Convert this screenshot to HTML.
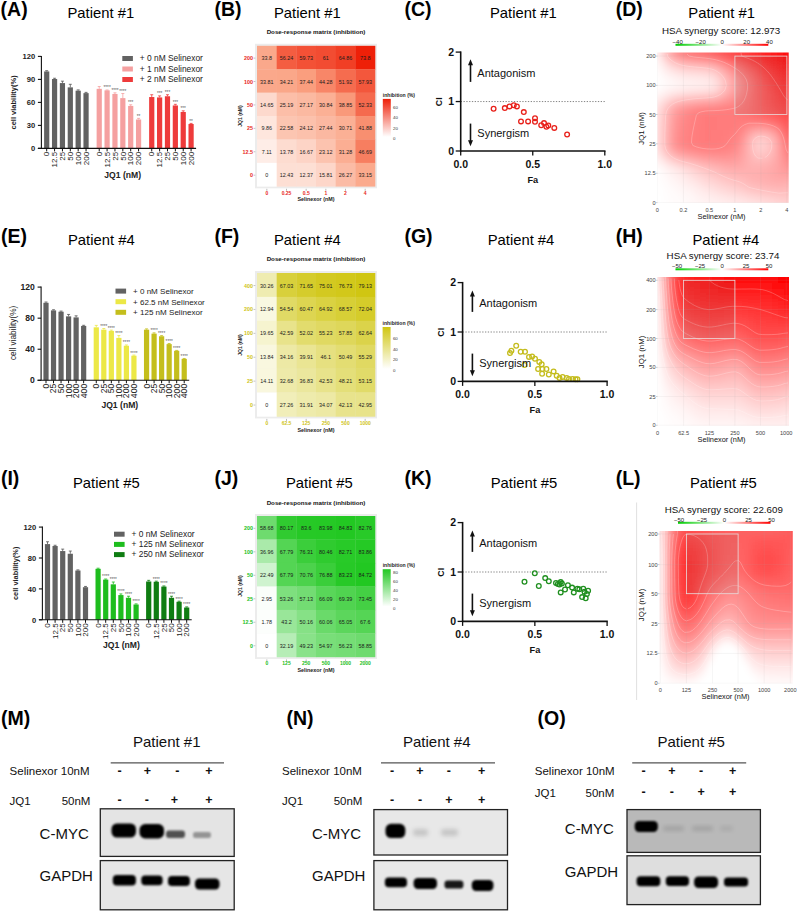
<!DOCTYPE html><html><head><meta charset="utf-8"><style>html,body{margin:0;padding:0;background:#fff;width:798px;height:911px;overflow:hidden}svg{display:block}text{font-family:"Liberation Sans",sans-serif}</style></head><body>
<svg width="798" height="911" viewBox="0 0 798 911">
<text x="0.6" y="15.6" font-size="19.5" font-weight="bold">(A)</text>
<text x="214.4" y="15.6" font-size="19.5" font-weight="bold">(B)</text>
<text x="404.4" y="15.6" font-size="19.5" font-weight="bold">(C)</text>
<text x="615.7" y="15.6" font-size="19.5" font-weight="bold">(D)</text>
<text x="0.9" y="242.6" font-size="19.5" font-weight="bold">(E)</text>
<text x="214.4" y="242.6" font-size="19.5" font-weight="bold">(F)</text>
<text x="404.4" y="242.6" font-size="19.5" font-weight="bold">(G)</text>
<text x="615.7" y="242.6" font-size="19.5" font-weight="bold">(H)</text>
<text x="0.9" y="485.4" font-size="19.5" font-weight="bold">(I)</text>
<text x="214.4" y="485.4" font-size="19.5" font-weight="bold">(J)</text>
<text x="404.4" y="485.4" font-size="19.5" font-weight="bold">(K)</text>
<text x="615.7" y="485.4" font-size="19.5" font-weight="bold">(L)</text>
<text x="0.9" y="724.8" font-size="19.5" font-weight="bold">(M)</text>
<text x="286.4" y="724.8" font-size="19.5" font-weight="bold">(N)</text>
<text x="537.5" y="724.8" font-size="19.5" font-weight="bold">(O)</text>
<text x="67.5" y="18.2" font-size="14.8">Patient #1</text>
<text x="274.0" y="18.2" font-size="14.8">Patient #1</text>
<text x="490.0" y="18.2" font-size="14.8">Patient #1</text>
<text x="688.3" y="18.2" font-size="14.8">Patient #1</text>
<text x="68.0" y="244.8" font-size="14.8">Patient #4</text>
<text x="274.0" y="244.8" font-size="14.8">Patient #4</text>
<text x="487.7" y="244.8" font-size="14.8">Patient #4</text>
<text x="692.5" y="244.8" font-size="14.8">Patient #4</text>
<text x="73.0" y="487.8" font-size="14.8">Patient #5</text>
<text x="286.0" y="487.8" font-size="14.8">Patient #5</text>
<text x="490.7" y="487.8" font-size="14.8">Patient #5</text>
<text x="690.0" y="487.8" font-size="14.8">Patient #5</text>
<rect x="44.10" y="71.43" width="5.20" height="76.97" fill="#626262"/>
<line x1="46.70" y1="71.43" x2="46.70" y2="70.66" stroke="#555" stroke-width="0.8"/>
<line x1="45.20" y1="70.66" x2="48.20" y2="70.66" stroke="#555" stroke-width="0.8"/>
<rect x="51.97" y="79.02" width="5.20" height="69.38" fill="#626262"/>
<line x1="54.57" y1="79.02" x2="54.57" y2="78.25" stroke="#555" stroke-width="0.8"/>
<line x1="53.07" y1="78.25" x2="56.07" y2="78.25" stroke="#555" stroke-width="0.8"/>
<rect x="59.84" y="83.08" width="5.20" height="65.32" fill="#626262"/>
<line x1="62.44" y1="83.08" x2="62.44" y2="81.16" stroke="#555" stroke-width="0.8"/>
<line x1="60.94" y1="81.16" x2="63.94" y2="81.16" stroke="#555" stroke-width="0.8"/>
<rect x="67.71" y="87.37" width="5.20" height="61.03" fill="#626262"/>
<line x1="70.31" y1="87.37" x2="70.31" y2="84.31" stroke="#555" stroke-width="0.8"/>
<line x1="68.81" y1="84.31" x2="71.81" y2="84.31" stroke="#555" stroke-width="0.8"/>
<rect x="75.58" y="90.67" width="5.20" height="57.73" fill="#626262"/>
<line x1="78.18" y1="90.67" x2="78.18" y2="89.90" stroke="#555" stroke-width="0.8"/>
<line x1="76.68" y1="89.90" x2="79.68" y2="89.90" stroke="#555" stroke-width="0.8"/>
<rect x="83.45" y="93.12" width="5.20" height="55.28" fill="#626262"/>
<line x1="86.05" y1="93.12" x2="86.05" y2="92.36" stroke="#555" stroke-width="0.8"/>
<line x1="84.55" y1="92.36" x2="87.55" y2="92.36" stroke="#555" stroke-width="0.8"/>
<rect x="96.62" y="88.83" width="5.20" height="59.57" fill="#f5a0a0"/>
<line x1="99.22" y1="88.83" x2="99.22" y2="86.53" stroke="#f5a0a0" stroke-width="0.8"/>
<line x1="97.72" y1="86.53" x2="100.72" y2="86.53" stroke="#f5a0a0" stroke-width="0.8"/>
<rect x="104.49" y="90.36" width="5.20" height="58.04" fill="#f5a0a0"/>
<line x1="107.09" y1="90.36" x2="107.09" y2="89.98" stroke="#f5a0a0" stroke-width="0.8"/>
<line x1="105.59" y1="89.98" x2="108.59" y2="89.98" stroke="#f5a0a0" stroke-width="0.8"/>
<text x="107.1" y="89.4" font-size="4.6" text-anchor="middle" fill="#555">****</text>
<rect x="112.36" y="93.97" width="5.20" height="54.43" fill="#f5a0a0"/>
<line x1="114.96" y1="93.97" x2="114.96" y2="92.82" stroke="#f5a0a0" stroke-width="0.8"/>
<line x1="113.46" y1="92.82" x2="116.46" y2="92.82" stroke="#f5a0a0" stroke-width="0.8"/>
<text x="115.0" y="92.2" font-size="4.6" text-anchor="middle" fill="#555">****</text>
<rect x="120.23" y="98.11" width="5.20" height="50.29" fill="#f5a0a0"/>
<line x1="122.83" y1="98.11" x2="122.83" y2="93.51" stroke="#f5a0a0" stroke-width="0.8"/>
<line x1="121.33" y1="93.51" x2="124.33" y2="93.51" stroke="#f5a0a0" stroke-width="0.8"/>
<text x="122.8" y="92.9" font-size="4.6" text-anchor="middle" fill="#555">****</text>
<rect x="128.10" y="105.93" width="5.20" height="42.47" fill="#f5a0a0"/>
<line x1="130.70" y1="105.93" x2="130.70" y2="104.78" stroke="#f5a0a0" stroke-width="0.8"/>
<line x1="129.20" y1="104.78" x2="132.20" y2="104.78" stroke="#f5a0a0" stroke-width="0.8"/>
<text x="130.7" y="104.2" font-size="4.6" text-anchor="middle" fill="#555">***</text>
<rect x="135.97" y="119.50" width="5.20" height="28.90" fill="#f5a0a0"/>
<line x1="138.57" y1="119.50" x2="138.57" y2="118.35" stroke="#f5a0a0" stroke-width="0.8"/>
<line x1="137.07" y1="118.35" x2="140.07" y2="118.35" stroke="#f5a0a0" stroke-width="0.8"/>
<text x="138.6" y="117.7" font-size="4.6" text-anchor="middle" fill="#555">**</text>
<rect x="149.14" y="97.03" width="5.20" height="51.37" fill="#ee3b3b"/>
<line x1="151.74" y1="97.03" x2="151.74" y2="94.73" stroke="#ee3b3b" stroke-width="0.8"/>
<line x1="150.24" y1="94.73" x2="153.24" y2="94.73" stroke="#ee3b3b" stroke-width="0.8"/>
<rect x="157.01" y="97.42" width="5.20" height="50.98" fill="#ee3b3b"/>
<line x1="159.61" y1="97.42" x2="159.61" y2="95.88" stroke="#ee3b3b" stroke-width="0.8"/>
<line x1="158.11" y1="95.88" x2="161.11" y2="95.88" stroke="#ee3b3b" stroke-width="0.8"/>
<text x="159.6" y="95.3" font-size="4.6" text-anchor="middle" fill="#555">***</text>
<rect x="164.88" y="96.27" width="5.20" height="52.13" fill="#ee3b3b"/>
<line x1="167.48" y1="96.27" x2="167.48" y2="94.73" stroke="#ee3b3b" stroke-width="0.8"/>
<line x1="165.98" y1="94.73" x2="168.98" y2="94.73" stroke="#ee3b3b" stroke-width="0.8"/>
<text x="167.5" y="94.1" font-size="4.6" text-anchor="middle" fill="#555">***</text>
<rect x="172.75" y="105.47" width="5.20" height="42.93" fill="#ee3b3b"/>
<line x1="175.35" y1="105.47" x2="175.35" y2="104.32" stroke="#ee3b3b" stroke-width="0.8"/>
<line x1="173.85" y1="104.32" x2="176.85" y2="104.32" stroke="#ee3b3b" stroke-width="0.8"/>
<text x="175.4" y="103.7" font-size="4.6" text-anchor="middle" fill="#555">***</text>
<rect x="180.62" y="111.98" width="5.20" height="36.42" fill="#ee3b3b"/>
<line x1="183.22" y1="111.98" x2="183.22" y2="110.83" stroke="#ee3b3b" stroke-width="0.8"/>
<line x1="181.72" y1="110.83" x2="184.72" y2="110.83" stroke="#ee3b3b" stroke-width="0.8"/>
<text x="183.2" y="110.2" font-size="4.6" text-anchor="middle" fill="#555">***</text>
<rect x="188.49" y="124.02" width="5.20" height="24.38" fill="#ee3b3b"/>
<line x1="191.09" y1="124.02" x2="191.09" y2="123.41" stroke="#ee3b3b" stroke-width="0.8"/>
<line x1="189.59" y1="123.41" x2="192.59" y2="123.41" stroke="#ee3b3b" stroke-width="0.8"/>
<text x="191.1" y="122.8" font-size="4.6" text-anchor="middle" fill="#555">**</text>
<line x1="41.40" y1="55.90" x2="41.40" y2="148.40" stroke="#111" stroke-width="1.1"/>
<line x1="37.90" y1="148.40" x2="196.09" y2="148.40" stroke="#111" stroke-width="1.1"/>
<line x1="37.90" y1="148.40" x2="41.40" y2="148.40" stroke="#111" stroke-width="1.1"/>
<text x="35.2" y="151.1" font-size="7.6" font-weight="bold" text-anchor="end" fill="#222">0</text>
<line x1="37.90" y1="125.40" x2="41.40" y2="125.40" stroke="#111" stroke-width="1.1"/>
<text x="35.2" y="128.1" font-size="7.6" font-weight="bold" text-anchor="end" fill="#222">30</text>
<line x1="37.90" y1="102.40" x2="41.40" y2="102.40" stroke="#111" stroke-width="1.1"/>
<text x="35.2" y="105.1" font-size="7.6" font-weight="bold" text-anchor="end" fill="#222">60</text>
<line x1="37.90" y1="79.40" x2="41.40" y2="79.40" stroke="#111" stroke-width="1.1"/>
<text x="35.2" y="82.1" font-size="7.6" font-weight="bold" text-anchor="end" fill="#222">90</text>
<line x1="37.90" y1="56.40" x2="41.40" y2="56.40" stroke="#111" stroke-width="1.1"/>
<text x="35.2" y="59.1" font-size="7.6" font-weight="bold" text-anchor="end" fill="#222">120</text>
<line x1="46.70" y1="148.40" x2="46.70" y2="151.40" stroke="#111" stroke-width="1.0"/>
<text x="49.5" y="151.9" font-size="8.0" text-anchor="end" fill="#222" transform="rotate(-90 49.5 151.9)">0</text>
<line x1="54.57" y1="148.40" x2="54.57" y2="151.40" stroke="#111" stroke-width="1.0"/>
<text x="57.4" y="151.9" font-size="8.0" text-anchor="end" fill="#222" transform="rotate(-90 57.4 151.9)">12.5</text>
<line x1="62.44" y1="148.40" x2="62.44" y2="151.40" stroke="#111" stroke-width="1.0"/>
<text x="65.2" y="151.9" font-size="8.0" text-anchor="end" fill="#222" transform="rotate(-90 65.2 151.9)">25</text>
<line x1="70.31" y1="148.40" x2="70.31" y2="151.40" stroke="#111" stroke-width="1.0"/>
<text x="73.1" y="151.9" font-size="8.0" text-anchor="end" fill="#222" transform="rotate(-90 73.1 151.9)">50</text>
<line x1="78.18" y1="148.40" x2="78.18" y2="151.40" stroke="#111" stroke-width="1.0"/>
<text x="81.0" y="151.9" font-size="8.0" text-anchor="end" fill="#222" transform="rotate(-90 81.0 151.9)">100</text>
<line x1="86.05" y1="148.40" x2="86.05" y2="151.40" stroke="#111" stroke-width="1.0"/>
<text x="88.9" y="151.9" font-size="8.0" text-anchor="end" fill="#222" transform="rotate(-90 88.9 151.9)">200</text>
<line x1="99.22" y1="148.40" x2="99.22" y2="151.40" stroke="#111" stroke-width="1.0"/>
<text x="102.0" y="151.9" font-size="8.0" text-anchor="end" fill="#222" transform="rotate(-90 102.0 151.9)">0</text>
<line x1="107.09" y1="148.40" x2="107.09" y2="151.40" stroke="#111" stroke-width="1.0"/>
<text x="109.9" y="151.9" font-size="8.0" text-anchor="end" fill="#222" transform="rotate(-90 109.9 151.9)">12.5</text>
<line x1="114.96" y1="148.40" x2="114.96" y2="151.40" stroke="#111" stroke-width="1.0"/>
<text x="117.8" y="151.9" font-size="8.0" text-anchor="end" fill="#222" transform="rotate(-90 117.8 151.9)">25</text>
<line x1="122.83" y1="148.40" x2="122.83" y2="151.40" stroke="#111" stroke-width="1.0"/>
<text x="125.6" y="151.9" font-size="8.0" text-anchor="end" fill="#222" transform="rotate(-90 125.6 151.9)">50</text>
<line x1="130.70" y1="148.40" x2="130.70" y2="151.40" stroke="#111" stroke-width="1.0"/>
<text x="133.5" y="151.9" font-size="8.0" text-anchor="end" fill="#222" transform="rotate(-90 133.5 151.9)">100</text>
<line x1="138.57" y1="148.40" x2="138.57" y2="151.40" stroke="#111" stroke-width="1.0"/>
<text x="141.4" y="151.9" font-size="8.0" text-anchor="end" fill="#222" transform="rotate(-90 141.4 151.9)">200</text>
<line x1="151.74" y1="148.40" x2="151.74" y2="151.40" stroke="#111" stroke-width="1.0"/>
<text x="154.5" y="151.9" font-size="8.0" text-anchor="end" fill="#222" transform="rotate(-90 154.5 151.9)">0</text>
<line x1="159.61" y1="148.40" x2="159.61" y2="151.40" stroke="#111" stroke-width="1.0"/>
<text x="162.4" y="151.9" font-size="8.0" text-anchor="end" fill="#222" transform="rotate(-90 162.4 151.9)">12.5</text>
<line x1="167.48" y1="148.40" x2="167.48" y2="151.40" stroke="#111" stroke-width="1.0"/>
<text x="170.3" y="151.9" font-size="8.0" text-anchor="end" fill="#222" transform="rotate(-90 170.3 151.9)">25</text>
<line x1="175.35" y1="148.40" x2="175.35" y2="151.40" stroke="#111" stroke-width="1.0"/>
<text x="178.2" y="151.9" font-size="8.0" text-anchor="end" fill="#222" transform="rotate(-90 178.2 151.9)">50</text>
<line x1="183.22" y1="148.40" x2="183.22" y2="151.40" stroke="#111" stroke-width="1.0"/>
<text x="186.0" y="151.9" font-size="8.0" text-anchor="end" fill="#222" transform="rotate(-90 186.0 151.9)">100</text>
<line x1="191.09" y1="148.40" x2="191.09" y2="151.40" stroke="#111" stroke-width="1.0"/>
<text x="193.9" y="151.9" font-size="8.0" text-anchor="end" fill="#222" transform="rotate(-90 193.9 151.9)">200</text>
<rect x="122.30" y="56.00" width="10.60" height="5.00" fill="#626262"/>
<text x="139.8" y="61.3" font-size="8.4" fill="#222">+ 0 nM Selinexor</text>
<rect x="122.30" y="66.50" width="10.60" height="5.00" fill="#f5a0a0"/>
<text x="139.8" y="71.8" font-size="8.4" fill="#222">+ 1 nM Selinexor</text>
<rect x="122.30" y="77.00" width="10.60" height="5.00" fill="#ee3b3b"/>
<text x="139.8" y="82.3" font-size="8.4" fill="#222">+ 2 nM Selinexor</text>
<text x="104.3" y="177.8" font-size="8.6" font-weight="bold" fill="#222">JQ1 (nM)</text>
<rect x="43.40" y="302.79" width="5.20" height="77.51" fill="#626262"/>
<line x1="46.00" y1="302.79" x2="46.00" y2="302.01" stroke="#555" stroke-width="0.8"/>
<line x1="44.50" y1="302.01" x2="47.50" y2="302.01" stroke="#555" stroke-width="0.8"/>
<rect x="50.93" y="310.40" width="5.20" height="69.90" fill="#626262"/>
<line x1="53.53" y1="310.40" x2="53.53" y2="309.78" stroke="#555" stroke-width="0.8"/>
<line x1="52.03" y1="309.78" x2="55.03" y2="309.78" stroke="#555" stroke-width="0.8"/>
<rect x="58.46" y="311.72" width="5.20" height="68.58" fill="#626262"/>
<line x1="61.06" y1="311.72" x2="61.06" y2="311.10" stroke="#555" stroke-width="0.8"/>
<line x1="59.56" y1="311.10" x2="62.56" y2="311.10" stroke="#555" stroke-width="0.8"/>
<rect x="65.99" y="316.38" width="5.20" height="63.92" fill="#626262"/>
<line x1="68.59" y1="316.38" x2="68.59" y2="314.44" stroke="#555" stroke-width="0.8"/>
<line x1="67.09" y1="314.44" x2="70.09" y2="314.44" stroke="#555" stroke-width="0.8"/>
<rect x="73.52" y="317.39" width="5.20" height="62.91" fill="#626262"/>
<line x1="76.12" y1="317.39" x2="76.12" y2="315.84" stroke="#555" stroke-width="0.8"/>
<line x1="74.62" y1="315.84" x2="77.62" y2="315.84" stroke="#555" stroke-width="0.8"/>
<rect x="81.05" y="325.93" width="5.20" height="54.37" fill="#626262"/>
<line x1="83.65" y1="325.93" x2="83.65" y2="325.31" stroke="#555" stroke-width="0.8"/>
<line x1="82.15" y1="325.31" x2="85.15" y2="325.31" stroke="#555" stroke-width="0.8"/>
<rect x="93.68" y="327.33" width="5.20" height="52.97" fill="#ece846"/>
<line x1="96.28" y1="327.33" x2="96.28" y2="325.39" stroke="#ece846" stroke-width="0.8"/>
<line x1="94.78" y1="325.39" x2="97.78" y2="325.39" stroke="#ece846" stroke-width="0.8"/>
<rect x="101.21" y="329.66" width="5.20" height="50.64" fill="#ece846"/>
<line x1="103.81" y1="329.66" x2="103.81" y2="328.50" stroke="#ece846" stroke-width="0.8"/>
<line x1="102.31" y1="328.50" x2="105.31" y2="328.50" stroke="#ece846" stroke-width="0.8"/>
<text x="103.8" y="327.9" font-size="4.6" text-anchor="middle" fill="#555">****</text>
<rect x="108.74" y="330.90" width="5.20" height="49.40" fill="#ece846"/>
<line x1="111.34" y1="330.90" x2="111.34" y2="330.13" stroke="#ece846" stroke-width="0.8"/>
<line x1="109.84" y1="330.13" x2="112.84" y2="330.13" stroke="#ece846" stroke-width="0.8"/>
<text x="111.3" y="329.5" font-size="4.6" text-anchor="middle" fill="#555">****</text>
<rect x="116.27" y="337.89" width="5.20" height="42.41" fill="#ece846"/>
<line x1="118.87" y1="337.89" x2="118.87" y2="335.56" stroke="#ece846" stroke-width="0.8"/>
<line x1="117.37" y1="335.56" x2="120.37" y2="335.56" stroke="#ece846" stroke-width="0.8"/>
<text x="118.9" y="335.0" font-size="4.6" text-anchor="middle" fill="#555">****</text>
<rect x="123.80" y="345.74" width="5.20" height="34.56" fill="#ece846"/>
<line x1="126.40" y1="345.74" x2="126.40" y2="344.96" stroke="#ece846" stroke-width="0.8"/>
<line x1="124.90" y1="344.96" x2="127.90" y2="344.96" stroke="#ece846" stroke-width="0.8"/>
<text x="126.4" y="344.4" font-size="4.6" text-anchor="middle" fill="#555">****</text>
<rect x="131.33" y="355.68" width="5.20" height="24.62" fill="#ece846"/>
<line x1="133.93" y1="355.68" x2="133.93" y2="355.06" stroke="#ece846" stroke-width="0.8"/>
<line x1="132.43" y1="355.06" x2="135.43" y2="355.06" stroke="#ece846" stroke-width="0.8"/>
<text x="133.9" y="354.5" font-size="4.6" text-anchor="middle" fill="#555">****</text>
<rect x="143.96" y="329.66" width="5.20" height="50.64" fill="#c4be1c"/>
<line x1="146.56" y1="329.66" x2="146.56" y2="328.88" stroke="#c4be1c" stroke-width="0.8"/>
<line x1="145.06" y1="328.88" x2="148.06" y2="328.88" stroke="#c4be1c" stroke-width="0.8"/>
<rect x="151.49" y="333.62" width="5.20" height="46.68" fill="#c4be1c"/>
<line x1="154.09" y1="333.62" x2="154.09" y2="332.85" stroke="#c4be1c" stroke-width="0.8"/>
<line x1="152.59" y1="332.85" x2="155.59" y2="332.85" stroke="#c4be1c" stroke-width="0.8"/>
<text x="154.1" y="332.2" font-size="4.6" text-anchor="middle" fill="#555">****</text>
<rect x="159.02" y="336.26" width="5.20" height="44.04" fill="#c4be1c"/>
<line x1="161.62" y1="336.26" x2="161.62" y2="335.64" stroke="#c4be1c" stroke-width="0.8"/>
<line x1="160.12" y1="335.64" x2="163.12" y2="335.64" stroke="#c4be1c" stroke-width="0.8"/>
<text x="161.6" y="335.0" font-size="4.6" text-anchor="middle" fill="#555">****</text>
<rect x="166.55" y="344.11" width="5.20" height="36.19" fill="#c4be1c"/>
<line x1="169.15" y1="344.11" x2="169.15" y2="343.49" stroke="#c4be1c" stroke-width="0.8"/>
<line x1="167.65" y1="343.49" x2="170.65" y2="343.49" stroke="#c4be1c" stroke-width="0.8"/>
<text x="169.2" y="342.9" font-size="4.6" text-anchor="middle" fill="#555">****</text>
<rect x="174.08" y="350.79" width="5.20" height="29.51" fill="#c4be1c"/>
<line x1="176.68" y1="350.79" x2="176.68" y2="350.40" stroke="#c4be1c" stroke-width="0.8"/>
<line x1="175.18" y1="350.40" x2="178.18" y2="350.40" stroke="#c4be1c" stroke-width="0.8"/>
<text x="176.7" y="349.8" font-size="4.6" text-anchor="middle" fill="#555">****</text>
<rect x="181.61" y="358.86" width="5.20" height="21.44" fill="#c4be1c"/>
<line x1="184.21" y1="358.86" x2="184.21" y2="358.48" stroke="#c4be1c" stroke-width="0.8"/>
<line x1="182.71" y1="358.48" x2="185.71" y2="358.48" stroke="#c4be1c" stroke-width="0.8"/>
<text x="184.2" y="357.9" font-size="4.6" text-anchor="middle" fill="#555">****</text>
<line x1="41.10" y1="286.60" x2="41.10" y2="380.30" stroke="#111" stroke-width="1.1"/>
<line x1="37.60" y1="380.30" x2="189.21" y2="380.30" stroke="#111" stroke-width="1.1"/>
<line x1="37.60" y1="380.30" x2="41.10" y2="380.30" stroke="#111" stroke-width="1.1"/>
<text x="34.9" y="383.4" font-size="8.6" font-weight="bold" text-anchor="end" fill="#222">0</text>
<line x1="37.60" y1="349.23" x2="41.10" y2="349.23" stroke="#111" stroke-width="1.1"/>
<text x="34.9" y="352.3" font-size="8.6" font-weight="bold" text-anchor="end" fill="#222">40</text>
<line x1="37.60" y1="318.17" x2="41.10" y2="318.17" stroke="#111" stroke-width="1.1"/>
<text x="34.9" y="321.3" font-size="8.6" font-weight="bold" text-anchor="end" fill="#222">80</text>
<line x1="37.60" y1="287.10" x2="41.10" y2="287.10" stroke="#111" stroke-width="1.1"/>
<text x="34.9" y="290.2" font-size="8.6" font-weight="bold" text-anchor="end" fill="#222">120</text>
<line x1="46.00" y1="380.30" x2="46.00" y2="383.30" stroke="#111" stroke-width="1.0"/>
<text x="49.0" y="383.8" font-size="8.6" text-anchor="end" fill="#222" transform="rotate(-90 49.0 383.8)">0</text>
<line x1="53.53" y1="380.30" x2="53.53" y2="383.30" stroke="#111" stroke-width="1.0"/>
<text x="56.5" y="383.8" font-size="8.6" text-anchor="end" fill="#222" transform="rotate(-90 56.5 383.8)">25</text>
<line x1="61.06" y1="380.30" x2="61.06" y2="383.30" stroke="#111" stroke-width="1.0"/>
<text x="64.1" y="383.8" font-size="8.6" text-anchor="end" fill="#222" transform="rotate(-90 64.1 383.8)">50</text>
<line x1="68.59" y1="380.30" x2="68.59" y2="383.30" stroke="#111" stroke-width="1.0"/>
<text x="71.6" y="383.8" font-size="8.6" text-anchor="end" fill="#222" transform="rotate(-90 71.6 383.8)">100</text>
<line x1="76.12" y1="380.30" x2="76.12" y2="383.30" stroke="#111" stroke-width="1.0"/>
<text x="79.1" y="383.8" font-size="8.6" text-anchor="end" fill="#222" transform="rotate(-90 79.1 383.8)">200</text>
<line x1="83.65" y1="380.30" x2="83.65" y2="383.30" stroke="#111" stroke-width="1.0"/>
<text x="86.7" y="383.8" font-size="8.6" text-anchor="end" fill="#222" transform="rotate(-90 86.7 383.8)">400</text>
<line x1="96.28" y1="380.30" x2="96.28" y2="383.30" stroke="#111" stroke-width="1.0"/>
<text x="99.3" y="383.8" font-size="8.6" text-anchor="end" fill="#222" transform="rotate(-90 99.3 383.8)">0</text>
<line x1="103.81" y1="380.30" x2="103.81" y2="383.30" stroke="#111" stroke-width="1.0"/>
<text x="106.8" y="383.8" font-size="8.6" text-anchor="end" fill="#222" transform="rotate(-90 106.8 383.8)">25</text>
<line x1="111.34" y1="380.30" x2="111.34" y2="383.30" stroke="#111" stroke-width="1.0"/>
<text x="114.4" y="383.8" font-size="8.6" text-anchor="end" fill="#222" transform="rotate(-90 114.4 383.8)">50</text>
<line x1="118.87" y1="380.30" x2="118.87" y2="383.30" stroke="#111" stroke-width="1.0"/>
<text x="121.9" y="383.8" font-size="8.6" text-anchor="end" fill="#222" transform="rotate(-90 121.9 383.8)">100</text>
<line x1="126.40" y1="380.30" x2="126.40" y2="383.30" stroke="#111" stroke-width="1.0"/>
<text x="129.4" y="383.8" font-size="8.6" text-anchor="end" fill="#222" transform="rotate(-90 129.4 383.8)">200</text>
<line x1="133.93" y1="380.30" x2="133.93" y2="383.30" stroke="#111" stroke-width="1.0"/>
<text x="136.9" y="383.8" font-size="8.6" text-anchor="end" fill="#222" transform="rotate(-90 136.9 383.8)">400</text>
<line x1="146.56" y1="380.30" x2="146.56" y2="383.30" stroke="#111" stroke-width="1.0"/>
<text x="149.6" y="383.8" font-size="8.6" text-anchor="end" fill="#222" transform="rotate(-90 149.6 383.8)">0</text>
<line x1="154.09" y1="380.30" x2="154.09" y2="383.30" stroke="#111" stroke-width="1.0"/>
<text x="157.1" y="383.8" font-size="8.6" text-anchor="end" fill="#222" transform="rotate(-90 157.1 383.8)">25</text>
<line x1="161.62" y1="380.30" x2="161.62" y2="383.30" stroke="#111" stroke-width="1.0"/>
<text x="164.6" y="383.8" font-size="8.6" text-anchor="end" fill="#222" transform="rotate(-90 164.6 383.8)">50</text>
<line x1="169.15" y1="380.30" x2="169.15" y2="383.30" stroke="#111" stroke-width="1.0"/>
<text x="172.2" y="383.8" font-size="8.6" text-anchor="end" fill="#222" transform="rotate(-90 172.2 383.8)">100</text>
<line x1="176.68" y1="380.30" x2="176.68" y2="383.30" stroke="#111" stroke-width="1.0"/>
<text x="179.7" y="383.8" font-size="8.6" text-anchor="end" fill="#222" transform="rotate(-90 179.7 383.8)">200</text>
<line x1="184.21" y1="380.30" x2="184.21" y2="383.30" stroke="#111" stroke-width="1.0"/>
<text x="187.2" y="383.8" font-size="8.6" text-anchor="end" fill="#222" transform="rotate(-90 187.2 383.8)">400</text>
<rect x="115.50" y="288.60" width="10.60" height="5.00" fill="#626262"/>
<text x="133.0" y="293.9" font-size="8.05" fill="#222">+ 0 nM Selinexor</text>
<rect x="115.50" y="299.20" width="10.60" height="5.00" fill="#ece846"/>
<text x="133.0" y="304.5" font-size="8.05" fill="#222">+ 62.5 nM Selinexor</text>
<rect x="115.50" y="309.80" width="10.60" height="5.00" fill="#c4be1c"/>
<text x="133.0" y="315.1" font-size="8.05" fill="#222">+ 125 nM Selinexor</text>
<text x="101.4" y="407.7" font-size="8.6" font-weight="bold" fill="#222">JQ1 (nM)</text>
<rect x="44.90" y="544.10" width="5.20" height="75.70" fill="#626262"/>
<line x1="47.50" y1="544.10" x2="47.50" y2="541.78" stroke="#555" stroke-width="0.8"/>
<line x1="46.00" y1="541.78" x2="49.00" y2="541.78" stroke="#555" stroke-width="0.8"/>
<rect x="52.50" y="546.03" width="5.20" height="73.77" fill="#626262"/>
<line x1="55.10" y1="546.03" x2="55.10" y2="545.25" stroke="#555" stroke-width="0.8"/>
<line x1="53.60" y1="545.25" x2="56.60" y2="545.25" stroke="#555" stroke-width="0.8"/>
<rect x="60.10" y="551.05" width="5.20" height="68.75" fill="#626262"/>
<line x1="62.70" y1="551.05" x2="62.70" y2="549.12" stroke="#555" stroke-width="0.8"/>
<line x1="61.20" y1="549.12" x2="64.20" y2="549.12" stroke="#555" stroke-width="0.8"/>
<rect x="67.70" y="553.75" width="5.20" height="66.05" fill="#626262"/>
<line x1="70.30" y1="553.75" x2="70.30" y2="551.05" stroke="#555" stroke-width="0.8"/>
<line x1="68.80" y1="551.05" x2="71.80" y2="551.05" stroke="#555" stroke-width="0.8"/>
<rect x="75.30" y="570.51" width="5.20" height="49.29" fill="#626262"/>
<line x1="77.90" y1="570.51" x2="77.90" y2="569.90" stroke="#555" stroke-width="0.8"/>
<line x1="76.40" y1="569.90" x2="79.40" y2="569.90" stroke="#555" stroke-width="0.8"/>
<rect x="82.90" y="587.20" width="5.20" height="32.60" fill="#626262"/>
<line x1="85.50" y1="587.20" x2="85.50" y2="586.43" stroke="#555" stroke-width="0.8"/>
<line x1="84.00" y1="586.43" x2="87.00" y2="586.43" stroke="#555" stroke-width="0.8"/>
<rect x="95.50" y="568.81" width="5.20" height="50.98" fill="#1ebd1e"/>
<line x1="98.10" y1="568.81" x2="98.10" y2="568.20" stroke="#1ebd1e" stroke-width="0.8"/>
<line x1="96.60" y1="568.20" x2="99.60" y2="568.20" stroke="#1ebd1e" stroke-width="0.8"/>
<rect x="103.10" y="579.63" width="5.20" height="40.17" fill="#1ebd1e"/>
<line x1="105.70" y1="579.63" x2="105.70" y2="579.01" stroke="#1ebd1e" stroke-width="0.8"/>
<line x1="104.20" y1="579.01" x2="107.20" y2="579.01" stroke="#1ebd1e" stroke-width="0.8"/>
<text x="105.7" y="578.4" font-size="4.6" text-anchor="middle" fill="#555">****</text>
<rect x="110.70" y="584.34" width="5.20" height="35.46" fill="#1ebd1e"/>
<line x1="113.30" y1="584.34" x2="113.30" y2="582.02" stroke="#1ebd1e" stroke-width="0.8"/>
<line x1="111.80" y1="582.02" x2="114.80" y2="582.02" stroke="#1ebd1e" stroke-width="0.8"/>
<text x="113.3" y="581.4" font-size="4.6" text-anchor="middle" fill="#555">****</text>
<rect x="118.30" y="595.08" width="5.20" height="24.72" fill="#1ebd1e"/>
<line x1="120.90" y1="595.08" x2="120.90" y2="593.92" stroke="#1ebd1e" stroke-width="0.8"/>
<line x1="119.40" y1="593.92" x2="122.40" y2="593.92" stroke="#1ebd1e" stroke-width="0.8"/>
<text x="120.9" y="593.3" font-size="4.6" text-anchor="middle" fill="#555">****</text>
<rect x="125.90" y="597.78" width="5.20" height="22.02" fill="#1ebd1e"/>
<line x1="128.50" y1="597.78" x2="128.50" y2="596.24" stroke="#1ebd1e" stroke-width="0.8"/>
<line x1="127.00" y1="596.24" x2="130.00" y2="596.24" stroke="#1ebd1e" stroke-width="0.8"/>
<text x="128.5" y="595.6" font-size="4.6" text-anchor="middle" fill="#555">****</text>
<rect x="133.50" y="604.50" width="5.20" height="15.30" fill="#1ebd1e"/>
<line x1="136.10" y1="604.50" x2="136.10" y2="603.89" stroke="#1ebd1e" stroke-width="0.8"/>
<line x1="134.60" y1="603.89" x2="137.60" y2="603.89" stroke="#1ebd1e" stroke-width="0.8"/>
<text x="136.1" y="603.3" font-size="4.6" text-anchor="middle" fill="#555">****</text>
<rect x="146.10" y="581.48" width="5.20" height="38.32" fill="#0f7d12"/>
<line x1="148.70" y1="581.48" x2="148.70" y2="580.33" stroke="#0f7d12" stroke-width="0.8"/>
<line x1="147.20" y1="580.33" x2="150.20" y2="580.33" stroke="#0f7d12" stroke-width="0.8"/>
<rect x="153.70" y="581.79" width="5.20" height="38.01" fill="#0f7d12"/>
<line x1="156.30" y1="581.79" x2="156.30" y2="581.17" stroke="#0f7d12" stroke-width="0.8"/>
<line x1="154.80" y1="581.17" x2="157.80" y2="581.17" stroke="#0f7d12" stroke-width="0.8"/>
<text x="156.3" y="580.6" font-size="4.6" text-anchor="middle" fill="#555">****</text>
<rect x="161.30" y="586.58" width="5.20" height="33.22" fill="#0f7d12"/>
<line x1="163.90" y1="586.58" x2="163.90" y2="585.96" stroke="#0f7d12" stroke-width="0.8"/>
<line x1="162.40" y1="585.96" x2="165.40" y2="585.96" stroke="#0f7d12" stroke-width="0.8"/>
<text x="163.9" y="585.4" font-size="4.6" text-anchor="middle" fill="#555">****</text>
<rect x="168.90" y="597.78" width="5.20" height="22.02" fill="#0f7d12"/>
<line x1="171.50" y1="597.78" x2="171.50" y2="596.24" stroke="#0f7d12" stroke-width="0.8"/>
<line x1="170.00" y1="596.24" x2="173.00" y2="596.24" stroke="#0f7d12" stroke-width="0.8"/>
<text x="171.5" y="595.6" font-size="4.6" text-anchor="middle" fill="#555">****</text>
<rect x="176.50" y="601.80" width="5.20" height="18.00" fill="#0f7d12"/>
<line x1="179.10" y1="601.80" x2="179.10" y2="601.18" stroke="#0f7d12" stroke-width="0.8"/>
<line x1="177.60" y1="601.18" x2="180.60" y2="601.18" stroke="#0f7d12" stroke-width="0.8"/>
<text x="179.1" y="600.6" font-size="4.6" text-anchor="middle" fill="#555">****</text>
<rect x="184.10" y="607.52" width="5.20" height="12.28" fill="#0f7d12"/>
<line x1="186.70" y1="607.52" x2="186.70" y2="606.90" stroke="#0f7d12" stroke-width="0.8"/>
<line x1="185.20" y1="606.90" x2="188.20" y2="606.90" stroke="#0f7d12" stroke-width="0.8"/>
<text x="186.7" y="606.3" font-size="4.6" text-anchor="middle" fill="#555">****</text>
<line x1="42.40" y1="526.60" x2="42.40" y2="619.80" stroke="#111" stroke-width="1.1"/>
<line x1="38.90" y1="619.80" x2="191.70" y2="619.80" stroke="#111" stroke-width="1.1"/>
<line x1="38.90" y1="619.80" x2="42.40" y2="619.80" stroke="#111" stroke-width="1.1"/>
<text x="36.2" y="622.5" font-size="7.6" font-weight="bold" text-anchor="end" fill="#222">0</text>
<line x1="38.90" y1="588.90" x2="42.40" y2="588.90" stroke="#111" stroke-width="1.1"/>
<text x="36.2" y="591.6" font-size="7.6" font-weight="bold" text-anchor="end" fill="#222">40</text>
<line x1="38.90" y1="558.00" x2="42.40" y2="558.00" stroke="#111" stroke-width="1.1"/>
<text x="36.2" y="560.7" font-size="7.6" font-weight="bold" text-anchor="end" fill="#222">80</text>
<line x1="38.90" y1="527.10" x2="42.40" y2="527.10" stroke="#111" stroke-width="1.1"/>
<text x="36.2" y="529.8" font-size="7.6" font-weight="bold" text-anchor="end" fill="#222">120</text>
<line x1="47.50" y1="619.80" x2="47.50" y2="622.80" stroke="#111" stroke-width="1.0"/>
<text x="50.3" y="623.3" font-size="8.0" text-anchor="end" fill="#222" transform="rotate(-90 50.3 623.3)">0</text>
<line x1="55.10" y1="619.80" x2="55.10" y2="622.80" stroke="#111" stroke-width="1.0"/>
<text x="57.9" y="623.3" font-size="8.0" text-anchor="end" fill="#222" transform="rotate(-90 57.9 623.3)">12.5</text>
<line x1="62.70" y1="619.80" x2="62.70" y2="622.80" stroke="#111" stroke-width="1.0"/>
<text x="65.5" y="623.3" font-size="8.0" text-anchor="end" fill="#222" transform="rotate(-90 65.5 623.3)">25</text>
<line x1="70.30" y1="619.80" x2="70.30" y2="622.80" stroke="#111" stroke-width="1.0"/>
<text x="73.1" y="623.3" font-size="8.0" text-anchor="end" fill="#222" transform="rotate(-90 73.1 623.3)">50</text>
<line x1="77.90" y1="619.80" x2="77.90" y2="622.80" stroke="#111" stroke-width="1.0"/>
<text x="80.7" y="623.3" font-size="8.0" text-anchor="end" fill="#222" transform="rotate(-90 80.7 623.3)">100</text>
<line x1="85.50" y1="619.80" x2="85.50" y2="622.80" stroke="#111" stroke-width="1.0"/>
<text x="88.3" y="623.3" font-size="8.0" text-anchor="end" fill="#222" transform="rotate(-90 88.3 623.3)">200</text>
<line x1="98.10" y1="619.80" x2="98.10" y2="622.80" stroke="#111" stroke-width="1.0"/>
<text x="100.9" y="623.3" font-size="8.0" text-anchor="end" fill="#222" transform="rotate(-90 100.9 623.3)">0</text>
<line x1="105.70" y1="619.80" x2="105.70" y2="622.80" stroke="#111" stroke-width="1.0"/>
<text x="108.5" y="623.3" font-size="8.0" text-anchor="end" fill="#222" transform="rotate(-90 108.5 623.3)">12.5</text>
<line x1="113.30" y1="619.80" x2="113.30" y2="622.80" stroke="#111" stroke-width="1.0"/>
<text x="116.1" y="623.3" font-size="8.0" text-anchor="end" fill="#222" transform="rotate(-90 116.1 623.3)">25</text>
<line x1="120.90" y1="619.80" x2="120.90" y2="622.80" stroke="#111" stroke-width="1.0"/>
<text x="123.7" y="623.3" font-size="8.0" text-anchor="end" fill="#222" transform="rotate(-90 123.7 623.3)">50</text>
<line x1="128.50" y1="619.80" x2="128.50" y2="622.80" stroke="#111" stroke-width="1.0"/>
<text x="131.3" y="623.3" font-size="8.0" text-anchor="end" fill="#222" transform="rotate(-90 131.3 623.3)">100</text>
<line x1="136.10" y1="619.80" x2="136.10" y2="622.80" stroke="#111" stroke-width="1.0"/>
<text x="138.9" y="623.3" font-size="8.0" text-anchor="end" fill="#222" transform="rotate(-90 138.9 623.3)">200</text>
<line x1="148.70" y1="619.80" x2="148.70" y2="622.80" stroke="#111" stroke-width="1.0"/>
<text x="151.5" y="623.3" font-size="8.0" text-anchor="end" fill="#222" transform="rotate(-90 151.5 623.3)">0</text>
<line x1="156.30" y1="619.80" x2="156.30" y2="622.80" stroke="#111" stroke-width="1.0"/>
<text x="159.1" y="623.3" font-size="8.0" text-anchor="end" fill="#222" transform="rotate(-90 159.1 623.3)">12.5</text>
<line x1="163.90" y1="619.80" x2="163.90" y2="622.80" stroke="#111" stroke-width="1.0"/>
<text x="166.7" y="623.3" font-size="8.0" text-anchor="end" fill="#222" transform="rotate(-90 166.7 623.3)">25</text>
<line x1="171.50" y1="619.80" x2="171.50" y2="622.80" stroke="#111" stroke-width="1.0"/>
<text x="174.3" y="623.3" font-size="8.0" text-anchor="end" fill="#222" transform="rotate(-90 174.3 623.3)">50</text>
<line x1="179.10" y1="619.80" x2="179.10" y2="622.80" stroke="#111" stroke-width="1.0"/>
<text x="181.9" y="623.3" font-size="8.0" text-anchor="end" fill="#222" transform="rotate(-90 181.9 623.3)">100</text>
<line x1="186.70" y1="619.80" x2="186.70" y2="622.80" stroke="#111" stroke-width="1.0"/>
<text x="189.5" y="623.3" font-size="8.0" text-anchor="end" fill="#222" transform="rotate(-90 189.5 623.3)">200</text>
<rect x="114.00" y="531.70" width="10.60" height="5.00" fill="#626262"/>
<text x="131.5" y="537.0" font-size="8.4" fill="#222">+ 0 nM Selinexor</text>
<rect x="114.00" y="541.90" width="10.60" height="5.00" fill="#1ebd1e"/>
<text x="131.5" y="547.2" font-size="8.4" fill="#222">+ 125 nM Selinexor</text>
<rect x="114.00" y="552.10" width="10.60" height="5.00" fill="#0f7d12"/>
<text x="131.5" y="557.4" font-size="8.4" fill="#222">+ 250 nM Selinexor</text>
<text x="103.0" y="647.7" font-size="8.6" font-weight="bold" fill="#222">JQ1 (nM)</text>
<text x="15.5" y="129.5" font-size="7.5" font-weight="bold" fill="#222" transform="rotate(-90 15.5 129.5)">cell viability(%)</text>
<text x="16.0" y="360.0" font-size="8.2" fill="#222" transform="rotate(-90 16.0 360.0)">cell viability(%)</text>
<text x="17.8" y="600.0" font-size="7.4" font-weight="bold" fill="#222" transform="rotate(-90 17.8 600.0)">cell viability(%)</text>
<rect x="255.00" y="43.80" width="122.00" height="144.50" fill="#ececec"/>
<rect x="257.00" y="45.80" width="19.97" height="23.72" fill="#faa88b"/>
<text x="266.8" y="60.1" font-size="5.4" text-anchor="middle" fill="#1a1a1a">33.8</text>
<rect x="276.67" y="45.80" width="19.97" height="23.72" fill="#f45d41"/>
<text x="286.5" y="60.1" font-size="5.4" text-anchor="middle" fill="#1a1a1a">56.24</text>
<rect x="296.33" y="45.80" width="19.97" height="23.72" fill="#f35136"/>
<text x="306.2" y="60.1" font-size="5.4" text-anchor="middle" fill="#1a1a1a">59.73</text>
<rect x="316.00" y="45.80" width="19.97" height="23.72" fill="#f24c32"/>
<text x="325.8" y="60.1" font-size="5.4" text-anchor="middle" fill="#1a1a1a">61</text>
<rect x="335.67" y="45.80" width="19.97" height="23.72" fill="#f13f25"/>
<text x="345.5" y="60.1" font-size="5.4" text-anchor="middle" fill="#1a1a1a">64.86</text>
<rect x="355.33" y="45.80" width="19.97" height="23.72" fill="#ee2008"/>
<text x="365.2" y="60.1" font-size="5.4" text-anchor="middle" fill="#1a1a1a">73.8</text>
<rect x="257.00" y="69.22" width="19.97" height="23.72" fill="#faa88b"/>
<text x="266.8" y="83.5" font-size="5.4" text-anchor="middle" fill="#1a1a1a">33.81</text>
<rect x="276.67" y="69.22" width="19.97" height="23.72" fill="#faa789"/>
<text x="286.5" y="83.5" font-size="5.4" text-anchor="middle" fill="#1a1a1a">34.21</text>
<rect x="296.33" y="69.22" width="19.97" height="23.72" fill="#fa9e7e"/>
<text x="306.2" y="83.5" font-size="5.4" text-anchor="middle" fill="#1a1a1a">37.44</text>
<rect x="316.00" y="69.22" width="19.97" height="23.72" fill="#f88668"/>
<text x="325.8" y="83.5" font-size="5.4" text-anchor="middle" fill="#1a1a1a">44.28</text>
<rect x="335.67" y="69.22" width="19.97" height="23.72" fill="#f56c4f"/>
<text x="345.5" y="83.5" font-size="5.4" text-anchor="middle" fill="#1a1a1a">51.92</text>
<rect x="355.33" y="69.22" width="19.97" height="23.72" fill="#f3573c"/>
<text x="365.2" y="83.5" font-size="5.4" text-anchor="middle" fill="#1a1a1a">57.93</text>
<rect x="257.00" y="92.63" width="19.97" height="23.72" fill="#fdd9cd"/>
<text x="266.8" y="106.9" font-size="5.4" text-anchor="middle" fill="#1a1a1a">14.65</text>
<rect x="276.67" y="92.63" width="19.97" height="23.72" fill="#fcbea8"/>
<text x="286.5" y="106.9" font-size="5.4" text-anchor="middle" fill="#1a1a1a">25.19</text>
<rect x="296.33" y="92.63" width="19.97" height="23.72" fill="#fbb9a1"/>
<text x="306.2" y="106.9" font-size="5.4" text-anchor="middle" fill="#1a1a1a">27.17</text>
<rect x="316.00" y="92.63" width="19.97" height="23.72" fill="#fbb095"/>
<text x="325.8" y="106.9" font-size="5.4" text-anchor="middle" fill="#1a1a1a">30.84</text>
<rect x="335.67" y="92.63" width="19.97" height="23.72" fill="#f9997a"/>
<text x="345.5" y="106.9" font-size="5.4" text-anchor="middle" fill="#1a1a1a">38.85</text>
<rect x="355.33" y="92.63" width="19.97" height="23.72" fill="#f56a4e"/>
<text x="365.2" y="106.9" font-size="5.4" text-anchor="middle" fill="#1a1a1a">52.33</text>
<rect x="257.00" y="116.05" width="19.97" height="23.72" fill="#fee6dd"/>
<text x="266.8" y="130.4" font-size="5.4" text-anchor="middle" fill="#1a1a1a">9.86</text>
<rect x="276.67" y="116.05" width="19.97" height="23.72" fill="#fcc5b1"/>
<text x="286.5" y="130.4" font-size="5.4" text-anchor="middle" fill="#1a1a1a">22.58</text>
<rect x="296.33" y="116.05" width="19.97" height="23.72" fill="#fcc1ac"/>
<text x="306.2" y="130.4" font-size="5.4" text-anchor="middle" fill="#1a1a1a">24.12</text>
<rect x="316.00" y="116.05" width="19.97" height="23.72" fill="#fbb8a1"/>
<text x="325.8" y="130.4" font-size="5.4" text-anchor="middle" fill="#1a1a1a">27.44</text>
<rect x="335.67" y="116.05" width="19.97" height="23.72" fill="#fbb095"/>
<text x="345.5" y="130.4" font-size="5.4" text-anchor="middle" fill="#1a1a1a">30.71</text>
<rect x="355.33" y="116.05" width="19.97" height="23.72" fill="#f88f70"/>
<text x="365.2" y="130.4" font-size="5.4" text-anchor="middle" fill="#1a1a1a">41.88</text>
<rect x="257.00" y="139.47" width="19.97" height="23.72" fill="#feede7"/>
<text x="266.8" y="153.8" font-size="5.4" text-anchor="middle" fill="#1a1a1a">7.11</text>
<rect x="276.67" y="139.47" width="19.97" height="23.72" fill="#fddcd0"/>
<text x="286.5" y="153.8" font-size="5.4" text-anchor="middle" fill="#1a1a1a">13.78</text>
<rect x="296.33" y="139.47" width="19.97" height="23.72" fill="#fdd4c6"/>
<text x="306.2" y="153.8" font-size="5.4" text-anchor="middle" fill="#1a1a1a">16.67</text>
<rect x="316.00" y="139.47" width="19.97" height="23.72" fill="#fcc3af"/>
<text x="325.8" y="153.8" font-size="5.4" text-anchor="middle" fill="#1a1a1a">23.12</text>
<rect x="335.67" y="139.47" width="19.97" height="23.72" fill="#fbae93"/>
<text x="345.5" y="153.8" font-size="5.4" text-anchor="middle" fill="#1a1a1a">31.28</text>
<rect x="355.33" y="139.47" width="19.97" height="23.72" fill="#f77e60"/>
<text x="365.2" y="153.8" font-size="5.4" text-anchor="middle" fill="#1a1a1a">46.69</text>
<rect x="257.00" y="162.88" width="19.97" height="23.72" fill="#ffffff"/>
<text x="266.8" y="177.2" font-size="5.4" text-anchor="middle" fill="#1a1a1a">0</text>
<rect x="276.67" y="162.88" width="19.97" height="23.72" fill="#fddfd4"/>
<text x="286.5" y="177.2" font-size="5.4" text-anchor="middle" fill="#1a1a1a">12.43</text>
<rect x="296.33" y="162.88" width="19.97" height="23.72" fill="#fddfd4"/>
<text x="306.2" y="177.2" font-size="5.4" text-anchor="middle" fill="#1a1a1a">12.37</text>
<rect x="316.00" y="162.88" width="19.97" height="23.72" fill="#fdd6c9"/>
<text x="325.8" y="177.2" font-size="5.4" text-anchor="middle" fill="#1a1a1a">15.81</text>
<rect x="335.67" y="162.88" width="19.97" height="23.72" fill="#fbbba5"/>
<text x="345.5" y="177.2" font-size="5.4" text-anchor="middle" fill="#1a1a1a">26.27</text>
<rect x="355.33" y="162.88" width="19.97" height="23.72" fill="#fbaa8d"/>
<text x="365.2" y="177.2" font-size="5.4" text-anchor="middle" fill="#1a1a1a">33.15</text>
<text x="316.0" y="34.0" font-size="6.2" font-weight="bold" text-anchor="middle" fill="#111">Dose-response matrix (inhibition)</text>
<text x="253.0" y="60.1" font-size="5.4" font-weight="bold" text-anchor="end" fill="#e8281e">200</text>
<line x1="253.60" y1="58.11" x2="255.30" y2="58.11" stroke="#888" stroke-width="0.5"/>
<text x="253.0" y="83.5" font-size="5.4" font-weight="bold" text-anchor="end" fill="#e8281e">100</text>
<line x1="253.60" y1="81.52" x2="255.30" y2="81.52" stroke="#888" stroke-width="0.5"/>
<text x="253.0" y="106.9" font-size="5.4" font-weight="bold" text-anchor="end" fill="#e8281e">50</text>
<line x1="253.60" y1="104.94" x2="255.30" y2="104.94" stroke="#888" stroke-width="0.5"/>
<text x="253.0" y="130.4" font-size="5.4" font-weight="bold" text-anchor="end" fill="#e8281e">25</text>
<line x1="253.60" y1="128.36" x2="255.30" y2="128.36" stroke="#888" stroke-width="0.5"/>
<text x="253.0" y="153.8" font-size="5.4" font-weight="bold" text-anchor="end" fill="#e8281e">12.5</text>
<line x1="253.60" y1="151.78" x2="255.30" y2="151.78" stroke="#888" stroke-width="0.5"/>
<text x="253.0" y="177.2" font-size="5.4" font-weight="bold" text-anchor="end" fill="#e8281e">0</text>
<line x1="253.60" y1="175.19" x2="255.30" y2="175.19" stroke="#888" stroke-width="0.5"/>
<line x1="266.83" y1="188.80" x2="266.83" y2="190.80" stroke="#777" stroke-width="0.5"/>
<text x="266.8" y="194.5" font-size="5.0" font-weight="bold" text-anchor="middle" fill="#e8281e">0</text>
<line x1="286.50" y1="188.80" x2="286.50" y2="190.80" stroke="#777" stroke-width="0.5"/>
<text x="286.5" y="194.5" font-size="5.0" font-weight="bold" text-anchor="middle" fill="#e8281e">0.25</text>
<line x1="306.17" y1="188.80" x2="306.17" y2="190.80" stroke="#777" stroke-width="0.5"/>
<text x="306.2" y="194.5" font-size="5.0" font-weight="bold" text-anchor="middle" fill="#e8281e">0.5</text>
<line x1="325.83" y1="188.80" x2="325.83" y2="190.80" stroke="#777" stroke-width="0.5"/>
<text x="325.8" y="194.5" font-size="5.0" font-weight="bold" text-anchor="middle" fill="#e8281e">1</text>
<line x1="345.50" y1="188.80" x2="345.50" y2="190.80" stroke="#777" stroke-width="0.5"/>
<text x="345.5" y="194.5" font-size="5.0" font-weight="bold" text-anchor="middle" fill="#e8281e">2</text>
<line x1="365.17" y1="188.80" x2="365.17" y2="190.80" stroke="#777" stroke-width="0.5"/>
<text x="365.2" y="194.5" font-size="5.0" font-weight="bold" text-anchor="middle" fill="#e8281e">4</text>
<text x="316.0" y="200.8" font-size="5.4" font-weight="bold" text-anchor="middle" fill="#222">Selinexor (nM)</text>
<text x="241.5" y="116.0" font-size="5.0" font-weight="bold" text-anchor="middle" fill="#222" transform="rotate(-90 241.5 116.0)">JQ1 (nM)</text>
<defs><linearGradient id="g45" x1="0" y1="1" x2="0" y2="0"><stop offset="0" stop-color="#fff"/><stop offset="1" stop-color="#ee2008"/></linearGradient></defs>
<rect x="382.80" y="98.90" width="8.00" height="38.00" fill="url(#g45)"/>
<text x="382.8" y="97.1" font-size="5.1" font-weight="bold" fill="#222">inhibition (%)</text>
<text x="393.1" y="139.9" font-size="4.4" fill="#333">0</text>
<text x="393.1" y="129.6" font-size="4.4" fill="#333">20</text>
<text x="393.1" y="119.3" font-size="4.4" fill="#333">40</text>
<text x="393.1" y="109.0" font-size="4.4" fill="#333">60</text>
<rect x="255.00" y="271.00" width="122.00" height="147.40" fill="#ececec"/>
<rect x="257.00" y="273.00" width="19.97" height="24.20" fill="#efecb1"/>
<text x="266.8" y="287.6" font-size="5.4" text-anchor="middle" fill="#1a1a1a">30.26</text>
<rect x="276.67" y="273.00" width="19.97" height="24.20" fill="#d8d03b"/>
<text x="286.5" y="287.6" font-size="5.4" text-anchor="middle" fill="#1a1a1a">67.03</text>
<rect x="296.33" y="273.00" width="19.97" height="24.20" fill="#d5cc2c"/>
<text x="306.2" y="287.6" font-size="5.4" text-anchor="middle" fill="#1a1a1a">71.65</text>
<rect x="316.00" y="273.00" width="19.97" height="24.20" fill="#d3c920"/>
<text x="325.8" y="287.6" font-size="5.4" text-anchor="middle" fill="#1a1a1a">75.01</text>
<rect x="335.67" y="273.00" width="19.97" height="24.20" fill="#d2c81a"/>
<text x="345.5" y="287.6" font-size="5.4" text-anchor="middle" fill="#1a1a1a">76.73</text>
<rect x="355.33" y="273.00" width="19.97" height="24.20" fill="#d0c612"/>
<text x="365.2" y="287.6" font-size="5.4" text-anchor="middle" fill="#1a1a1a">79.13</text>
<rect x="257.00" y="296.90" width="19.97" height="24.20" fill="#f9f8e1"/>
<text x="266.8" y="311.4" font-size="5.4" text-anchor="middle" fill="#1a1a1a">12.94</text>
<rect x="276.67" y="296.90" width="19.97" height="24.20" fill="#e0da65"/>
<text x="286.5" y="311.4" font-size="5.4" text-anchor="middle" fill="#1a1a1a">54.54</text>
<rect x="296.33" y="296.90" width="19.97" height="24.20" fill="#ddd551"/>
<text x="306.2" y="311.4" font-size="5.4" text-anchor="middle" fill="#1a1a1a">60.47</text>
<rect x="316.00" y="296.90" width="19.97" height="24.20" fill="#dad242"/>
<text x="325.8" y="311.4" font-size="5.4" text-anchor="middle" fill="#1a1a1a">64.92</text>
<rect x="335.67" y="296.90" width="19.97" height="24.20" fill="#d7cf36"/>
<text x="345.5" y="311.4" font-size="5.4" text-anchor="middle" fill="#1a1a1a">68.57</text>
<rect x="355.33" y="296.90" width="19.97" height="24.20" fill="#d5cc2a"/>
<text x="365.2" y="311.4" font-size="5.4" text-anchor="middle" fill="#1a1a1a">72.04</text>
<rect x="257.00" y="320.80" width="19.97" height="24.20" fill="#f6f4cf"/>
<text x="266.8" y="335.4" font-size="5.4" text-anchor="middle" fill="#1a1a1a">19.65</text>
<rect x="276.67" y="320.80" width="19.97" height="24.20" fill="#e8e38b"/>
<text x="286.5" y="335.4" font-size="5.4" text-anchor="middle" fill="#1a1a1a">42.59</text>
<rect x="296.33" y="320.80" width="19.97" height="24.20" fill="#e2dc6d"/>
<text x="306.2" y="335.4" font-size="5.4" text-anchor="middle" fill="#1a1a1a">52.02</text>
<rect x="316.00" y="320.80" width="19.97" height="24.20" fill="#e0d962"/>
<text x="325.8" y="335.4" font-size="5.4" text-anchor="middle" fill="#1a1a1a">55.23</text>
<rect x="335.67" y="320.80" width="19.97" height="24.20" fill="#ded75a"/>
<text x="345.5" y="335.4" font-size="5.4" text-anchor="middle" fill="#1a1a1a">57.85</text>
<rect x="355.33" y="320.80" width="19.97" height="24.20" fill="#dbd34a"/>
<text x="365.2" y="335.4" font-size="5.4" text-anchor="middle" fill="#1a1a1a">62.64</text>
<rect x="257.00" y="344.70" width="19.97" height="24.20" fill="#f9f7df"/>
<text x="266.8" y="359.2" font-size="5.4" text-anchor="middle" fill="#1a1a1a">13.84</text>
<rect x="276.67" y="344.70" width="19.97" height="24.20" fill="#ede9a5"/>
<text x="286.5" y="359.2" font-size="5.4" text-anchor="middle" fill="#1a1a1a">34.16</text>
<rect x="296.33" y="344.70" width="19.97" height="24.20" fill="#eae593"/>
<text x="306.2" y="359.2" font-size="5.4" text-anchor="middle" fill="#1a1a1a">39.91</text>
<rect x="316.00" y="344.70" width="19.97" height="24.20" fill="#e6e080"/>
<text x="325.8" y="359.2" font-size="5.4" text-anchor="middle" fill="#1a1a1a">46.1</text>
<rect x="335.67" y="344.70" width="19.97" height="24.20" fill="#e3dd72"/>
<text x="345.5" y="359.2" font-size="5.4" text-anchor="middle" fill="#1a1a1a">50.49</text>
<rect x="355.33" y="344.70" width="19.97" height="24.20" fill="#e0d962"/>
<text x="365.2" y="359.2" font-size="5.4" text-anchor="middle" fill="#1a1a1a">55.29</text>
<rect x="257.00" y="368.60" width="19.97" height="24.20" fill="#f9f7de"/>
<text x="266.8" y="383.1" font-size="5.4" text-anchor="middle" fill="#1a1a1a">14.11</text>
<rect x="276.67" y="368.60" width="19.97" height="24.20" fill="#eeeaa9"/>
<text x="286.5" y="383.1" font-size="5.4" text-anchor="middle" fill="#1a1a1a">32.68</text>
<rect x="296.33" y="368.60" width="19.97" height="24.20" fill="#ebe79d"/>
<text x="306.2" y="383.1" font-size="5.4" text-anchor="middle" fill="#1a1a1a">36.83</text>
<rect x="316.00" y="368.60" width="19.97" height="24.20" fill="#e8e38b"/>
<text x="325.8" y="383.1" font-size="5.4" text-anchor="middle" fill="#1a1a1a">42.53</text>
<rect x="335.67" y="368.60" width="19.97" height="24.20" fill="#e4df79"/>
<text x="345.5" y="383.1" font-size="5.4" text-anchor="middle" fill="#1a1a1a">48.21</text>
<rect x="355.33" y="368.60" width="19.97" height="24.20" fill="#e1db69"/>
<text x="365.2" y="383.1" font-size="5.4" text-anchor="middle" fill="#1a1a1a">53.15</text>
<rect x="257.00" y="392.50" width="19.97" height="24.20" fill="#ffffff"/>
<text x="266.8" y="407.1" font-size="5.4" text-anchor="middle" fill="#1a1a1a">0</text>
<rect x="276.67" y="392.50" width="19.97" height="24.20" fill="#f1eeb9"/>
<text x="286.5" y="407.1" font-size="5.4" text-anchor="middle" fill="#1a1a1a">27.26</text>
<rect x="296.33" y="392.50" width="19.97" height="24.20" fill="#eeebac"/>
<text x="306.2" y="407.1" font-size="5.4" text-anchor="middle" fill="#1a1a1a">31.91</text>
<rect x="316.00" y="392.50" width="19.97" height="24.20" fill="#ede9a5"/>
<text x="325.8" y="407.1" font-size="5.4" text-anchor="middle" fill="#1a1a1a">34.07</text>
<rect x="335.67" y="392.50" width="19.97" height="24.20" fill="#e8e38c"/>
<text x="345.5" y="407.1" font-size="5.4" text-anchor="middle" fill="#1a1a1a">42.13</text>
<rect x="355.33" y="392.50" width="19.97" height="24.20" fill="#e8e38a"/>
<text x="365.2" y="407.1" font-size="5.4" text-anchor="middle" fill="#1a1a1a">42.95</text>
<text x="316.0" y="261.3" font-size="6.2" font-weight="bold" text-anchor="middle" fill="#111">Dose-response matrix (inhibition)</text>
<text x="253.0" y="287.6" font-size="5.4" font-weight="bold" text-anchor="end" fill="#cfc420">400</text>
<line x1="253.60" y1="285.55" x2="255.30" y2="285.55" stroke="#888" stroke-width="0.5"/>
<text x="253.0" y="311.4" font-size="5.4" font-weight="bold" text-anchor="end" fill="#cfc420">200</text>
<line x1="253.60" y1="309.45" x2="255.30" y2="309.45" stroke="#888" stroke-width="0.5"/>
<text x="253.0" y="335.4" font-size="5.4" font-weight="bold" text-anchor="end" fill="#cfc420">100</text>
<line x1="253.60" y1="333.35" x2="255.30" y2="333.35" stroke="#888" stroke-width="0.5"/>
<text x="253.0" y="359.2" font-size="5.4" font-weight="bold" text-anchor="end" fill="#cfc420">50</text>
<line x1="253.60" y1="357.25" x2="255.30" y2="357.25" stroke="#888" stroke-width="0.5"/>
<text x="253.0" y="383.1" font-size="5.4" font-weight="bold" text-anchor="end" fill="#cfc420">25</text>
<line x1="253.60" y1="381.15" x2="255.30" y2="381.15" stroke="#888" stroke-width="0.5"/>
<text x="253.0" y="407.1" font-size="5.4" font-weight="bold" text-anchor="end" fill="#cfc420">0</text>
<line x1="253.60" y1="405.05" x2="255.30" y2="405.05" stroke="#888" stroke-width="0.5"/>
<line x1="266.83" y1="418.90" x2="266.83" y2="420.90" stroke="#777" stroke-width="0.5"/>
<text x="266.8" y="424.5" font-size="5.0" font-weight="bold" text-anchor="middle" fill="#cfc420">0</text>
<line x1="286.50" y1="418.90" x2="286.50" y2="420.90" stroke="#777" stroke-width="0.5"/>
<text x="286.5" y="424.5" font-size="5.0" font-weight="bold" text-anchor="middle" fill="#cfc420">62.5</text>
<line x1="306.17" y1="418.90" x2="306.17" y2="420.90" stroke="#777" stroke-width="0.5"/>
<text x="306.2" y="424.5" font-size="5.0" font-weight="bold" text-anchor="middle" fill="#cfc420">125</text>
<line x1="325.83" y1="418.90" x2="325.83" y2="420.90" stroke="#777" stroke-width="0.5"/>
<text x="325.8" y="424.5" font-size="5.0" font-weight="bold" text-anchor="middle" fill="#cfc420">250</text>
<line x1="345.50" y1="418.90" x2="345.50" y2="420.90" stroke="#777" stroke-width="0.5"/>
<text x="345.5" y="424.5" font-size="5.0" font-weight="bold" text-anchor="middle" fill="#cfc420">500</text>
<line x1="365.17" y1="418.90" x2="365.17" y2="420.90" stroke="#777" stroke-width="0.5"/>
<text x="365.2" y="424.5" font-size="5.0" font-weight="bold" text-anchor="middle" fill="#cfc420">1000</text>
<text x="316.0" y="431.5" font-size="5.4" font-weight="bold" text-anchor="middle" fill="#222">Selinexor (nM)</text>
<text x="241.5" y="345.0" font-size="5.0" font-weight="bold" text-anchor="middle" fill="#222" transform="rotate(-90 241.5 345.0)">JQ1 (nM)</text>
<defs><linearGradient id="g273" x1="0" y1="1" x2="0" y2="0"><stop offset="0" stop-color="#fff"/><stop offset="1" stop-color="#d0c612"/></linearGradient></defs>
<rect x="382.60" y="327.00" width="8.00" height="42.00" fill="url(#g273)"/>
<text x="382.6" y="325.2" font-size="5.1" font-weight="bold" fill="#222">inhibition (%)</text>
<text x="392.9" y="372.0" font-size="4.4" fill="#333">0</text>
<text x="392.9" y="361.4" font-size="4.4" fill="#333">20</text>
<text x="392.9" y="350.8" font-size="4.4" fill="#333">40</text>
<text x="392.9" y="340.2" font-size="4.4" fill="#333">60</text>
<rect x="255.00" y="514.00" width="122.00" height="144.90" fill="#ececec"/>
<rect x="257.00" y="516.00" width="19.97" height="23.78" fill="#6edb6e"/>
<text x="266.8" y="530.3" font-size="5.4" text-anchor="middle" fill="#1a1a1a">58.68</text>
<rect x="276.67" y="516.00" width="19.97" height="23.78" fill="#30cb30"/>
<text x="286.5" y="530.3" font-size="5.4" text-anchor="middle" fill="#1a1a1a">80.17</text>
<rect x="296.33" y="516.00" width="19.97" height="23.78" fill="#26c926"/>
<text x="306.2" y="530.3" font-size="5.4" text-anchor="middle" fill="#1a1a1a">83.6</text>
<rect x="316.00" y="516.00" width="19.97" height="23.78" fill="#25c925"/>
<text x="325.8" y="530.3" font-size="5.4" text-anchor="middle" fill="#1a1a1a">83.98</text>
<rect x="335.67" y="516.00" width="19.97" height="23.78" fill="#22c822"/>
<text x="345.5" y="530.3" font-size="5.4" text-anchor="middle" fill="#1a1a1a">84.83</text>
<rect x="355.33" y="516.00" width="19.97" height="23.78" fill="#28ca28"/>
<text x="365.2" y="530.3" font-size="5.4" text-anchor="middle" fill="#1a1a1a">82.76</text>
<rect x="257.00" y="539.48" width="19.97" height="23.78" fill="#aaeaaa"/>
<text x="266.8" y="553.8" font-size="5.4" text-anchor="middle" fill="#1a1a1a">36.96</text>
<rect x="276.67" y="539.48" width="19.97" height="23.78" fill="#54d554"/>
<text x="286.5" y="553.8" font-size="5.4" text-anchor="middle" fill="#1a1a1a">67.79</text>
<rect x="296.33" y="539.48" width="19.97" height="23.78" fill="#3bce3b"/>
<text x="306.2" y="553.8" font-size="5.4" text-anchor="middle" fill="#1a1a1a">76.31</text>
<rect x="316.00" y="539.48" width="19.97" height="23.78" fill="#2fcb2f"/>
<text x="325.8" y="553.8" font-size="5.4" text-anchor="middle" fill="#1a1a1a">80.46</text>
<rect x="335.67" y="539.48" width="19.97" height="23.78" fill="#28ca28"/>
<text x="345.5" y="553.8" font-size="5.4" text-anchor="middle" fill="#1a1a1a">82.71</text>
<rect x="355.33" y="539.48" width="19.97" height="23.78" fill="#25c925"/>
<text x="365.2" y="553.8" font-size="5.4" text-anchor="middle" fill="#1a1a1a">83.86</text>
<rect x="257.00" y="562.97" width="19.97" height="23.78" fill="#cff3cf"/>
<text x="266.8" y="577.3" font-size="5.4" text-anchor="middle" fill="#1a1a1a">22.49</text>
<rect x="276.67" y="562.97" width="19.97" height="23.78" fill="#54d554"/>
<text x="286.5" y="577.3" font-size="5.4" text-anchor="middle" fill="#1a1a1a">67.79</text>
<rect x="296.33" y="562.97" width="19.97" height="23.78" fill="#4cd24c"/>
<text x="306.2" y="577.3" font-size="5.4" text-anchor="middle" fill="#1a1a1a">70.76</text>
<rect x="316.00" y="562.97" width="19.97" height="23.78" fill="#3ace3a"/>
<text x="325.8" y="577.3" font-size="5.4" text-anchor="middle" fill="#1a1a1a">76.88</text>
<rect x="335.67" y="562.97" width="19.97" height="23.78" fill="#27c927"/>
<text x="345.5" y="577.3" font-size="5.4" text-anchor="middle" fill="#1a1a1a">83.23</text>
<rect x="355.33" y="562.97" width="19.97" height="23.78" fill="#22c822"/>
<text x="365.2" y="577.3" font-size="5.4" text-anchor="middle" fill="#1a1a1a">84.72</text>
<rect x="257.00" y="586.45" width="19.97" height="23.78" fill="#fafefa"/>
<text x="266.8" y="600.8" font-size="5.4" text-anchor="middle" fill="#1a1a1a">2.95</text>
<rect x="276.67" y="586.45" width="19.97" height="23.78" fill="#7edf7e"/>
<text x="286.5" y="600.8" font-size="5.4" text-anchor="middle" fill="#1a1a1a">53.26</text>
<rect x="296.33" y="586.45" width="19.97" height="23.78" fill="#73dc73"/>
<text x="306.2" y="600.8" font-size="5.4" text-anchor="middle" fill="#1a1a1a">57.13</text>
<rect x="316.00" y="586.45" width="19.97" height="23.78" fill="#59d659"/>
<text x="325.8" y="600.8" font-size="5.4" text-anchor="middle" fill="#1a1a1a">66.09</text>
<rect x="335.67" y="586.45" width="19.97" height="23.78" fill="#50d350"/>
<text x="345.5" y="600.8" font-size="5.4" text-anchor="middle" fill="#1a1a1a">69.39</text>
<rect x="355.33" y="586.45" width="19.97" height="23.78" fill="#44d044"/>
<text x="365.2" y="600.8" font-size="5.4" text-anchor="middle" fill="#1a1a1a">73.45</text>
<rect x="257.00" y="609.93" width="19.97" height="23.78" fill="#fcfefc"/>
<text x="266.8" y="624.3" font-size="5.4" text-anchor="middle" fill="#1a1a1a">1.78</text>
<rect x="276.67" y="609.93" width="19.97" height="23.78" fill="#99e699"/>
<text x="286.5" y="624.3" font-size="5.4" text-anchor="middle" fill="#1a1a1a">43.2</text>
<rect x="296.33" y="609.93" width="19.97" height="23.78" fill="#86e186"/>
<text x="306.2" y="624.3" font-size="5.4" text-anchor="middle" fill="#1a1a1a">50.16</text>
<rect x="316.00" y="609.93" width="19.97" height="23.78" fill="#6ada6a"/>
<text x="325.8" y="624.3" font-size="5.4" text-anchor="middle" fill="#1a1a1a">60.06</text>
<rect x="335.67" y="609.93" width="19.97" height="23.78" fill="#5cd65c"/>
<text x="345.5" y="624.3" font-size="5.4" text-anchor="middle" fill="#1a1a1a">65.05</text>
<rect x="355.33" y="609.93" width="19.97" height="23.78" fill="#55d555"/>
<text x="365.2" y="624.3" font-size="5.4" text-anchor="middle" fill="#1a1a1a">67.6</text>
<rect x="257.00" y="633.42" width="19.97" height="23.78" fill="#ffffff"/>
<text x="266.8" y="647.8" font-size="5.4" text-anchor="middle" fill="#1a1a1a">0</text>
<rect x="276.67" y="633.42" width="19.97" height="23.78" fill="#b6edb6"/>
<text x="286.5" y="647.8" font-size="5.4" text-anchor="middle" fill="#1a1a1a">32.19</text>
<rect x="296.33" y="633.42" width="19.97" height="23.78" fill="#89e289"/>
<text x="306.2" y="647.8" font-size="5.4" text-anchor="middle" fill="#1a1a1a">49.23</text>
<rect x="316.00" y="633.42" width="19.97" height="23.78" fill="#79de79"/>
<text x="325.8" y="647.8" font-size="5.4" text-anchor="middle" fill="#1a1a1a">54.97</text>
<rect x="335.67" y="633.42" width="19.97" height="23.78" fill="#75dd75"/>
<text x="345.5" y="647.8" font-size="5.4" text-anchor="middle" fill="#1a1a1a">56.23</text>
<rect x="355.33" y="633.42" width="19.97" height="23.78" fill="#6edb6e"/>
<text x="365.2" y="647.8" font-size="5.4" text-anchor="middle" fill="#1a1a1a">58.85</text>
<text x="316.0" y="505.3" font-size="6.2" font-weight="bold" text-anchor="middle" fill="#111">Dose-response matrix (inhibition)</text>
<text x="253.0" y="530.3" font-size="5.4" font-weight="bold" text-anchor="end" fill="#22c022">200</text>
<line x1="253.60" y1="528.34" x2="255.30" y2="528.34" stroke="#888" stroke-width="0.5"/>
<text x="253.0" y="553.8" font-size="5.4" font-weight="bold" text-anchor="end" fill="#22c022">100</text>
<line x1="253.60" y1="551.83" x2="255.30" y2="551.83" stroke="#888" stroke-width="0.5"/>
<text x="253.0" y="577.3" font-size="5.4" font-weight="bold" text-anchor="end" fill="#22c022">50</text>
<line x1="253.60" y1="575.31" x2="255.30" y2="575.31" stroke="#888" stroke-width="0.5"/>
<text x="253.0" y="600.8" font-size="5.4" font-weight="bold" text-anchor="end" fill="#22c022">25</text>
<line x1="253.60" y1="598.79" x2="255.30" y2="598.79" stroke="#888" stroke-width="0.5"/>
<text x="253.0" y="624.3" font-size="5.4" font-weight="bold" text-anchor="end" fill="#22c022">12.5</text>
<line x1="253.60" y1="622.27" x2="255.30" y2="622.27" stroke="#888" stroke-width="0.5"/>
<text x="253.0" y="647.8" font-size="5.4" font-weight="bold" text-anchor="end" fill="#22c022">0</text>
<line x1="253.60" y1="645.76" x2="255.30" y2="645.76" stroke="#888" stroke-width="0.5"/>
<line x1="266.83" y1="659.40" x2="266.83" y2="661.40" stroke="#777" stroke-width="0.5"/>
<text x="266.8" y="665.0" font-size="5.0" font-weight="bold" text-anchor="middle" fill="#22c022">0</text>
<line x1="286.50" y1="659.40" x2="286.50" y2="661.40" stroke="#777" stroke-width="0.5"/>
<text x="286.5" y="665.0" font-size="5.0" font-weight="bold" text-anchor="middle" fill="#22c022">125</text>
<line x1="306.17" y1="659.40" x2="306.17" y2="661.40" stroke="#777" stroke-width="0.5"/>
<text x="306.2" y="665.0" font-size="5.0" font-weight="bold" text-anchor="middle" fill="#22c022">250</text>
<line x1="325.83" y1="659.40" x2="325.83" y2="661.40" stroke="#777" stroke-width="0.5"/>
<text x="325.8" y="665.0" font-size="5.0" font-weight="bold" text-anchor="middle" fill="#22c022">500</text>
<line x1="345.50" y1="659.40" x2="345.50" y2="661.40" stroke="#777" stroke-width="0.5"/>
<text x="345.5" y="665.0" font-size="5.0" font-weight="bold" text-anchor="middle" fill="#22c022">1000</text>
<line x1="365.17" y1="659.40" x2="365.17" y2="661.40" stroke="#777" stroke-width="0.5"/>
<text x="365.2" y="665.0" font-size="5.0" font-weight="bold" text-anchor="middle" fill="#22c022">2000</text>
<text x="316.0" y="671.5" font-size="5.4" font-weight="bold" text-anchor="middle" fill="#222">Selinexor (nM)</text>
<text x="241.5" y="586.0" font-size="5.0" font-weight="bold" text-anchor="middle" fill="#222" transform="rotate(-90 241.5 586.0)">JQ1 (nM)</text>
<defs><linearGradient id="g516" x1="0" y1="1" x2="0" y2="0"><stop offset="0" stop-color="#fff"/><stop offset="1" stop-color="#22c822"/></linearGradient></defs>
<rect x="382.70" y="569.20" width="8.00" height="37.30" fill="url(#g516)"/>
<text x="382.7" y="567.4" font-size="5.1" font-weight="bold" fill="#222">inhibition (%)</text>
<text x="393.0" y="609.5" font-size="4.4" fill="#333">0</text>
<text x="393.0" y="600.7" font-size="4.4" fill="#333">20</text>
<text x="393.0" y="591.9" font-size="4.4" fill="#333">40</text>
<text x="393.0" y="583.1" font-size="4.4" fill="#333">60</text>
<text x="393.0" y="574.3" font-size="4.4" fill="#333">80</text>
<line x1="460.70" y1="101.55" x2="604.80" y2="101.55" stroke="#777" stroke-width="0.9" stroke-dasharray="1.3 1.5"/>
<circle cx="493.6" cy="108.8" r="2.35" fill="none" stroke="#e8201a" stroke-width="1.3"/>
<circle cx="504.8" cy="108.1" r="2.35" fill="none" stroke="#e8201a" stroke-width="1.3"/>
<circle cx="509.5" cy="106.4" r="2.35" fill="none" stroke="#e8201a" stroke-width="1.3"/>
<circle cx="513.8" cy="105.2" r="2.35" fill="none" stroke="#e8201a" stroke-width="1.3"/>
<circle cx="516.9" cy="106.4" r="2.35" fill="none" stroke="#e8201a" stroke-width="1.3"/>
<circle cx="523.8" cy="112.1" r="2.35" fill="none" stroke="#e8201a" stroke-width="1.3"/>
<circle cx="521.0" cy="121.4" r="2.35" fill="none" stroke="#e8201a" stroke-width="1.3"/>
<circle cx="528.1" cy="121.4" r="2.35" fill="none" stroke="#e8201a" stroke-width="1.3"/>
<circle cx="535.0" cy="118.3" r="2.35" fill="none" stroke="#e8201a" stroke-width="1.3"/>
<circle cx="535.0" cy="121.7" r="2.35" fill="none" stroke="#e8201a" stroke-width="1.3"/>
<circle cx="541.2" cy="125.2" r="2.35" fill="none" stroke="#e8201a" stroke-width="1.3"/>
<circle cx="544.0" cy="123.1" r="2.35" fill="none" stroke="#e8201a" stroke-width="1.3"/>
<circle cx="546.4" cy="126.7" r="2.35" fill="none" stroke="#e8201a" stroke-width="1.3"/>
<circle cx="548.3" cy="125.5" r="2.35" fill="none" stroke="#e8201a" stroke-width="1.3"/>
<circle cx="554.3" cy="127.9" r="2.35" fill="none" stroke="#e8201a" stroke-width="1.3"/>
<circle cx="567.1" cy="134.5" r="2.35" fill="none" stroke="#e8201a" stroke-width="1.3"/>
<line x1="460.70" y1="51.40" x2="460.70" y2="151.70" stroke="#111" stroke-width="1.6"/>
<line x1="460.00" y1="151.00" x2="605.50" y2="151.00" stroke="#111" stroke-width="1.6"/>
<line x1="455.70" y1="151.00" x2="460.70" y2="151.00" stroke="#111" stroke-width="1.3"/>
<text x="454.1" y="154.7" font-size="10.5" font-weight="bold" text-anchor="end" fill="#111">0</text>
<line x1="455.70" y1="101.55" x2="460.70" y2="101.55" stroke="#111" stroke-width="1.3"/>
<text x="454.1" y="105.2" font-size="10.5" font-weight="bold" text-anchor="end" fill="#111">1</text>
<line x1="455.70" y1="52.10" x2="460.70" y2="52.10" stroke="#111" stroke-width="1.3"/>
<text x="454.1" y="55.8" font-size="10.5" font-weight="bold" text-anchor="end" fill="#111">2</text>
<line x1="460.70" y1="151.00" x2="460.70" y2="155.50" stroke="#111" stroke-width="1.3"/>
<text x="460.7" y="167.6" font-size="10.5" font-weight="bold" text-anchor="middle" fill="#111">0.0</text>
<line x1="532.75" y1="151.00" x2="532.75" y2="155.50" stroke="#111" stroke-width="1.3"/>
<text x="532.8" y="167.6" font-size="10.5" font-weight="bold" text-anchor="middle" fill="#111">0.5</text>
<line x1="604.80" y1="151.00" x2="604.80" y2="155.50" stroke="#111" stroke-width="1.3"/>
<text x="604.8" y="167.6" font-size="10.5" font-weight="bold" text-anchor="middle" fill="#111">1.0</text>
<text x="532.8" y="183.1" font-size="9.2" font-weight="bold" text-anchor="middle" fill="#111">Fa</text>
<text x="441.7" y="101.8" font-size="8.8" font-weight="bold" text-anchor="middle" fill="#111" transform="rotate(-90 441.7 101.8)">CI</text>
<line x1="470.50" y1="63.30" x2="470.50" y2="81.90" stroke="#111" stroke-width="1.6"/>
<path d="M468.0 65.3 L470.5 59.3 L473.0 65.3Z" fill="#111"/>
<line x1="470.50" y1="123.60" x2="470.50" y2="142.20" stroke="#111" stroke-width="1.6"/>
<path d="M468.0 140.2 L470.5 146.2 L473.0 140.2Z" fill="#111"/>
<text x="477.3" y="77.1" font-size="11.0" fill="#111">Antagonism</text>
<text x="477.3" y="136.7" font-size="11.0" fill="#111">Synergism</text>
<line x1="462.60" y1="332.00" x2="607.10" y2="332.00" stroke="#777" stroke-width="0.9" stroke-dasharray="1.3 1.5"/>
<circle cx="510.0" cy="353.1" r="2.35" fill="none" stroke="#c4bc1c" stroke-width="1.3"/>
<circle cx="511.4" cy="350.7" r="2.35" fill="none" stroke="#c4bc1c" stroke-width="1.3"/>
<circle cx="516.2" cy="345.7" r="2.35" fill="none" stroke="#c4bc1c" stroke-width="1.3"/>
<circle cx="520.7" cy="351.7" r="2.35" fill="none" stroke="#c4bc1c" stroke-width="1.3"/>
<circle cx="525.0" cy="351.7" r="2.35" fill="none" stroke="#c4bc1c" stroke-width="1.3"/>
<circle cx="529.0" cy="356.9" r="2.35" fill="none" stroke="#c4bc1c" stroke-width="1.3"/>
<circle cx="532.1" cy="356.4" r="2.35" fill="none" stroke="#c4bc1c" stroke-width="1.3"/>
<circle cx="535.0" cy="358.8" r="2.35" fill="none" stroke="#c4bc1c" stroke-width="1.3"/>
<circle cx="539.3" cy="361.9" r="2.35" fill="none" stroke="#c4bc1c" stroke-width="1.3"/>
<circle cx="541.7" cy="364.3" r="2.35" fill="none" stroke="#c4bc1c" stroke-width="1.3"/>
<circle cx="524.5" cy="365.0" r="2.35" fill="none" stroke="#c4bc1c" stroke-width="1.3"/>
<circle cx="538.1" cy="369.0" r="2.35" fill="none" stroke="#c4bc1c" stroke-width="1.3"/>
<circle cx="542.4" cy="369.0" r="2.35" fill="none" stroke="#c4bc1c" stroke-width="1.3"/>
<circle cx="546.4" cy="369.0" r="2.35" fill="none" stroke="#c4bc1c" stroke-width="1.3"/>
<circle cx="542.1" cy="373.8" r="2.35" fill="none" stroke="#c4bc1c" stroke-width="1.3"/>
<circle cx="548.8" cy="374.5" r="2.35" fill="none" stroke="#c4bc1c" stroke-width="1.3"/>
<circle cx="553.6" cy="371.4" r="2.35" fill="none" stroke="#c4bc1c" stroke-width="1.3"/>
<circle cx="556.7" cy="375.7" r="2.35" fill="none" stroke="#c4bc1c" stroke-width="1.3"/>
<circle cx="559.5" cy="377.9" r="2.35" fill="none" stroke="#c4bc1c" stroke-width="1.3"/>
<circle cx="562.6" cy="376.9" r="2.35" fill="none" stroke="#c4bc1c" stroke-width="1.3"/>
<circle cx="566.7" cy="377.9" r="2.35" fill="none" stroke="#c4bc1c" stroke-width="1.3"/>
<circle cx="569.0" cy="379.0" r="2.35" fill="none" stroke="#c4bc1c" stroke-width="1.3"/>
<circle cx="572.6" cy="379.0" r="2.35" fill="none" stroke="#c4bc1c" stroke-width="1.3"/>
<circle cx="575.5" cy="379.3" r="2.35" fill="none" stroke="#c4bc1c" stroke-width="1.3"/>
<circle cx="577.4" cy="379.3" r="2.35" fill="none" stroke="#c4bc1c" stroke-width="1.3"/>
<line x1="462.60" y1="281.90" x2="462.60" y2="382.10" stroke="#111" stroke-width="1.6"/>
<line x1="461.90" y1="381.40" x2="607.80" y2="381.40" stroke="#111" stroke-width="1.6"/>
<line x1="457.60" y1="381.40" x2="462.60" y2="381.40" stroke="#111" stroke-width="1.3"/>
<text x="456.0" y="385.1" font-size="10.5" font-weight="bold" text-anchor="end" fill="#111">0</text>
<line x1="457.60" y1="332.00" x2="462.60" y2="332.00" stroke="#111" stroke-width="1.3"/>
<text x="456.0" y="335.7" font-size="10.5" font-weight="bold" text-anchor="end" fill="#111">1</text>
<line x1="457.60" y1="282.60" x2="462.60" y2="282.60" stroke="#111" stroke-width="1.3"/>
<text x="456.0" y="286.3" font-size="10.5" font-weight="bold" text-anchor="end" fill="#111">2</text>
<line x1="462.60" y1="381.40" x2="462.60" y2="385.90" stroke="#111" stroke-width="1.3"/>
<text x="462.6" y="397.6" font-size="10.5" font-weight="bold" text-anchor="middle" fill="#111">0.0</text>
<line x1="534.85" y1="381.40" x2="534.85" y2="385.90" stroke="#111" stroke-width="1.3"/>
<text x="534.9" y="397.6" font-size="10.5" font-weight="bold" text-anchor="middle" fill="#111">0.5</text>
<line x1="607.10" y1="381.40" x2="607.10" y2="385.90" stroke="#111" stroke-width="1.3"/>
<text x="607.1" y="397.6" font-size="10.5" font-weight="bold" text-anchor="middle" fill="#111">1.0</text>
<text x="534.9" y="413.1" font-size="9.2" font-weight="bold" text-anchor="middle" fill="#111">Fa</text>
<text x="443.6" y="332.3" font-size="8.8" font-weight="bold" text-anchor="middle" fill="#111" transform="rotate(-90 443.6 332.3)">CI</text>
<line x1="472.40" y1="294.50" x2="472.40" y2="311.90" stroke="#111" stroke-width="1.6"/>
<path d="M469.9 296.5 L472.4 290.5 L474.9 296.5Z" fill="#111"/>
<line x1="472.40" y1="353.60" x2="472.40" y2="372.20" stroke="#111" stroke-width="1.6"/>
<path d="M469.9 370.2 L472.4 376.2 L474.9 370.2Z" fill="#111"/>
<text x="479.2" y="307.1" font-size="11.0" fill="#111">Antagonism</text>
<text x="479.2" y="366.7" font-size="11.0" fill="#111">Synergism</text>
<line x1="462.60" y1="572.00" x2="607.10" y2="572.00" stroke="#777" stroke-width="0.9" stroke-dasharray="1.3 1.5"/>
<circle cx="524.5" cy="581.7" r="2.35" fill="none" stroke="#1f8f1f" stroke-width="1.3"/>
<circle cx="534.8" cy="573.3" r="2.35" fill="none" stroke="#1f8f1f" stroke-width="1.3"/>
<circle cx="538.8" cy="586.0" r="2.35" fill="none" stroke="#1f8f1f" stroke-width="1.3"/>
<circle cx="545.2" cy="578.1" r="2.35" fill="none" stroke="#1f8f1f" stroke-width="1.3"/>
<circle cx="548.8" cy="581.2" r="2.35" fill="none" stroke="#1f8f1f" stroke-width="1.3"/>
<circle cx="556.0" cy="582.9" r="2.35" fill="none" stroke="#1f8f1f" stroke-width="1.3"/>
<circle cx="557.9" cy="584.0" r="2.35" fill="none" stroke="#1f8f1f" stroke-width="1.3"/>
<circle cx="560.7" cy="582.1" r="2.35" fill="none" stroke="#1f8f1f" stroke-width="1.3"/>
<circle cx="561.9" cy="583.6" r="2.35" fill="none" stroke="#1f8f1f" stroke-width="1.3"/>
<circle cx="559.5" cy="584.5" r="2.35" fill="none" stroke="#1f8f1f" stroke-width="1.3"/>
<circle cx="567.9" cy="585.2" r="2.35" fill="none" stroke="#1f8f1f" stroke-width="1.3"/>
<circle cx="572.1" cy="587.6" r="2.35" fill="none" stroke="#1f8f1f" stroke-width="1.3"/>
<circle cx="565.0" cy="589.5" r="2.35" fill="none" stroke="#1f8f1f" stroke-width="1.3"/>
<circle cx="560.7" cy="592.4" r="2.35" fill="none" stroke="#1f8f1f" stroke-width="1.3"/>
<circle cx="573.8" cy="592.4" r="2.35" fill="none" stroke="#1f8f1f" stroke-width="1.3"/>
<circle cx="577.4" cy="588.8" r="2.35" fill="none" stroke="#1f8f1f" stroke-width="1.3"/>
<circle cx="579.3" cy="589.3" r="2.35" fill="none" stroke="#1f8f1f" stroke-width="1.3"/>
<circle cx="583.3" cy="588.8" r="2.35" fill="none" stroke="#1f8f1f" stroke-width="1.3"/>
<circle cx="584.5" cy="591.7" r="2.35" fill="none" stroke="#1f8f1f" stroke-width="1.3"/>
<circle cx="588.1" cy="590.7" r="2.35" fill="none" stroke="#1f8f1f" stroke-width="1.3"/>
<circle cx="586.9" cy="594.0" r="2.35" fill="none" stroke="#1f8f1f" stroke-width="1.3"/>
<circle cx="582.1" cy="597.1" r="2.35" fill="none" stroke="#1f8f1f" stroke-width="1.3"/>
<circle cx="585.7" cy="598.3" r="2.35" fill="none" stroke="#1f8f1f" stroke-width="1.3"/>
<line x1="462.60" y1="521.90" x2="462.60" y2="622.10" stroke="#111" stroke-width="1.6"/>
<line x1="461.90" y1="621.40" x2="607.80" y2="621.40" stroke="#111" stroke-width="1.6"/>
<line x1="457.60" y1="621.40" x2="462.60" y2="621.40" stroke="#111" stroke-width="1.3"/>
<text x="456.0" y="625.1" font-size="10.5" font-weight="bold" text-anchor="end" fill="#111">0</text>
<line x1="457.60" y1="572.00" x2="462.60" y2="572.00" stroke="#111" stroke-width="1.3"/>
<text x="456.0" y="575.7" font-size="10.5" font-weight="bold" text-anchor="end" fill="#111">1</text>
<line x1="457.60" y1="522.60" x2="462.60" y2="522.60" stroke="#111" stroke-width="1.3"/>
<text x="456.0" y="526.3" font-size="10.5" font-weight="bold" text-anchor="end" fill="#111">2</text>
<line x1="462.60" y1="621.40" x2="462.60" y2="625.90" stroke="#111" stroke-width="1.3"/>
<text x="462.6" y="637.6" font-size="10.5" font-weight="bold" text-anchor="middle" fill="#111">0.0</text>
<line x1="534.85" y1="621.40" x2="534.85" y2="625.90" stroke="#111" stroke-width="1.3"/>
<text x="534.9" y="637.6" font-size="10.5" font-weight="bold" text-anchor="middle" fill="#111">0.5</text>
<line x1="607.10" y1="621.40" x2="607.10" y2="625.90" stroke="#111" stroke-width="1.3"/>
<text x="607.1" y="637.6" font-size="10.5" font-weight="bold" text-anchor="middle" fill="#111">1.0</text>
<text x="534.9" y="653.1" font-size="9.2" font-weight="bold" text-anchor="middle" fill="#111">Fa</text>
<text x="443.6" y="572.3" font-size="8.8" font-weight="bold" text-anchor="middle" fill="#111" transform="rotate(-90 443.6 572.3)">CI</text>
<line x1="472.40" y1="534.50" x2="472.40" y2="551.90" stroke="#111" stroke-width="1.6"/>
<path d="M469.9 536.5 L472.4 530.5 L474.9 536.5Z" fill="#111"/>
<line x1="472.40" y1="593.60" x2="472.40" y2="612.20" stroke="#111" stroke-width="1.6"/>
<path d="M469.9 610.2 L472.4 616.2 L474.9 610.2Z" fill="#111"/>
<text x="479.2" y="547.1" font-size="11.0" fill="#111">Antagonism</text>
<text x="479.2" y="606.7" font-size="11.0" fill="#111">Synergism</text>
<defs><clipPath id="c1"><rect x="657.4" y="52.5" width="131.30000000000007" height="150.3"/></clipPath><filter id="f1" x="-10%" y="-10%" width="120%" height="120%"><feGaussianBlur stdDeviation="3.2"/></filter></defs>
<g clip-path="url(#c1)"><g filter="url(#f1)">
<rect x="645" y="40" width="12.5" height="6.5" fill="#fff7f7"/>
<rect x="657" y="40" width="6.5" height="6.5" fill="#ffe5e5"/>
<rect x="663" y="40" width="6.5" height="6.5" fill="#ffc3c3"/>
<rect x="669" y="40" width="6.5" height="6.5" fill="#ffa6a6"/>
<rect x="675" y="40" width="6.5" height="6.5" fill="#ff9090"/>
<rect x="681" y="40" width="6.5" height="6.5" fill="#ff8383"/>
<rect x="687" y="40" width="6.5" height="6.5" fill="#ff7c7c"/>
<rect x="693" y="40" width="6.5" height="6.5" fill="#ff7676"/>
<rect x="699" y="40" width="6.5" height="6.5" fill="#ff7272"/>
<rect x="705" y="40" width="6.5" height="6.5" fill="#ff6c6c"/>
<rect x="711" y="40" width="6.5" height="6.5" fill="#ff6565"/>
<rect x="717" y="40" width="6.5" height="6.5" fill="#ff5c5c"/>
<rect x="723" y="40" width="6.5" height="6.5" fill="#ff5353"/>
<rect x="729" y="40" width="6.5" height="6.5" fill="#ff4b4b"/>
<rect x="735" y="40" width="6.5" height="6.5" fill="#ff4343"/>
<rect x="741" y="40" width="6.5" height="6.5" fill="#ff3c3c"/>
<rect x="747" y="40" width="6.5" height="6.5" fill="#ff3535"/>
<rect x="753" y="40" width="6.5" height="6.5" fill="#ff2e2e"/>
<rect x="759" y="40" width="6.5" height="6.5" fill="#ff2727"/>
<rect x="765" y="40" width="6.5" height="6.5" fill="#ff2121"/>
<rect x="771" y="40" width="6.5" height="6.5" fill="#ff1b1b"/>
<rect x="777" y="40" width="6.5" height="6.5" fill="#ff1515"/>
<rect x="783" y="40" width="6.5" height="6.5" fill="#ff1010"/>
<rect x="789" y="40" width="12.5" height="6.5" fill="#ff0f0f"/>
<rect x="645" y="46" width="12.5" height="6.5" fill="#fff7f7"/>
<rect x="657" y="46" width="6.5" height="6.5" fill="#ffe5e5"/>
<rect x="663" y="46" width="6.5" height="6.5" fill="#ffc3c3"/>
<rect x="669" y="46" width="6.5" height="6.5" fill="#ffa6a6"/>
<rect x="675" y="46" width="6.5" height="6.5" fill="#ff9090"/>
<rect x="681" y="46" width="6.5" height="6.5" fill="#ff8383"/>
<rect x="687" y="46" width="6.5" height="6.5" fill="#ff7c7c"/>
<rect x="693" y="46" width="6.5" height="6.5" fill="#ff7676"/>
<rect x="699" y="46" width="6.5" height="6.5" fill="#ff7272"/>
<rect x="705" y="46" width="6.5" height="6.5" fill="#ff6c6c"/>
<rect x="711" y="46" width="6.5" height="6.5" fill="#ff6565"/>
<rect x="717" y="46" width="6.5" height="6.5" fill="#ff5c5c"/>
<rect x="723" y="46" width="6.5" height="6.5" fill="#ff5353"/>
<rect x="729" y="46" width="6.5" height="6.5" fill="#ff4b4b"/>
<rect x="735" y="46" width="6.5" height="6.5" fill="#ff4343"/>
<rect x="741" y="46" width="6.5" height="6.5" fill="#ff3c3c"/>
<rect x="747" y="46" width="6.5" height="6.5" fill="#ff3535"/>
<rect x="753" y="46" width="6.5" height="6.5" fill="#ff2e2e"/>
<rect x="759" y="46" width="6.5" height="6.5" fill="#ff2727"/>
<rect x="765" y="46" width="6.5" height="6.5" fill="#ff2121"/>
<rect x="771" y="46" width="6.5" height="6.5" fill="#ff1b1b"/>
<rect x="777" y="46" width="6.5" height="6.5" fill="#ff1515"/>
<rect x="783" y="46" width="6.5" height="6.5" fill="#ff1010"/>
<rect x="789" y="46" width="12.5" height="6.5" fill="#ff0f0f"/>
<rect x="645" y="52" width="12.5" height="6.5" fill="#fff7f7"/>
<rect x="657" y="52" width="6.5" height="6.5" fill="#ffe5e5"/>
<rect x="663" y="52" width="6.5" height="6.5" fill="#ffc3c3"/>
<rect x="669" y="52" width="6.5" height="6.5" fill="#ffa6a6"/>
<rect x="675" y="52" width="6.5" height="6.5" fill="#ff9090"/>
<rect x="681" y="52" width="6.5" height="6.5" fill="#ff8383"/>
<rect x="687" y="52" width="6.5" height="6.5" fill="#ff7c7c"/>
<rect x="693" y="52" width="6.5" height="6.5" fill="#ff7676"/>
<rect x="699" y="52" width="6.5" height="6.5" fill="#ff7272"/>
<rect x="705" y="52" width="6.5" height="6.5" fill="#ff6c6c"/>
<rect x="711" y="52" width="6.5" height="6.5" fill="#ff6565"/>
<rect x="717" y="52" width="6.5" height="6.5" fill="#ff5c5c"/>
<rect x="723" y="52" width="6.5" height="6.5" fill="#ff5353"/>
<rect x="729" y="52" width="6.5" height="6.5" fill="#ff4b4b"/>
<rect x="735" y="52" width="6.5" height="6.5" fill="#ff4343"/>
<rect x="741" y="52" width="6.5" height="6.5" fill="#ff3c3c"/>
<rect x="747" y="52" width="6.5" height="6.5" fill="#ff3535"/>
<rect x="753" y="52" width="6.5" height="6.5" fill="#ff2e2e"/>
<rect x="759" y="52" width="6.5" height="6.5" fill="#ff2727"/>
<rect x="765" y="52" width="6.5" height="6.5" fill="#ff2121"/>
<rect x="771" y="52" width="6.5" height="6.5" fill="#ff1b1b"/>
<rect x="777" y="52" width="6.5" height="6.5" fill="#ff1515"/>
<rect x="783" y="52" width="6.5" height="6.5" fill="#ff1010"/>
<rect x="789" y="52" width="12.5" height="6.5" fill="#ff0f0f"/>
<rect x="645" y="58" width="12.5" height="6.5" fill="#fffbfb"/>
<rect x="657" y="58" width="6.5" height="6.5" fill="#ffeeee"/>
<rect x="663" y="58" width="6.5" height="6.5" fill="#ffd6d6"/>
<rect x="669" y="58" width="6.5" height="6.5" fill="#ffc1c1"/>
<rect x="675" y="58" width="6.5" height="6.5" fill="#ffb1b1"/>
<rect x="681" y="58" width="6.5" height="6.5" fill="#ffa8a8"/>
<rect x="687" y="58" width="6.5" height="6.5" fill="#ffa2a2"/>
<rect x="693" y="58" width="6.5" height="6.5" fill="#ff9e9e"/>
<rect x="699" y="58" width="6.5" height="6.5" fill="#ff9a9a"/>
<rect x="705" y="58" width="6.5" height="6.5" fill="#ff9696"/>
<rect x="711" y="58" width="6.5" height="6.5" fill="#ff8e8e"/>
<rect x="717" y="58" width="6.5" height="6.5" fill="#ff8282"/>
<rect x="723" y="58" width="6.5" height="6.5" fill="#ff7575"/>
<rect x="729" y="58" width="6.5" height="6.5" fill="#ff6868"/>
<rect x="735" y="58" width="6.5" height="6.5" fill="#ff5d5d"/>
<rect x="741" y="58" width="6.5" height="6.5" fill="#ff5252"/>
<rect x="747" y="58" width="6.5" height="6.5" fill="#ff4747"/>
<rect x="753" y="58" width="6.5" height="6.5" fill="#ff3e3e"/>
<rect x="759" y="58" width="6.5" height="6.5" fill="#ff3434"/>
<rect x="765" y="58" width="6.5" height="6.5" fill="#ff2c2c"/>
<rect x="771" y="58" width="6.5" height="6.5" fill="#ff2424"/>
<rect x="777" y="58" width="6.5" height="6.5" fill="#ff1d1d"/>
<rect x="783" y="58" width="18.5" height="6.5" fill="#ff1717"/>
<rect x="645" y="64" width="12.5" height="6.5" fill="#fffdfd"/>
<rect x="657" y="64" width="6.5" height="6.5" fill="#fff5f5"/>
<rect x="663" y="64" width="6.5" height="6.5" fill="#ffe6e6"/>
<rect x="669" y="64" width="6.5" height="6.5" fill="#ffd9d9"/>
<rect x="675" y="64" width="6.5" height="6.5" fill="#ffcfcf"/>
<rect x="681" y="64" width="6.5" height="6.5" fill="#ffc8c8"/>
<rect x="687" y="64" width="6.5" height="6.5" fill="#ffc4c4"/>
<rect x="693" y="64" width="6.5" height="6.5" fill="#ffc1c1"/>
<rect x="699" y="64" width="6.5" height="6.5" fill="#ffbebe"/>
<rect x="705" y="64" width="6.5" height="6.5" fill="#ffbbbb"/>
<rect x="711" y="64" width="6.5" height="6.5" fill="#ffb3b3"/>
<rect x="717" y="64" width="6.5" height="6.5" fill="#ffa5a5"/>
<rect x="723" y="64" width="6.5" height="6.5" fill="#ff9494"/>
<rect x="729" y="64" width="6.5" height="6.5" fill="#ff8383"/>
<rect x="735" y="64" width="6.5" height="6.5" fill="#ff7575"/>
<rect x="741" y="64" width="6.5" height="6.5" fill="#ff6868"/>
<rect x="747" y="64" width="6.5" height="6.5" fill="#ff5a5a"/>
<rect x="753" y="64" width="6.5" height="6.5" fill="#ff4e4e"/>
<rect x="759" y="64" width="6.5" height="6.5" fill="#ff4242"/>
<rect x="765" y="64" width="6.5" height="6.5" fill="#ff3838"/>
<rect x="771" y="64" width="6.5" height="6.5" fill="#ff2e2e"/>
<rect x="777" y="64" width="6.5" height="6.5" fill="#ff2626"/>
<rect x="783" y="64" width="6.5" height="6.5" fill="#ff1f1f"/>
<rect x="789" y="64" width="12.5" height="6.5" fill="#ff1e1e"/>
<rect x="645" y="70" width="12.5" height="6.5" fill="#fffefe"/>
<rect x="657" y="70" width="6.5" height="6.5" fill="#fffafa"/>
<rect x="663" y="70" width="6.5" height="6.5" fill="#fff1f1"/>
<rect x="669" y="70" width="6.5" height="6.5" fill="#ffeaea"/>
<rect x="675" y="70" width="6.5" height="6.5" fill="#ffe3e3"/>
<rect x="681" y="70" width="6.5" height="6.5" fill="#ffdfdf"/>
<rect x="687" y="70" width="6.5" height="6.5" fill="#ffdddd"/>
<rect x="693" y="70" width="6.5" height="6.5" fill="#ffdbdb"/>
<rect x="699" y="70" width="6.5" height="6.5" fill="#ffd9d9"/>
<rect x="705" y="70" width="6.5" height="6.5" fill="#ffd5d5"/>
<rect x="711" y="70" width="6.5" height="6.5" fill="#ffcece"/>
<rect x="717" y="70" width="6.5" height="6.5" fill="#ffbebe"/>
<rect x="723" y="70" width="6.5" height="6.5" fill="#ffabab"/>
<rect x="729" y="70" width="6.5" height="6.5" fill="#ff9898"/>
<rect x="735" y="70" width="6.5" height="6.5" fill="#ff8989"/>
<rect x="741" y="70" width="6.5" height="6.5" fill="#ff7979"/>
<rect x="747" y="70" width="6.5" height="6.5" fill="#ff6a6a"/>
<rect x="753" y="70" width="6.5" height="6.5" fill="#ff5b5b"/>
<rect x="759" y="70" width="6.5" height="6.5" fill="#ff4d4d"/>
<rect x="765" y="70" width="6.5" height="6.5" fill="#ff4242"/>
<rect x="771" y="70" width="6.5" height="6.5" fill="#ff3737"/>
<rect x="777" y="70" width="6.5" height="6.5" fill="#ff2e2e"/>
<rect x="783" y="70" width="18.5" height="6.5" fill="#ff2626"/>
<rect x="645" y="76" width="12.5" height="6.5" fill="#ffffff"/>
<rect x="657" y="76" width="6.5" height="6.5" fill="#fffdfd"/>
<rect x="663" y="76" width="6.5" height="6.5" fill="#fff8f8"/>
<rect x="669" y="76" width="6.5" height="6.5" fill="#fff4f4"/>
<rect x="675" y="76" width="6.5" height="6.5" fill="#fff0f0"/>
<rect x="681" y="76" width="6.5" height="6.5" fill="#ffeded"/>
<rect x="687" y="76" width="6.5" height="6.5" fill="#ffebeb"/>
<rect x="693" y="76" width="6.5" height="6.5" fill="#ffeaea"/>
<rect x="699" y="76" width="6.5" height="6.5" fill="#ffe8e8"/>
<rect x="705" y="76" width="6.5" height="6.5" fill="#ffe6e6"/>
<rect x="711" y="76" width="6.5" height="6.5" fill="#ffdede"/>
<rect x="717" y="76" width="6.5" height="6.5" fill="#ffcece"/>
<rect x="723" y="76" width="6.5" height="6.5" fill="#ffbaba"/>
<rect x="729" y="76" width="6.5" height="6.5" fill="#ffa6a6"/>
<rect x="735" y="76" width="6.5" height="6.5" fill="#ff9595"/>
<rect x="741" y="76" width="6.5" height="6.5" fill="#ff8484"/>
<rect x="747" y="76" width="6.5" height="6.5" fill="#ff7474"/>
<rect x="753" y="76" width="6.5" height="6.5" fill="#ff6565"/>
<rect x="759" y="76" width="6.5" height="6.5" fill="#ff5656"/>
<rect x="765" y="76" width="6.5" height="6.5" fill="#ff4a4a"/>
<rect x="771" y="76" width="6.5" height="6.5" fill="#ff3f3f"/>
<rect x="777" y="76" width="6.5" height="6.5" fill="#ff3535"/>
<rect x="783" y="76" width="18.5" height="6.5" fill="#ff2d2d"/>
<rect x="645" y="82" width="12.5" height="6.5" fill="#ffffff"/>
<rect x="657" y="82" width="6.5" height="6.5" fill="#fffdfd"/>
<rect x="663" y="82" width="6.5" height="6.5" fill="#fffafa"/>
<rect x="669" y="82" width="6.5" height="6.5" fill="#fff7f7"/>
<rect x="675" y="82" width="6.5" height="6.5" fill="#fff4f4"/>
<rect x="681" y="82" width="6.5" height="6.5" fill="#fff2f2"/>
<rect x="687" y="82" width="6.5" height="6.5" fill="#fff0f0"/>
<rect x="693" y="82" width="6.5" height="6.5" fill="#ffefef"/>
<rect x="699" y="82" width="6.5" height="6.5" fill="#ffeded"/>
<rect x="705" y="82" width="6.5" height="6.5" fill="#ffebeb"/>
<rect x="711" y="82" width="6.5" height="6.5" fill="#ffe4e4"/>
<rect x="717" y="82" width="6.5" height="6.5" fill="#ffd4d4"/>
<rect x="723" y="82" width="6.5" height="6.5" fill="#ffbfbf"/>
<rect x="729" y="82" width="6.5" height="6.5" fill="#ffabab"/>
<rect x="735" y="82" width="6.5" height="6.5" fill="#ff9a9a"/>
<rect x="741" y="82" width="6.5" height="6.5" fill="#ff8989"/>
<rect x="747" y="82" width="6.5" height="6.5" fill="#ff7878"/>
<rect x="753" y="82" width="6.5" height="6.5" fill="#ff6868"/>
<rect x="759" y="82" width="6.5" height="6.5" fill="#ff5b5b"/>
<rect x="765" y="82" width="6.5" height="6.5" fill="#ff5050"/>
<rect x="771" y="82" width="6.5" height="6.5" fill="#ff4545"/>
<rect x="777" y="82" width="6.5" height="6.5" fill="#ff3c3c"/>
<rect x="783" y="82" width="6.5" height="6.5" fill="#ff3434"/>
<rect x="789" y="82" width="12.5" height="6.5" fill="#ff3333"/>
<rect x="645" y="88" width="12.5" height="6.5" fill="#fffcfc"/>
<rect x="657" y="88" width="6.5" height="6.5" fill="#fff9f9"/>
<rect x="663" y="88" width="6.5" height="6.5" fill="#fff3f3"/>
<rect x="669" y="88" width="6.5" height="6.5" fill="#ffeeee"/>
<rect x="675" y="88" width="6.5" height="6.5" fill="#ffeaea"/>
<rect x="681" y="88" width="6.5" height="6.5" fill="#ffe7e7"/>
<rect x="687" y="88" width="6.5" height="6.5" fill="#ffe4e4"/>
<rect x="693" y="88" width="6.5" height="6.5" fill="#ffe2e2"/>
<rect x="699" y="88" width="6.5" height="6.5" fill="#ffe1e1"/>
<rect x="705" y="88" width="6.5" height="6.5" fill="#ffdede"/>
<rect x="711" y="88" width="6.5" height="6.5" fill="#ffd8d8"/>
<rect x="717" y="88" width="6.5" height="6.5" fill="#ffc9c9"/>
<rect x="723" y="88" width="6.5" height="6.5" fill="#ffb7b7"/>
<rect x="729" y="88" width="6.5" height="6.5" fill="#ffa5a5"/>
<rect x="735" y="88" width="6.5" height="6.5" fill="#ff9696"/>
<rect x="741" y="88" width="6.5" height="6.5" fill="#ff8686"/>
<rect x="747" y="88" width="6.5" height="6.5" fill="#ff7777"/>
<rect x="753" y="88" width="6.5" height="6.5" fill="#ff6969"/>
<rect x="759" y="88" width="6.5" height="6.5" fill="#ff5e5e"/>
<rect x="765" y="88" width="6.5" height="6.5" fill="#ff5454"/>
<rect x="771" y="88" width="6.5" height="6.5" fill="#ff4a4a"/>
<rect x="777" y="88" width="6.5" height="6.5" fill="#ff4141"/>
<rect x="783" y="88" width="18.5" height="6.5" fill="#ff3939"/>
<rect x="645" y="94" width="12.5" height="6.5" fill="#fff5f5"/>
<rect x="657" y="94" width="6.5" height="6.5" fill="#ffefef"/>
<rect x="663" y="94" width="6.5" height="6.5" fill="#ffe4e4"/>
<rect x="669" y="94" width="6.5" height="6.5" fill="#ffdada"/>
<rect x="675" y="94" width="6.5" height="6.5" fill="#ffd2d2"/>
<rect x="681" y="94" width="6.5" height="6.5" fill="#ffcdcd"/>
<rect x="687" y="94" width="6.5" height="6.5" fill="#ffc9c9"/>
<rect x="693" y="94" width="6.5" height="6.5" fill="#ffc6c6"/>
<rect x="699" y="94" width="6.5" height="6.5" fill="#ffc3c3"/>
<rect x="705" y="94" width="6.5" height="6.5" fill="#ffc1c1"/>
<rect x="711" y="94" width="6.5" height="6.5" fill="#ffbcbc"/>
<rect x="717" y="94" width="6.5" height="6.5" fill="#ffb2b2"/>
<rect x="723" y="94" width="6.5" height="6.5" fill="#ffa5a5"/>
<rect x="729" y="94" width="6.5" height="6.5" fill="#ff9999"/>
<rect x="735" y="94" width="6.5" height="6.5" fill="#ff8e8e"/>
<rect x="741" y="94" width="6.5" height="6.5" fill="#ff8282"/>
<rect x="747" y="94" width="6.5" height="6.5" fill="#ff7575"/>
<rect x="753" y="94" width="6.5" height="6.5" fill="#ff6969"/>
<rect x="759" y="94" width="6.5" height="6.5" fill="#ff5f5f"/>
<rect x="765" y="94" width="6.5" height="6.5" fill="#ff5656"/>
<rect x="771" y="94" width="6.5" height="6.5" fill="#ff4d4d"/>
<rect x="777" y="94" width="6.5" height="6.5" fill="#ff4545"/>
<rect x="783" y="94" width="18.5" height="6.5" fill="#ff3e3e"/>
<rect x="645" y="100" width="12.5" height="6.5" fill="#ffeeee"/>
<rect x="657" y="100" width="6.5" height="6.5" fill="#ffe4e4"/>
<rect x="663" y="100" width="6.5" height="6.5" fill="#ffd2d2"/>
<rect x="669" y="100" width="6.5" height="6.5" fill="#ffc2c2"/>
<rect x="675" y="100" width="6.5" height="6.5" fill="#ffb6b6"/>
<rect x="681" y="100" width="6.5" height="6.5" fill="#ffaeae"/>
<rect x="687" y="100" width="6.5" height="6.5" fill="#ffa9a9"/>
<rect x="693" y="100" width="6.5" height="6.5" fill="#ffa4a4"/>
<rect x="699" y="100" width="6.5" height="6.5" fill="#ffa1a1"/>
<rect x="705" y="100" width="6.5" height="6.5" fill="#ff9f9f"/>
<rect x="711" y="100" width="6.5" height="6.5" fill="#ff9c9c"/>
<rect x="717" y="100" width="6.5" height="6.5" fill="#ff9797"/>
<rect x="723" y="100" width="6.5" height="6.5" fill="#ff9090"/>
<rect x="729" y="100" width="6.5" height="6.5" fill="#ff8a8a"/>
<rect x="735" y="100" width="6.5" height="6.5" fill="#ff8484"/>
<rect x="741" y="100" width="6.5" height="6.5" fill="#ff7c7c"/>
<rect x="747" y="100" width="6.5" height="6.5" fill="#ff7373"/>
<rect x="753" y="100" width="6.5" height="6.5" fill="#ff6969"/>
<rect x="759" y="100" width="6.5" height="6.5" fill="#ff6161"/>
<rect x="765" y="100" width="6.5" height="6.5" fill="#ff5858"/>
<rect x="771" y="100" width="6.5" height="6.5" fill="#ff5050"/>
<rect x="777" y="100" width="6.5" height="6.5" fill="#ff4949"/>
<rect x="783" y="100" width="6.5" height="6.5" fill="#ff4343"/>
<rect x="789" y="100" width="12.5" height="6.5" fill="#ff4242"/>
<rect x="645" y="106" width="12.5" height="6.5" fill="#ffe7e7"/>
<rect x="657" y="106" width="6.5" height="6.5" fill="#ffdbdb"/>
<rect x="663" y="106" width="6.5" height="6.5" fill="#ffc3c3"/>
<rect x="669" y="106" width="6.5" height="6.5" fill="#ffaeae"/>
<rect x="675" y="106" width="6.5" height="6.5" fill="#ff9e9e"/>
<rect x="681" y="106" width="6.5" height="6.5" fill="#ff9595"/>
<rect x="687" y="106" width="6.5" height="6.5" fill="#ff8e8e"/>
<rect x="693" y="106" width="6.5" height="6.5" fill="#ff8989"/>
<rect x="699" y="106" width="6.5" height="6.5" fill="#ff8585"/>
<rect x="705" y="106" width="12.5" height="6.5" fill="#ff8383"/>
<rect x="717" y="106" width="6.5" height="6.5" fill="#ff8181"/>
<rect x="723" y="106" width="6.5" height="6.5" fill="#ff8080"/>
<rect x="729" y="106" width="6.5" height="6.5" fill="#ff7e7e"/>
<rect x="735" y="106" width="6.5" height="6.5" fill="#ff7c7c"/>
<rect x="741" y="106" width="6.5" height="6.5" fill="#ff7878"/>
<rect x="747" y="106" width="6.5" height="6.5" fill="#ff7171"/>
<rect x="753" y="106" width="6.5" height="6.5" fill="#ff6a6a"/>
<rect x="759" y="106" width="6.5" height="6.5" fill="#ff6262"/>
<rect x="765" y="106" width="6.5" height="6.5" fill="#ff5b5b"/>
<rect x="771" y="106" width="6.5" height="6.5" fill="#ff5555"/>
<rect x="777" y="106" width="6.5" height="6.5" fill="#ff4e4e"/>
<rect x="783" y="106" width="18.5" height="6.5" fill="#ff4848"/>
<rect x="645" y="112" width="12.5" height="6.5" fill="#ffe6e6"/>
<rect x="657" y="112" width="6.5" height="6.5" fill="#ffd7d7"/>
<rect x="663" y="112" width="6.5" height="6.5" fill="#ffbcbc"/>
<rect x="669" y="112" width="6.5" height="6.5" fill="#ffa5a5"/>
<rect x="675" y="112" width="6.5" height="6.5" fill="#ff9494"/>
<rect x="681" y="112" width="6.5" height="6.5" fill="#ff8b8b"/>
<rect x="687" y="112" width="6.5" height="6.5" fill="#ff8484"/>
<rect x="693" y="112" width="6.5" height="6.5" fill="#ff7f7f"/>
<rect x="699" y="112" width="6.5" height="6.5" fill="#ff7c7c"/>
<rect x="705" y="112" width="36.5" height="6.5" fill="#ff7a7a"/>
<rect x="741" y="112" width="6.5" height="6.5" fill="#ff7676"/>
<rect x="747" y="112" width="6.5" height="6.5" fill="#ff7171"/>
<rect x="753" y="112" width="6.5" height="6.5" fill="#ff6b6b"/>
<rect x="759" y="112" width="6.5" height="6.5" fill="#ff6666"/>
<rect x="765" y="112" width="6.5" height="6.5" fill="#ff6060"/>
<rect x="771" y="112" width="6.5" height="6.5" fill="#ff5b5b"/>
<rect x="777" y="112" width="6.5" height="6.5" fill="#ff5555"/>
<rect x="783" y="112" width="18.5" height="6.5" fill="#ff4e4e"/>
<rect x="645" y="118" width="12.5" height="6.5" fill="#ffe6e6"/>
<rect x="657" y="118" width="6.5" height="6.5" fill="#ffd7d7"/>
<rect x="663" y="118" width="6.5" height="6.5" fill="#ffbbbb"/>
<rect x="669" y="118" width="6.5" height="6.5" fill="#ffa3a3"/>
<rect x="675" y="118" width="6.5" height="6.5" fill="#ff9191"/>
<rect x="681" y="118" width="6.5" height="6.5" fill="#ff8888"/>
<rect x="687" y="118" width="6.5" height="6.5" fill="#ff8383"/>
<rect x="693" y="118" width="6.5" height="6.5" fill="#ff7f7f"/>
<rect x="699" y="118" width="6.5" height="6.5" fill="#ff7c7c"/>
<rect x="705" y="118" width="12.5" height="6.5" fill="#ff7a7a"/>
<rect x="717" y="118" width="36.5" height="6.5" fill="#ff7b7b"/>
<rect x="753" y="118" width="6.5" height="6.5" fill="#ff7979"/>
<rect x="759" y="118" width="6.5" height="6.5" fill="#ff7777"/>
<rect x="765" y="118" width="6.5" height="6.5" fill="#ff7272"/>
<rect x="771" y="118" width="6.5" height="6.5" fill="#ff6b6b"/>
<rect x="777" y="118" width="6.5" height="6.5" fill="#ff6262"/>
<rect x="783" y="118" width="6.5" height="6.5" fill="#ff5656"/>
<rect x="789" y="118" width="12.5" height="6.5" fill="#ff5454"/>
<rect x="645" y="124" width="12.5" height="6.5" fill="#ffe6e6"/>
<rect x="657" y="124" width="6.5" height="6.5" fill="#ffd6d6"/>
<rect x="663" y="124" width="6.5" height="6.5" fill="#ffb9b9"/>
<rect x="669" y="124" width="6.5" height="6.5" fill="#ffa1a1"/>
<rect x="675" y="124" width="6.5" height="6.5" fill="#ff8f8f"/>
<rect x="681" y="124" width="6.5" height="6.5" fill="#ff8686"/>
<rect x="687" y="124" width="6.5" height="6.5" fill="#ff8282"/>
<rect x="693" y="124" width="6.5" height="6.5" fill="#ff7e7e"/>
<rect x="699" y="124" width="6.5" height="6.5" fill="#ff7b7b"/>
<rect x="705" y="124" width="12.5" height="6.5" fill="#ff7a7a"/>
<rect x="717" y="124" width="12.5" height="6.5" fill="#ff7b7b"/>
<rect x="729" y="124" width="6.5" height="6.5" fill="#ff7c7c"/>
<rect x="735" y="124" width="6.5" height="6.5" fill="#ff7e7e"/>
<rect x="741" y="124" width="6.5" height="6.5" fill="#ff8484"/>
<rect x="747" y="124" width="6.5" height="6.5" fill="#ff8e8e"/>
<rect x="753" y="124" width="6.5" height="6.5" fill="#ff9393"/>
<rect x="759" y="124" width="6.5" height="6.5" fill="#ff9494"/>
<rect x="765" y="124" width="6.5" height="6.5" fill="#ff8f8f"/>
<rect x="771" y="124" width="6.5" height="6.5" fill="#ff8585"/>
<rect x="777" y="124" width="6.5" height="6.5" fill="#ff7474"/>
<rect x="783" y="124" width="6.5" height="6.5" fill="#ff5e5e"/>
<rect x="789" y="124" width="12.5" height="6.5" fill="#ff5c5c"/>
<rect x="645" y="130" width="12.5" height="6.5" fill="#ffe6e6"/>
<rect x="657" y="130" width="6.5" height="6.5" fill="#ffd6d6"/>
<rect x="663" y="130" width="6.5" height="6.5" fill="#ffb8b8"/>
<rect x="669" y="130" width="6.5" height="6.5" fill="#ff9f9f"/>
<rect x="675" y="130" width="6.5" height="6.5" fill="#ff8d8d"/>
<rect x="681" y="130" width="6.5" height="6.5" fill="#ff8585"/>
<rect x="687" y="130" width="6.5" height="6.5" fill="#ff8181"/>
<rect x="693" y="130" width="6.5" height="6.5" fill="#ff7d7d"/>
<rect x="699" y="130" width="6.5" height="6.5" fill="#ff7b7b"/>
<rect x="705" y="130" width="6.5" height="6.5" fill="#ff7a7a"/>
<rect x="711" y="130" width="12.5" height="6.5" fill="#ff7b7b"/>
<rect x="723" y="130" width="6.5" height="6.5" fill="#ff7d7d"/>
<rect x="729" y="130" width="6.5" height="6.5" fill="#ff7e7e"/>
<rect x="735" y="130" width="6.5" height="6.5" fill="#ff8282"/>
<rect x="741" y="130" width="6.5" height="6.5" fill="#ff8f8f"/>
<rect x="747" y="130" width="6.5" height="6.5" fill="#ffa3a3"/>
<rect x="753" y="130" width="6.5" height="6.5" fill="#ffb0b0"/>
<rect x="759" y="130" width="6.5" height="6.5" fill="#ffb3b3"/>
<rect x="765" y="130" width="6.5" height="6.5" fill="#ffadad"/>
<rect x="771" y="130" width="6.5" height="6.5" fill="#ff9f9f"/>
<rect x="777" y="130" width="6.5" height="6.5" fill="#ff8787"/>
<rect x="783" y="130" width="6.5" height="6.5" fill="#ff6767"/>
<rect x="789" y="130" width="12.5" height="6.5" fill="#ff6464"/>
<rect x="645" y="136" width="12.5" height="6.5" fill="#ffe6e6"/>
<rect x="657" y="136" width="6.5" height="6.5" fill="#ffd6d6"/>
<rect x="663" y="136" width="6.5" height="6.5" fill="#ffb8b8"/>
<rect x="669" y="136" width="6.5" height="6.5" fill="#ff9e9e"/>
<rect x="675" y="136" width="6.5" height="6.5" fill="#ff8c8c"/>
<rect x="681" y="136" width="6.5" height="6.5" fill="#ff8484"/>
<rect x="687" y="136" width="6.5" height="6.5" fill="#ff8080"/>
<rect x="693" y="136" width="6.5" height="6.5" fill="#ff7d7d"/>
<rect x="699" y="136" width="6.5" height="6.5" fill="#ff7b7b"/>
<rect x="705" y="136" width="6.5" height="6.5" fill="#ff7a7a"/>
<rect x="711" y="136" width="6.5" height="6.5" fill="#ff7b7b"/>
<rect x="717" y="136" width="6.5" height="6.5" fill="#ff7c7c"/>
<rect x="723" y="136" width="6.5" height="6.5" fill="#ff7e7e"/>
<rect x="729" y="136" width="6.5" height="6.5" fill="#ff8181"/>
<rect x="735" y="136" width="6.5" height="6.5" fill="#ff8787"/>
<rect x="741" y="136" width="6.5" height="6.5" fill="#ff9999"/>
<rect x="747" y="136" width="6.5" height="6.5" fill="#ffb3b3"/>
<rect x="753" y="136" width="6.5" height="6.5" fill="#ffc6c6"/>
<rect x="759" y="136" width="6.5" height="6.5" fill="#ffcbcb"/>
<rect x="765" y="136" width="6.5" height="6.5" fill="#ffc3c3"/>
<rect x="771" y="136" width="6.5" height="6.5" fill="#ffb2b2"/>
<rect x="777" y="136" width="6.5" height="6.5" fill="#ff9696"/>
<rect x="783" y="136" width="6.5" height="6.5" fill="#ff7070"/>
<rect x="789" y="136" width="12.5" height="6.5" fill="#ff6d6d"/>
<rect x="645" y="142" width="12.5" height="6.5" fill="#ffe6e6"/>
<rect x="657" y="142" width="6.5" height="6.5" fill="#ffd6d6"/>
<rect x="663" y="142" width="6.5" height="6.5" fill="#ffb8b8"/>
<rect x="669" y="142" width="6.5" height="6.5" fill="#ff9f9f"/>
<rect x="675" y="142" width="6.5" height="6.5" fill="#ff8d8d"/>
<rect x="681" y="142" width="6.5" height="6.5" fill="#ff8585"/>
<rect x="687" y="142" width="6.5" height="6.5" fill="#ff8181"/>
<rect x="693" y="142" width="6.5" height="6.5" fill="#ff7e7e"/>
<rect x="699" y="142" width="6.5" height="6.5" fill="#ff7c7c"/>
<rect x="705" y="142" width="12.5" height="6.5" fill="#ff7b7b"/>
<rect x="717" y="142" width="6.5" height="6.5" fill="#ff7d7d"/>
<rect x="723" y="142" width="6.5" height="6.5" fill="#ff8080"/>
<rect x="729" y="142" width="6.5" height="6.5" fill="#ff8484"/>
<rect x="735" y="142" width="6.5" height="6.5" fill="#ff8c8c"/>
<rect x="741" y="142" width="6.5" height="6.5" fill="#ffa0a0"/>
<rect x="747" y="142" width="6.5" height="6.5" fill="#ffb7b7"/>
<rect x="753" y="142" width="6.5" height="6.5" fill="#ffcbcb"/>
<rect x="759" y="142" width="6.5" height="6.5" fill="#ffd0d0"/>
<rect x="765" y="142" width="6.5" height="6.5" fill="#ffc8c8"/>
<rect x="771" y="142" width="6.5" height="6.5" fill="#ffb6b6"/>
<rect x="777" y="142" width="6.5" height="6.5" fill="#ff9c9c"/>
<rect x="783" y="142" width="6.5" height="6.5" fill="#ff7979"/>
<rect x="789" y="142" width="12.5" height="6.5" fill="#ff7575"/>
<rect x="645" y="148" width="12.5" height="6.5" fill="#ffeaea"/>
<rect x="657" y="148" width="6.5" height="6.5" fill="#ffdcdc"/>
<rect x="663" y="148" width="6.5" height="6.5" fill="#ffc1c1"/>
<rect x="669" y="148" width="6.5" height="6.5" fill="#ffabab"/>
<rect x="675" y="148" width="6.5" height="6.5" fill="#ff9b9b"/>
<rect x="681" y="148" width="6.5" height="6.5" fill="#ff9292"/>
<rect x="687" y="148" width="6.5" height="6.5" fill="#ff8e8e"/>
<rect x="693" y="148" width="6.5" height="6.5" fill="#ff8a8a"/>
<rect x="699" y="148" width="6.5" height="6.5" fill="#ff8787"/>
<rect x="705" y="148" width="6.5" height="6.5" fill="#ff8585"/>
<rect x="711" y="148" width="6.5" height="6.5" fill="#ff8484"/>
<rect x="717" y="148" width="6.5" height="6.5" fill="#ff8585"/>
<rect x="723" y="148" width="6.5" height="6.5" fill="#ff8787"/>
<rect x="729" y="148" width="6.5" height="6.5" fill="#ff8b8b"/>
<rect x="735" y="148" width="6.5" height="6.5" fill="#ff9292"/>
<rect x="741" y="148" width="6.5" height="6.5" fill="#ffa4a4"/>
<rect x="747" y="148" width="6.5" height="6.5" fill="#ffb6b6"/>
<rect x="753" y="148" width="6.5" height="6.5" fill="#ffc7c7"/>
<rect x="759" y="148" width="6.5" height="6.5" fill="#ffcbcb"/>
<rect x="765" y="148" width="6.5" height="6.5" fill="#ffc4c4"/>
<rect x="771" y="148" width="6.5" height="6.5" fill="#ffb4b4"/>
<rect x="777" y="148" width="6.5" height="6.5" fill="#ff9e9e"/>
<rect x="783" y="148" width="6.5" height="6.5" fill="#ff8181"/>
<rect x="789" y="148" width="12.5" height="6.5" fill="#ff7e7e"/>
<rect x="645" y="154" width="12.5" height="6.5" fill="#fff1f1"/>
<rect x="657" y="154" width="6.5" height="6.5" fill="#ffe6e6"/>
<rect x="663" y="154" width="6.5" height="6.5" fill="#ffd2d2"/>
<rect x="669" y="154" width="6.5" height="6.5" fill="#ffc1c1"/>
<rect x="675" y="154" width="6.5" height="6.5" fill="#ffb3b3"/>
<rect x="681" y="154" width="6.5" height="6.5" fill="#ffabab"/>
<rect x="687" y="154" width="6.5" height="6.5" fill="#ffa5a5"/>
<rect x="693" y="154" width="6.5" height="6.5" fill="#ff9f9f"/>
<rect x="699" y="154" width="6.5" height="6.5" fill="#ff9a9a"/>
<rect x="705" y="154" width="6.5" height="6.5" fill="#ff9797"/>
<rect x="711" y="154" width="6.5" height="6.5" fill="#ff9494"/>
<rect x="717" y="154" width="12.5" height="6.5" fill="#ff9393"/>
<rect x="729" y="154" width="6.5" height="6.5" fill="#ff9595"/>
<rect x="735" y="154" width="6.5" height="6.5" fill="#ff9a9a"/>
<rect x="741" y="154" width="6.5" height="6.5" fill="#ffa7a7"/>
<rect x="747" y="154" width="6.5" height="6.5" fill="#ffb4b4"/>
<rect x="753" y="154" width="6.5" height="6.5" fill="#ffbfbf"/>
<rect x="759" y="154" width="6.5" height="6.5" fill="#ffc1c1"/>
<rect x="765" y="154" width="6.5" height="6.5" fill="#ffbbbb"/>
<rect x="771" y="154" width="6.5" height="6.5" fill="#ffb0b0"/>
<rect x="777" y="154" width="6.5" height="6.5" fill="#ff9f9f"/>
<rect x="783" y="154" width="6.5" height="6.5" fill="#ff8888"/>
<rect x="789" y="154" width="12.5" height="6.5" fill="#ff8686"/>
<rect x="645" y="160" width="12.5" height="6.5" fill="#fff8f8"/>
<rect x="657" y="160" width="6.5" height="6.5" fill="#fff2f2"/>
<rect x="663" y="160" width="6.5" height="6.5" fill="#ffe5e5"/>
<rect x="669" y="160" width="6.5" height="6.5" fill="#ffd9d9"/>
<rect x="675" y="160" width="6.5" height="6.5" fill="#ffcece"/>
<rect x="681" y="160" width="6.5" height="6.5" fill="#ffc6c6"/>
<rect x="687" y="160" width="6.5" height="6.5" fill="#ffbfbf"/>
<rect x="693" y="160" width="6.5" height="6.5" fill="#ffb8b8"/>
<rect x="699" y="160" width="6.5" height="6.5" fill="#ffb1b1"/>
<rect x="705" y="160" width="6.5" height="6.5" fill="#ffacac"/>
<rect x="711" y="160" width="6.5" height="6.5" fill="#ffa7a7"/>
<rect x="717" y="160" width="6.5" height="6.5" fill="#ffa4a4"/>
<rect x="723" y="160" width="6.5" height="6.5" fill="#ffa1a1"/>
<rect x="729" y="160" width="6.5" height="6.5" fill="#ffa0a0"/>
<rect x="735" y="160" width="6.5" height="6.5" fill="#ffa2a2"/>
<rect x="741" y="160" width="6.5" height="6.5" fill="#ffaaaa"/>
<rect x="747" y="160" width="6.5" height="6.5" fill="#ffb2b2"/>
<rect x="753" y="160" width="12.5" height="6.5" fill="#ffb6b6"/>
<rect x="765" y="160" width="6.5" height="6.5" fill="#ffb2b2"/>
<rect x="771" y="160" width="6.5" height="6.5" fill="#ffabab"/>
<rect x="777" y="160" width="6.5" height="6.5" fill="#ffa0a0"/>
<rect x="783" y="160" width="6.5" height="6.5" fill="#ff9090"/>
<rect x="789" y="160" width="12.5" height="6.5" fill="#ff8f8f"/>
<rect x="645" y="166" width="12.5" height="6.5" fill="#fffefe"/>
<rect x="657" y="166" width="6.5" height="6.5" fill="#fffafa"/>
<rect x="663" y="166" width="6.5" height="6.5" fill="#fff3f3"/>
<rect x="669" y="166" width="6.5" height="6.5" fill="#ffebeb"/>
<rect x="675" y="166" width="6.5" height="6.5" fill="#ffe4e4"/>
<rect x="681" y="166" width="6.5" height="6.5" fill="#ffdddd"/>
<rect x="687" y="166" width="6.5" height="6.5" fill="#ffd5d5"/>
<rect x="693" y="166" width="6.5" height="6.5" fill="#ffcdcd"/>
<rect x="699" y="166" width="6.5" height="6.5" fill="#ffc5c5"/>
<rect x="705" y="166" width="6.5" height="6.5" fill="#ffbfbf"/>
<rect x="711" y="166" width="6.5" height="6.5" fill="#ffb9b9"/>
<rect x="717" y="166" width="6.5" height="6.5" fill="#ffb4b4"/>
<rect x="723" y="166" width="6.5" height="6.5" fill="#ffafaf"/>
<rect x="729" y="166" width="12.5" height="6.5" fill="#ffacac"/>
<rect x="741" y="166" width="6.5" height="6.5" fill="#ffadad"/>
<rect x="747" y="166" width="12.5" height="6.5" fill="#ffb0b0"/>
<rect x="759" y="166" width="6.5" height="6.5" fill="#ffafaf"/>
<rect x="765" y="166" width="6.5" height="6.5" fill="#ffacac"/>
<rect x="771" y="166" width="6.5" height="6.5" fill="#ffa8a8"/>
<rect x="777" y="166" width="6.5" height="6.5" fill="#ffa1a1"/>
<rect x="783" y="166" width="6.5" height="6.5" fill="#ff9999"/>
<rect x="789" y="166" width="12.5" height="6.5" fill="#ff9898"/>
<rect x="645" y="172" width="12.5" height="6.5" fill="#ffffff"/>
<rect x="657" y="172" width="6.5" height="6.5" fill="#fffdfd"/>
<rect x="663" y="172" width="6.5" height="6.5" fill="#fff8f8"/>
<rect x="669" y="172" width="6.5" height="6.5" fill="#fff2f2"/>
<rect x="675" y="172" width="6.5" height="6.5" fill="#ffeded"/>
<rect x="681" y="172" width="6.5" height="6.5" fill="#ffe7e7"/>
<rect x="687" y="172" width="6.5" height="6.5" fill="#ffe0e0"/>
<rect x="693" y="172" width="6.5" height="6.5" fill="#ffd9d9"/>
<rect x="699" y="172" width="6.5" height="6.5" fill="#ffd2d2"/>
<rect x="705" y="172" width="6.5" height="6.5" fill="#ffcccc"/>
<rect x="711" y="172" width="6.5" height="6.5" fill="#ffc6c6"/>
<rect x="717" y="172" width="6.5" height="6.5" fill="#ffc0c0"/>
<rect x="723" y="172" width="6.5" height="6.5" fill="#ffbbbb"/>
<rect x="729" y="172" width="6.5" height="6.5" fill="#ffb7b7"/>
<rect x="735" y="172" width="6.5" height="6.5" fill="#ffb5b5"/>
<rect x="741" y="172" width="6.5" height="6.5" fill="#ffb3b3"/>
<rect x="747" y="172" width="6.5" height="6.5" fill="#ffb0b0"/>
<rect x="753" y="172" width="6.5" height="6.5" fill="#ffafaf"/>
<rect x="759" y="172" width="6.5" height="6.5" fill="#ffadad"/>
<rect x="765" y="172" width="6.5" height="6.5" fill="#ffabab"/>
<rect x="771" y="172" width="6.5" height="6.5" fill="#ffa7a7"/>
<rect x="777" y="172" width="6.5" height="6.5" fill="#ffa4a4"/>
<rect x="783" y="172" width="18.5" height="6.5" fill="#ffa2a2"/>
<rect x="645" y="178" width="12.5" height="6.5" fill="#ffffff"/>
<rect x="657" y="178" width="6.5" height="6.5" fill="#fffdfd"/>
<rect x="663" y="178" width="6.5" height="6.5" fill="#fffafa"/>
<rect x="669" y="178" width="6.5" height="6.5" fill="#fff6f6"/>
<rect x="675" y="178" width="6.5" height="6.5" fill="#fff2f2"/>
<rect x="681" y="178" width="6.5" height="6.5" fill="#ffeeee"/>
<rect x="687" y="178" width="6.5" height="6.5" fill="#ffe8e8"/>
<rect x="693" y="178" width="6.5" height="6.5" fill="#ffe3e3"/>
<rect x="699" y="178" width="6.5" height="6.5" fill="#ffdcdc"/>
<rect x="705" y="178" width="6.5" height="6.5" fill="#ffd6d6"/>
<rect x="711" y="178" width="6.5" height="6.5" fill="#ffd1d1"/>
<rect x="717" y="178" width="6.5" height="6.5" fill="#ffcccc"/>
<rect x="723" y="178" width="6.5" height="6.5" fill="#ffc6c6"/>
<rect x="729" y="178" width="6.5" height="6.5" fill="#ffc2c2"/>
<rect x="735" y="178" width="6.5" height="6.5" fill="#ffbfbf"/>
<rect x="741" y="178" width="6.5" height="6.5" fill="#ffbbbb"/>
<rect x="747" y="178" width="6.5" height="6.5" fill="#ffb5b5"/>
<rect x="753" y="178" width="6.5" height="6.5" fill="#ffb3b3"/>
<rect x="759" y="178" width="6.5" height="6.5" fill="#ffb1b1"/>
<rect x="765" y="178" width="6.5" height="6.5" fill="#ffafaf"/>
<rect x="771" y="178" width="6.5" height="6.5" fill="#ffacac"/>
<rect x="777" y="178" width="6.5" height="6.5" fill="#ffabab"/>
<rect x="783" y="178" width="18.5" height="6.5" fill="#ffacac"/>
<rect x="645" y="184" width="12.5" height="6.5" fill="#ffffff"/>
<rect x="657" y="184" width="6.5" height="6.5" fill="#fffefe"/>
<rect x="663" y="184" width="6.5" height="6.5" fill="#fffcfc"/>
<rect x="669" y="184" width="6.5" height="6.5" fill="#fff9f9"/>
<rect x="675" y="184" width="6.5" height="6.5" fill="#fff6f6"/>
<rect x="681" y="184" width="6.5" height="6.5" fill="#fff3f3"/>
<rect x="687" y="184" width="6.5" height="6.5" fill="#ffefef"/>
<rect x="693" y="184" width="6.5" height="6.5" fill="#ffebeb"/>
<rect x="699" y="184" width="6.5" height="6.5" fill="#ffe5e5"/>
<rect x="705" y="184" width="6.5" height="6.5" fill="#ffe0e0"/>
<rect x="711" y="184" width="6.5" height="6.5" fill="#ffdbdb"/>
<rect x="717" y="184" width="6.5" height="6.5" fill="#ffd6d6"/>
<rect x="723" y="184" width="6.5" height="6.5" fill="#ffd2d2"/>
<rect x="729" y="184" width="6.5" height="6.5" fill="#ffcece"/>
<rect x="735" y="184" width="6.5" height="6.5" fill="#ffcaca"/>
<rect x="741" y="184" width="6.5" height="6.5" fill="#ffc5c5"/>
<rect x="747" y="184" width="6.5" height="6.5" fill="#ffbfbf"/>
<rect x="753" y="184" width="6.5" height="6.5" fill="#ffbcbc"/>
<rect x="759" y="184" width="6.5" height="6.5" fill="#ffbaba"/>
<rect x="765" y="184" width="6.5" height="6.5" fill="#ffb7b7"/>
<rect x="771" y="184" width="6.5" height="6.5" fill="#ffb5b5"/>
<rect x="777" y="184" width="6.5" height="6.5" fill="#ffb4b4"/>
<rect x="783" y="184" width="18.5" height="6.5" fill="#ffb6b6"/>
<rect x="645" y="190" width="12.5" height="6.5" fill="#ffffff"/>
<rect x="657" y="190" width="6.5" height="6.5" fill="#fffefe"/>
<rect x="663" y="190" width="6.5" height="6.5" fill="#fffdfd"/>
<rect x="669" y="190" width="6.5" height="6.5" fill="#fffbfb"/>
<rect x="675" y="190" width="6.5" height="6.5" fill="#fff9f9"/>
<rect x="681" y="190" width="6.5" height="6.5" fill="#fff7f7"/>
<rect x="687" y="190" width="6.5" height="6.5" fill="#fff5f5"/>
<rect x="693" y="190" width="6.5" height="6.5" fill="#fff1f1"/>
<rect x="699" y="190" width="6.5" height="6.5" fill="#ffeded"/>
<rect x="705" y="190" width="6.5" height="6.5" fill="#ffe9e9"/>
<rect x="711" y="190" width="6.5" height="6.5" fill="#ffe5e5"/>
<rect x="717" y="190" width="6.5" height="6.5" fill="#ffe1e1"/>
<rect x="723" y="190" width="6.5" height="6.5" fill="#ffdddd"/>
<rect x="729" y="190" width="6.5" height="6.5" fill="#ffd9d9"/>
<rect x="735" y="190" width="6.5" height="6.5" fill="#ffd6d6"/>
<rect x="741" y="190" width="6.5" height="6.5" fill="#ffd2d2"/>
<rect x="747" y="190" width="6.5" height="6.5" fill="#ffcccc"/>
<rect x="753" y="190" width="6.5" height="6.5" fill="#ffc9c9"/>
<rect x="759" y="190" width="6.5" height="6.5" fill="#ffc6c6"/>
<rect x="765" y="190" width="6.5" height="6.5" fill="#ffc4c4"/>
<rect x="771" y="190" width="6.5" height="6.5" fill="#ffc1c1"/>
<rect x="777" y="190" width="24.5" height="6.5" fill="#ffc0c0"/>
<rect x="645" y="196" width="18.5" height="6.5" fill="#ffffff"/>
<rect x="663" y="196" width="6.5" height="6.5" fill="#fffdfd"/>
<rect x="669" y="196" width="6.5" height="6.5" fill="#fffcfc"/>
<rect x="675" y="196" width="6.5" height="6.5" fill="#fffbfb"/>
<rect x="681" y="196" width="6.5" height="6.5" fill="#fff9f9"/>
<rect x="687" y="196" width="6.5" height="6.5" fill="#fff8f8"/>
<rect x="693" y="196" width="6.5" height="6.5" fill="#fff5f5"/>
<rect x="699" y="196" width="6.5" height="6.5" fill="#fff2f2"/>
<rect x="705" y="196" width="6.5" height="6.5" fill="#fff0f0"/>
<rect x="711" y="196" width="6.5" height="6.5" fill="#ffeded"/>
<rect x="717" y="196" width="6.5" height="6.5" fill="#ffeaea"/>
<rect x="723" y="196" width="6.5" height="6.5" fill="#ffe8e8"/>
<rect x="729" y="196" width="6.5" height="6.5" fill="#ffe5e5"/>
<rect x="735" y="196" width="6.5" height="6.5" fill="#ffe3e3"/>
<rect x="741" y="196" width="6.5" height="6.5" fill="#ffe0e0"/>
<rect x="747" y="196" width="6.5" height="6.5" fill="#ffdcdc"/>
<rect x="753" y="196" width="6.5" height="6.5" fill="#ffd9d9"/>
<rect x="759" y="196" width="6.5" height="6.5" fill="#ffd6d6"/>
<rect x="765" y="196" width="6.5" height="6.5" fill="#ffd3d3"/>
<rect x="771" y="196" width="6.5" height="6.5" fill="#ffd1d1"/>
<rect x="777" y="196" width="6.5" height="6.5" fill="#ffcece"/>
<rect x="783" y="196" width="6.5" height="6.5" fill="#ffcccc"/>
<rect x="789" y="196" width="12.5" height="6.5" fill="#ffcbcb"/>
<rect x="645" y="202" width="18.5" height="6.5" fill="#ffffff"/>
<rect x="663" y="202" width="6.5" height="6.5" fill="#fffefe"/>
<rect x="669" y="202" width="6.5" height="6.5" fill="#fffcfc"/>
<rect x="675" y="202" width="6.5" height="6.5" fill="#fffbfb"/>
<rect x="681" y="202" width="6.5" height="6.5" fill="#fffafa"/>
<rect x="687" y="202" width="6.5" height="6.5" fill="#fff8f8"/>
<rect x="693" y="202" width="6.5" height="6.5" fill="#fff6f6"/>
<rect x="699" y="202" width="6.5" height="6.5" fill="#fff4f4"/>
<rect x="705" y="202" width="6.5" height="6.5" fill="#fff3f3"/>
<rect x="711" y="202" width="6.5" height="6.5" fill="#fff1f1"/>
<rect x="717" y="202" width="6.5" height="6.5" fill="#ffefef"/>
<rect x="723" y="202" width="6.5" height="6.5" fill="#ffeded"/>
<rect x="729" y="202" width="6.5" height="6.5" fill="#ffebeb"/>
<rect x="735" y="202" width="6.5" height="6.5" fill="#ffe9e9"/>
<rect x="741" y="202" width="6.5" height="6.5" fill="#ffe7e7"/>
<rect x="747" y="202" width="6.5" height="6.5" fill="#ffe5e5"/>
<rect x="753" y="202" width="6.5" height="6.5" fill="#ffe2e2"/>
<rect x="759" y="202" width="6.5" height="6.5" fill="#ffe0e0"/>
<rect x="765" y="202" width="6.5" height="6.5" fill="#ffdddd"/>
<rect x="771" y="202" width="6.5" height="6.5" fill="#ffd9d9"/>
<rect x="777" y="202" width="6.5" height="6.5" fill="#ffd5d5"/>
<rect x="783" y="202" width="18.5" height="6.5" fill="#ffd1d1"/>
<rect x="645" y="208" width="18.5" height="6.5" fill="#ffffff"/>
<rect x="663" y="208" width="6.5" height="6.5" fill="#fffefe"/>
<rect x="669" y="208" width="6.5" height="6.5" fill="#fffcfc"/>
<rect x="675" y="208" width="6.5" height="6.5" fill="#fffbfb"/>
<rect x="681" y="208" width="6.5" height="6.5" fill="#fffafa"/>
<rect x="687" y="208" width="6.5" height="6.5" fill="#fff8f8"/>
<rect x="693" y="208" width="6.5" height="6.5" fill="#fff6f6"/>
<rect x="699" y="208" width="6.5" height="6.5" fill="#fff4f4"/>
<rect x="705" y="208" width="6.5" height="6.5" fill="#fff3f3"/>
<rect x="711" y="208" width="6.5" height="6.5" fill="#fff1f1"/>
<rect x="717" y="208" width="6.5" height="6.5" fill="#ffefef"/>
<rect x="723" y="208" width="6.5" height="6.5" fill="#ffeded"/>
<rect x="729" y="208" width="6.5" height="6.5" fill="#ffebeb"/>
<rect x="735" y="208" width="6.5" height="6.5" fill="#ffe9e9"/>
<rect x="741" y="208" width="6.5" height="6.5" fill="#ffe7e7"/>
<rect x="747" y="208" width="6.5" height="6.5" fill="#ffe5e5"/>
<rect x="753" y="208" width="6.5" height="6.5" fill="#ffe2e2"/>
<rect x="759" y="208" width="6.5" height="6.5" fill="#ffe0e0"/>
<rect x="765" y="208" width="6.5" height="6.5" fill="#ffdddd"/>
<rect x="771" y="208" width="6.5" height="6.5" fill="#ffd9d9"/>
<rect x="777" y="208" width="6.5" height="6.5" fill="#ffd5d5"/>
<rect x="783" y="208" width="18.5" height="6.5" fill="#ffd1d1"/>
<rect x="645" y="214" width="18.5" height="6.5" fill="#ffffff"/>
<rect x="663" y="214" width="6.5" height="6.5" fill="#fffefe"/>
<rect x="669" y="214" width="6.5" height="6.5" fill="#fffcfc"/>
<rect x="675" y="214" width="6.5" height="6.5" fill="#fffbfb"/>
<rect x="681" y="214" width="6.5" height="6.5" fill="#fffafa"/>
<rect x="687" y="214" width="6.5" height="6.5" fill="#fff8f8"/>
<rect x="693" y="214" width="6.5" height="6.5" fill="#fff6f6"/>
<rect x="699" y="214" width="6.5" height="6.5" fill="#fff4f4"/>
<rect x="705" y="214" width="6.5" height="6.5" fill="#fff3f3"/>
<rect x="711" y="214" width="6.5" height="6.5" fill="#fff1f1"/>
<rect x="717" y="214" width="6.5" height="6.5" fill="#ffefef"/>
<rect x="723" y="214" width="6.5" height="6.5" fill="#ffeded"/>
<rect x="729" y="214" width="6.5" height="6.5" fill="#ffebeb"/>
<rect x="735" y="214" width="6.5" height="6.5" fill="#ffe9e9"/>
<rect x="741" y="214" width="6.5" height="6.5" fill="#ffe7e7"/>
<rect x="747" y="214" width="6.5" height="6.5" fill="#ffe5e5"/>
<rect x="753" y="214" width="6.5" height="6.5" fill="#ffe2e2"/>
<rect x="759" y="214" width="6.5" height="6.5" fill="#ffe0e0"/>
<rect x="765" y="214" width="6.5" height="6.5" fill="#ffdddd"/>
<rect x="771" y="214" width="6.5" height="6.5" fill="#ffd9d9"/>
<rect x="777" y="214" width="6.5" height="6.5" fill="#ffd5d5"/>
<rect x="783" y="214" width="18.5" height="6.5" fill="#ffd1d1"/>
</g>
<path d="M787.9 192.8 783.4 192.9 778.9 193.2 774.4 192.5 771.1 192.0 766.9 191.2 763.0 190.5 759.4 189.8 755.8 189.0 751.9 188.1 748.9 187.3 745.9 185.3 742.9 183.4 739.9 182.0 736.9 181.0 733.1 180.0 729.4 178.8 726.4 177.6 723.4 176.3 720.4 174.9 717.4 173.4 714.4 172.0 711.4 170.8 708.0 169.5 703.9 168.0 700.9 167.0 697.9 165.9 694.9 164.9 690.4 163.5 687.4 162.7 684.4 161.9 679.9 160.7 676.9 159.5 673.9 158.1 670.9 156.0 669.2 154.5 667.0 151.5 665.6 148.5 664.9 145.5 664.8 141.0 664.8 136.5 664.9 132.9 665.0 129.0 665.2 124.5 665.4 120.0 665.7 115.5 666.4 111.6 667.9 108.6 669.6 106.5 672.4 104.2 675.4 102.6 678.4 101.5 682.3 100.5 685.9 99.9 690.4 99.3 693.4 98.9 697.9 98.5 702.4 98.2 706.9 97.9 711.4 97.5 714.4 96.9 717.4 95.9 720.4 94.4 723.4 91.9 724.9 90.0 726.3 85.5 725.5 81.0 724.0 78.0 721.9 75.2 720.1 73.5 717.4 71.6 714.4 70.0 711.4 69.0 706.9 68.2 702.4 67.7 699.4 67.4 694.9 67.0 690.4 66.6 686.2 66.0 682.9 65.4 679.4 64.5 675.7 63.0 673.1 61.5 670.9 59.9 667.9 57.0 667.2 54.0" fill="none" stroke="#fff" stroke-opacity="0.4" stroke-width="0.6"/>
<path d="M764.8 157.5 767.1 156.0 769.6 153.0 771.0 150.0 771.7 147.0 771.7 142.5 770.0 139.5 768.2 138.0 764.5 136.5 760.9 136.1 757.9 136.6 754.9 138.4 753.0 141.0 752.5 145.5 753.0 150.0 753.8 153.0 755.5 156.0 757.9 158.0 762.4 158.3" fill="none" stroke="#fff" stroke-opacity="0.4" stroke-width="0.6"/>
<path d="M787.9 152.9 786.2 150.0 785.3 145.5 784.7 142.5 783.6 138.0 782.5 135.0 781.0 132.0 778.9 129.1 776.7 127.5 773.6 126.0 769.9 124.8 766.9 124.1 762.4 123.5 757.9 123.2 753.4 123.2 748.9 123.2 744.9 124.5 742.3 126.0 739.9 128.1 737.8 130.5 735.5 133.5 733.8 135.0 730.9 138.0 729.4 139.9 727.6 142.5 725.2 145.5 722.9 147.0 718.9 148.4 715.9 148.9 711.4 149.1 706.9 148.9 703.3 148.5 699.4 147.7 696.4 146.9 692.9 145.5 691.5 142.5 691.8 138.0 692.2 135.0 693.0 130.5 693.6 127.5 694.6 123.0 695.3 120.0 696.3 115.5 697.9 113.2 700.9 111.9 705.4 111.0 708.4 110.8 712.9 110.7 717.4 110.5 721.9 110.2 726.4 109.7 729.4 109.2 733.9 108.3 736.9 107.4 739.9 105.5 741.9 103.5 744.0 100.5 745.4 97.5 746.4 94.5 747.3 90.0 747.6 87.0 747.4 83.3 746.2 79.5 744.4 76.5 742.9 74.6 740.3 72.0 738.4 70.4 735.4 68.4 732.4 66.6 729.4 64.9 726.4 63.4 723.4 62.1 720.4 61.1 716.6 60.0 712.9 59.2 708.5 58.5 705.4 58.1 700.9 57.7 696.4 57.3 693.4 56.9 688.9 56.0 687.0 54.0" fill="none" stroke="#fff" stroke-opacity="0.4" stroke-width="0.6"/>
<path d="M787.9 100.1 784.9 97.5 783.4 95.2 781.9 92.7 780.4 90.0 778.6 87.0 776.8 84.0 774.8 81.0 772.9 78.2 771.4 76.1 769.4 73.5 766.9 70.7 765.2 69.0 762.4 66.5 759.8 64.5 757.6 63.0 754.9 61.4 751.9 59.9 748.5 58.5 744.4 57.1 741.4 55.7 741.0 52.5" fill="none" stroke="#fff" stroke-opacity="0.4" stroke-width="0.6"/>
<line x1="657.40" y1="52.50" x2="657.40" y2="202.80" stroke="#aaa" stroke-width="0.5" stroke-opacity="0.22"/>
<line x1="683.40" y1="52.50" x2="683.40" y2="202.80" stroke="#aaa" stroke-width="0.5" stroke-opacity="0.22"/>
<line x1="709.30" y1="52.50" x2="709.30" y2="202.80" stroke="#aaa" stroke-width="0.5" stroke-opacity="0.22"/>
<line x1="734.90" y1="52.50" x2="734.90" y2="202.80" stroke="#aaa" stroke-width="0.5" stroke-opacity="0.22"/>
<line x1="760.90" y1="52.50" x2="760.90" y2="202.80" stroke="#aaa" stroke-width="0.5" stroke-opacity="0.22"/>
<line x1="786.90" y1="52.50" x2="786.90" y2="202.80" stroke="#aaa" stroke-width="0.5" stroke-opacity="0.22"/>
<line x1="657.40" y1="56.10" x2="788.70" y2="56.10" stroke="#aaa" stroke-width="0.5" stroke-opacity="0.22"/>
<line x1="657.40" y1="85.40" x2="788.70" y2="85.40" stroke="#aaa" stroke-width="0.5" stroke-opacity="0.22"/>
<line x1="657.40" y1="114.50" x2="788.70" y2="114.50" stroke="#aaa" stroke-width="0.5" stroke-opacity="0.22"/>
<line x1="657.40" y1="143.80" x2="788.70" y2="143.80" stroke="#aaa" stroke-width="0.5" stroke-opacity="0.22"/>
<line x1="657.40" y1="173.30" x2="788.70" y2="173.30" stroke="#aaa" stroke-width="0.5" stroke-opacity="0.22"/>
<line x1="657.40" y1="202.60" x2="788.70" y2="202.60" stroke="#aaa" stroke-width="0.5" stroke-opacity="0.22"/>
</g>
<rect x="734.9" y="56.1" width="52.0" height="58.4" fill="#606060" fill-opacity="0.1" stroke="#eadada" stroke-width="0.8"/>
<text x="662.0" y="34.2" font-size="9.75" fill="#111">HSA synergy score: 12.973</text>
<defs><linearGradient id="cb1" x1="0" x2="1"><stop offset="0" stop-color="#0c0"/><stop offset="0.5" stop-color="#fff"/><stop offset="1" stop-color="#f00"/></linearGradient></defs>
<rect x="675.50" y="43.80" width="92.80" height="2.00" fill="url(#cb1)"/>
<text x="677.7" y="43.9" font-size="6.0" text-anchor="middle" fill="#222">−40</text>
<text x="700.7" y="43.9" font-size="6.0" text-anchor="middle" fill="#222">−20</text>
<text x="722.2" y="43.9" font-size="6.0" text-anchor="middle" fill="#222">0</text>
<text x="746.7" y="43.9" font-size="6.0" text-anchor="middle" fill="#222">20</text>
<text x="769.4" y="43.9" font-size="6.0" text-anchor="middle" fill="#222">40</text>
<text x="655.5" y="58.1" font-size="5.6" text-anchor="end" fill="#444">200</text>
<line x1="655.90" y1="56.10" x2="657.50" y2="56.10" stroke="#888" stroke-width="0.4"/>
<text x="655.5" y="87.4" font-size="5.6" text-anchor="end" fill="#444">100</text>
<line x1="655.90" y1="85.40" x2="657.50" y2="85.40" stroke="#888" stroke-width="0.4"/>
<text x="655.5" y="116.5" font-size="5.6" text-anchor="end" fill="#444">50</text>
<line x1="655.90" y1="114.50" x2="657.50" y2="114.50" stroke="#888" stroke-width="0.4"/>
<text x="655.5" y="145.8" font-size="5.6" text-anchor="end" fill="#444">25</text>
<line x1="655.90" y1="143.80" x2="657.50" y2="143.80" stroke="#888" stroke-width="0.4"/>
<text x="655.5" y="175.3" font-size="5.6" text-anchor="end" fill="#444">12.5</text>
<line x1="655.90" y1="173.30" x2="657.50" y2="173.30" stroke="#888" stroke-width="0.4"/>
<text x="655.5" y="204.6" font-size="5.6" text-anchor="end" fill="#444">0</text>
<line x1="655.90" y1="202.60" x2="657.50" y2="202.60" stroke="#888" stroke-width="0.4"/>
<text x="657.4" y="212.0" font-size="5.6" text-anchor="middle" fill="#444">0</text>
<text x="683.4" y="212.0" font-size="5.6" text-anchor="middle" fill="#444">0.2</text>
<text x="709.3" y="212.0" font-size="5.6" text-anchor="middle" fill="#444">0.5</text>
<text x="734.9" y="212.0" font-size="5.6" text-anchor="middle" fill="#444">1</text>
<text x="760.9" y="212.0" font-size="5.6" text-anchor="middle" fill="#444">2</text>
<text x="786.9" y="212.0" font-size="5.6" text-anchor="middle" fill="#444">4</text>
<text x="721.5" y="218.7" font-size="7.4" text-anchor="middle" fill="#111">Selinexor (nM)</text>
<text x="643.5" y="128.5" font-size="7.8" text-anchor="middle" fill="#111" transform="rotate(-90 643.5 128.5)">JQ1 (nM)</text>
<defs><clipPath id="c2"><rect x="657.5" y="277.1" width="131.5" height="148.7"/></clipPath><filter id="f2" x="-10%" y="-10%" width="120%" height="120%"><feGaussianBlur stdDeviation="3.2"/></filter></defs>
<g clip-path="url(#c2)"><g filter="url(#f2)">
<rect x="646" y="265" width="12.5" height="6.5" fill="#fff2f2"/>
<rect x="658" y="265" width="6.5" height="6.5" fill="#ffd0d0"/>
<rect x="664" y="265" width="6.5" height="6.5" fill="#ff9090"/>
<rect x="670" y="265" width="6.5" height="6.5" fill="#ff5a5a"/>
<rect x="676" y="265" width="6.5" height="6.5" fill="#ff3434"/>
<rect x="682" y="265" width="6.5" height="6.5" fill="#ff2525"/>
<rect x="688" y="265" width="6.5" height="6.5" fill="#ff2121"/>
<rect x="694" y="265" width="6.5" height="6.5" fill="#ff1e1e"/>
<rect x="700" y="265" width="6.5" height="6.5" fill="#ff1c1c"/>
<rect x="706" y="265" width="6.5" height="6.5" fill="#ff1a1a"/>
<rect x="712" y="265" width="6.5" height="6.5" fill="#ff1717"/>
<rect x="718" y="265" width="6.5" height="6.5" fill="#ff1313"/>
<rect x="724" y="265" width="6.5" height="6.5" fill="#ff0f0f"/>
<rect x="730" y="265" width="36.5" height="6.5" fill="#ff0d0d"/>
<rect x="766" y="265" width="6.5" height="6.5" fill="#ff0b0b"/>
<rect x="772" y="265" width="6.5" height="6.5" fill="#ff0808"/>
<rect x="778" y="265" width="6.5" height="6.5" fill="#ff0404"/>
<rect x="784" y="265" width="18.5" height="6.5" fill="#ff0000"/>
<rect x="646" y="271" width="12.5" height="6.5" fill="#fff2f2"/>
<rect x="658" y="271" width="6.5" height="6.5" fill="#ffd0d0"/>
<rect x="664" y="271" width="6.5" height="6.5" fill="#ff9090"/>
<rect x="670" y="271" width="6.5" height="6.5" fill="#ff5a5a"/>
<rect x="676" y="271" width="6.5" height="6.5" fill="#ff3434"/>
<rect x="682" y="271" width="6.5" height="6.5" fill="#ff2525"/>
<rect x="688" y="271" width="6.5" height="6.5" fill="#ff2121"/>
<rect x="694" y="271" width="6.5" height="6.5" fill="#ff1e1e"/>
<rect x="700" y="271" width="6.5" height="6.5" fill="#ff1c1c"/>
<rect x="706" y="271" width="6.5" height="6.5" fill="#ff1a1a"/>
<rect x="712" y="271" width="6.5" height="6.5" fill="#ff1717"/>
<rect x="718" y="271" width="6.5" height="6.5" fill="#ff1313"/>
<rect x="724" y="271" width="6.5" height="6.5" fill="#ff0f0f"/>
<rect x="730" y="271" width="36.5" height="6.5" fill="#ff0d0d"/>
<rect x="766" y="271" width="6.5" height="6.5" fill="#ff0b0b"/>
<rect x="772" y="271" width="6.5" height="6.5" fill="#ff0808"/>
<rect x="778" y="271" width="6.5" height="6.5" fill="#ff0404"/>
<rect x="784" y="271" width="18.5" height="6.5" fill="#ff0000"/>
<rect x="646" y="277" width="12.5" height="6.5" fill="#fff2f2"/>
<rect x="658" y="277" width="6.5" height="6.5" fill="#ffd0d0"/>
<rect x="664" y="277" width="6.5" height="6.5" fill="#ff9090"/>
<rect x="670" y="277" width="6.5" height="6.5" fill="#ff5a5a"/>
<rect x="676" y="277" width="6.5" height="6.5" fill="#ff3434"/>
<rect x="682" y="277" width="6.5" height="6.5" fill="#ff2525"/>
<rect x="688" y="277" width="6.5" height="6.5" fill="#ff2121"/>
<rect x="694" y="277" width="6.5" height="6.5" fill="#ff1e1e"/>
<rect x="700" y="277" width="6.5" height="6.5" fill="#ff1c1c"/>
<rect x="706" y="277" width="6.5" height="6.5" fill="#ff1a1a"/>
<rect x="712" y="277" width="6.5" height="6.5" fill="#ff1717"/>
<rect x="718" y="277" width="6.5" height="6.5" fill="#ff1313"/>
<rect x="724" y="277" width="6.5" height="6.5" fill="#ff0f0f"/>
<rect x="730" y="277" width="36.5" height="6.5" fill="#ff0d0d"/>
<rect x="766" y="277" width="6.5" height="6.5" fill="#ff0b0b"/>
<rect x="772" y="277" width="6.5" height="6.5" fill="#ff0808"/>
<rect x="778" y="277" width="6.5" height="6.5" fill="#ff0404"/>
<rect x="784" y="277" width="18.5" height="6.5" fill="#ff0000"/>
<rect x="646" y="283" width="12.5" height="6.5" fill="#fff6f6"/>
<rect x="658" y="283" width="6.5" height="6.5" fill="#ffd4d4"/>
<rect x="664" y="283" width="6.5" height="6.5" fill="#ff9393"/>
<rect x="670" y="283" width="6.5" height="6.5" fill="#ff5d5d"/>
<rect x="676" y="283" width="6.5" height="6.5" fill="#ff3737"/>
<rect x="682" y="283" width="6.5" height="6.5" fill="#ff2929"/>
<rect x="688" y="283" width="6.5" height="6.5" fill="#ff2424"/>
<rect x="694" y="283" width="6.5" height="6.5" fill="#ff2121"/>
<rect x="700" y="283" width="6.5" height="6.5" fill="#ff1f1f"/>
<rect x="706" y="283" width="6.5" height="6.5" fill="#ff1d1d"/>
<rect x="712" y="283" width="6.5" height="6.5" fill="#ff1b1b"/>
<rect x="718" y="283" width="6.5" height="6.5" fill="#ff1919"/>
<rect x="724" y="283" width="6.5" height="6.5" fill="#ff1616"/>
<rect x="730" y="283" width="36.5" height="6.5" fill="#ff1515"/>
<rect x="766" y="283" width="6.5" height="6.5" fill="#ff1313"/>
<rect x="772" y="283" width="6.5" height="6.5" fill="#ff0f0f"/>
<rect x="778" y="283" width="6.5" height="6.5" fill="#ff0b0b"/>
<rect x="784" y="283" width="18.5" height="6.5" fill="#ff0707"/>
<rect x="646" y="289" width="12.5" height="6.5" fill="#fffafa"/>
<rect x="658" y="289" width="6.5" height="6.5" fill="#ffd7d7"/>
<rect x="664" y="289" width="6.5" height="6.5" fill="#ff9797"/>
<rect x="670" y="289" width="6.5" height="6.5" fill="#ff6161"/>
<rect x="676" y="289" width="6.5" height="6.5" fill="#ff3c3c"/>
<rect x="682" y="289" width="6.5" height="6.5" fill="#ff2d2d"/>
<rect x="688" y="289" width="6.5" height="6.5" fill="#ff2929"/>
<rect x="694" y="289" width="6.5" height="6.5" fill="#ff2626"/>
<rect x="700" y="289" width="6.5" height="6.5" fill="#ff2323"/>
<rect x="706" y="289" width="6.5" height="6.5" fill="#ff2222"/>
<rect x="712" y="289" width="6.5" height="6.5" fill="#ff2020"/>
<rect x="718" y="289" width="6.5" height="6.5" fill="#ff1f1f"/>
<rect x="724" y="289" width="36.5" height="6.5" fill="#ff1e1e"/>
<rect x="760" y="289" width="6.5" height="6.5" fill="#ff1d1d"/>
<rect x="766" y="289" width="6.5" height="6.5" fill="#ff1a1a"/>
<rect x="772" y="289" width="6.5" height="6.5" fill="#ff1717"/>
<rect x="778" y="289" width="6.5" height="6.5" fill="#ff1313"/>
<rect x="784" y="289" width="18.5" height="6.5" fill="#ff0e0e"/>
<rect x="646" y="295" width="12.5" height="6.5" fill="#fffcfc"/>
<rect x="658" y="295" width="6.5" height="6.5" fill="#ffdada"/>
<rect x="664" y="295" width="6.5" height="6.5" fill="#ff9b9b"/>
<rect x="670" y="295" width="6.5" height="6.5" fill="#ff6666"/>
<rect x="676" y="295" width="6.5" height="6.5" fill="#ff4141"/>
<rect x="682" y="295" width="6.5" height="6.5" fill="#ff3333"/>
<rect x="688" y="295" width="6.5" height="6.5" fill="#ff2e2e"/>
<rect x="694" y="295" width="6.5" height="6.5" fill="#ff2b2b"/>
<rect x="700" y="295" width="6.5" height="6.5" fill="#ff2929"/>
<rect x="706" y="295" width="6.5" height="6.5" fill="#ff2727"/>
<rect x="712" y="295" width="12.5" height="6.5" fill="#ff2626"/>
<rect x="724" y="295" width="24.5" height="6.5" fill="#ff2727"/>
<rect x="748" y="295" width="12.5" height="6.5" fill="#ff2626"/>
<rect x="760" y="295" width="6.5" height="6.5" fill="#ff2424"/>
<rect x="766" y="295" width="6.5" height="6.5" fill="#ff2222"/>
<rect x="772" y="295" width="6.5" height="6.5" fill="#ff1f1f"/>
<rect x="778" y="295" width="6.5" height="6.5" fill="#ff1b1b"/>
<rect x="784" y="295" width="18.5" height="6.5" fill="#ff1616"/>
<rect x="646" y="301" width="12.5" height="6.5" fill="#fffefe"/>
<rect x="658" y="301" width="6.5" height="6.5" fill="#ffdddd"/>
<rect x="664" y="301" width="6.5" height="6.5" fill="#ff9f9f"/>
<rect x="670" y="301" width="6.5" height="6.5" fill="#ff6b6b"/>
<rect x="676" y="301" width="6.5" height="6.5" fill="#ff4747"/>
<rect x="682" y="301" width="6.5" height="6.5" fill="#ff3939"/>
<rect x="688" y="301" width="6.5" height="6.5" fill="#ff3434"/>
<rect x="694" y="301" width="6.5" height="6.5" fill="#ff3131"/>
<rect x="700" y="301" width="6.5" height="6.5" fill="#ff2e2e"/>
<rect x="706" y="301" width="12.5" height="6.5" fill="#ff2d2d"/>
<rect x="718" y="301" width="6.5" height="6.5" fill="#ff2e2e"/>
<rect x="724" y="301" width="6.5" height="6.5" fill="#ff2f2f"/>
<rect x="730" y="301" width="12.5" height="6.5" fill="#ff3030"/>
<rect x="742" y="301" width="12.5" height="6.5" fill="#ff2f2f"/>
<rect x="754" y="301" width="6.5" height="6.5" fill="#ff2d2d"/>
<rect x="760" y="301" width="6.5" height="6.5" fill="#ff2c2c"/>
<rect x="766" y="301" width="6.5" height="6.5" fill="#ff2929"/>
<rect x="772" y="301" width="6.5" height="6.5" fill="#ff2626"/>
<rect x="778" y="301" width="6.5" height="6.5" fill="#ff2222"/>
<rect x="784" y="301" width="18.5" height="6.5" fill="#ff1e1e"/>
<rect x="646" y="307" width="12.5" height="6.5" fill="#ffffff"/>
<rect x="658" y="307" width="6.5" height="6.5" fill="#ffdfdf"/>
<rect x="664" y="307" width="6.5" height="6.5" fill="#ffa3a3"/>
<rect x="670" y="307" width="6.5" height="6.5" fill="#ff7171"/>
<rect x="676" y="307" width="6.5" height="6.5" fill="#ff4e4e"/>
<rect x="682" y="307" width="6.5" height="6.5" fill="#ff4040"/>
<rect x="688" y="307" width="6.5" height="6.5" fill="#ff3b3b"/>
<rect x="694" y="307" width="6.5" height="6.5" fill="#ff3737"/>
<rect x="700" y="307" width="6.5" height="6.5" fill="#ff3535"/>
<rect x="706" y="307" width="12.5" height="6.5" fill="#ff3434"/>
<rect x="718" y="307" width="6.5" height="6.5" fill="#ff3636"/>
<rect x="724" y="307" width="6.5" height="6.5" fill="#ff3838"/>
<rect x="730" y="307" width="12.5" height="6.5" fill="#ff3939"/>
<rect x="742" y="307" width="6.5" height="6.5" fill="#ff3838"/>
<rect x="748" y="307" width="6.5" height="6.5" fill="#ff3636"/>
<rect x="754" y="307" width="6.5" height="6.5" fill="#ff3535"/>
<rect x="760" y="307" width="6.5" height="6.5" fill="#ff3333"/>
<rect x="766" y="307" width="6.5" height="6.5" fill="#ff3131"/>
<rect x="772" y="307" width="6.5" height="6.5" fill="#ff2e2e"/>
<rect x="778" y="307" width="6.5" height="6.5" fill="#ff2a2a"/>
<rect x="784" y="307" width="18.5" height="6.5" fill="#ff2727"/>
<rect x="646" y="313" width="12.5" height="6.5" fill="#ffffff"/>
<rect x="658" y="313" width="6.5" height="6.5" fill="#ffe1e1"/>
<rect x="664" y="313" width="6.5" height="6.5" fill="#ffa8a8"/>
<rect x="670" y="313" width="6.5" height="6.5" fill="#ff7878"/>
<rect x="676" y="313" width="6.5" height="6.5" fill="#ff5656"/>
<rect x="682" y="313" width="6.5" height="6.5" fill="#ff4848"/>
<rect x="688" y="313" width="6.5" height="6.5" fill="#ff4343"/>
<rect x="694" y="313" width="6.5" height="6.5" fill="#ff3f3f"/>
<rect x="700" y="313" width="6.5" height="6.5" fill="#ff3c3c"/>
<rect x="706" y="313" width="6.5" height="6.5" fill="#ff3b3b"/>
<rect x="712" y="313" width="6.5" height="6.5" fill="#ff3c3c"/>
<rect x="718" y="313" width="6.5" height="6.5" fill="#ff3e3e"/>
<rect x="724" y="313" width="6.5" height="6.5" fill="#ff4040"/>
<rect x="730" y="313" width="12.5" height="6.5" fill="#ff4242"/>
<rect x="742" y="313" width="6.5" height="6.5" fill="#ff4040"/>
<rect x="748" y="313" width="6.5" height="6.5" fill="#ff3e3e"/>
<rect x="754" y="313" width="6.5" height="6.5" fill="#ff3b3b"/>
<rect x="760" y="313" width="6.5" height="6.5" fill="#ff3939"/>
<rect x="766" y="313" width="6.5" height="6.5" fill="#ff3838"/>
<rect x="772" y="313" width="6.5" height="6.5" fill="#ff3535"/>
<rect x="778" y="313" width="6.5" height="6.5" fill="#ff3333"/>
<rect x="784" y="313" width="18.5" height="6.5" fill="#ff3030"/>
<rect x="646" y="319" width="12.5" height="6.5" fill="#ffffff"/>
<rect x="658" y="319" width="6.5" height="6.5" fill="#ffe3e3"/>
<rect x="664" y="319" width="6.5" height="6.5" fill="#ffadad"/>
<rect x="670" y="319" width="6.5" height="6.5" fill="#ff8080"/>
<rect x="676" y="319" width="6.5" height="6.5" fill="#ff5f5f"/>
<rect x="682" y="319" width="6.5" height="6.5" fill="#ff5252"/>
<rect x="688" y="319" width="6.5" height="6.5" fill="#ff4c4c"/>
<rect x="694" y="319" width="6.5" height="6.5" fill="#ff4848"/>
<rect x="700" y="319" width="6.5" height="6.5" fill="#ff4545"/>
<rect x="706" y="319" width="6.5" height="6.5" fill="#ff4444"/>
<rect x="712" y="319" width="6.5" height="6.5" fill="#ff4545"/>
<rect x="718" y="319" width="6.5" height="6.5" fill="#ff4747"/>
<rect x="724" y="319" width="6.5" height="6.5" fill="#ff4949"/>
<rect x="730" y="319" width="6.5" height="6.5" fill="#ff4b4b"/>
<rect x="736" y="319" width="6.5" height="6.5" fill="#ff4a4a"/>
<rect x="742" y="319" width="6.5" height="6.5" fill="#ff4848"/>
<rect x="748" y="319" width="6.5" height="6.5" fill="#ff4444"/>
<rect x="754" y="319" width="6.5" height="6.5" fill="#ff4141"/>
<rect x="760" y="319" width="6.5" height="6.5" fill="#ff3f3f"/>
<rect x="766" y="319" width="6.5" height="6.5" fill="#ff3e3e"/>
<rect x="772" y="319" width="6.5" height="6.5" fill="#ff3c3c"/>
<rect x="778" y="319" width="6.5" height="6.5" fill="#ff3b3b"/>
<rect x="784" y="319" width="18.5" height="6.5" fill="#ff3a3a"/>
<rect x="646" y="325" width="12.5" height="6.5" fill="#ffffff"/>
<rect x="658" y="325" width="6.5" height="6.5" fill="#ffe5e5"/>
<rect x="664" y="325" width="6.5" height="6.5" fill="#ffb3b3"/>
<rect x="670" y="325" width="6.5" height="6.5" fill="#ff8888"/>
<rect x="676" y="325" width="6.5" height="6.5" fill="#ff6a6a"/>
<rect x="682" y="325" width="6.5" height="6.5" fill="#ff5d5d"/>
<rect x="688" y="325" width="6.5" height="6.5" fill="#ff5757"/>
<rect x="694" y="325" width="6.5" height="6.5" fill="#ff5252"/>
<rect x="700" y="325" width="6.5" height="6.5" fill="#ff4f4f"/>
<rect x="706" y="325" width="6.5" height="6.5" fill="#ff4e4e"/>
<rect x="712" y="325" width="6.5" height="6.5" fill="#ff4f4f"/>
<rect x="718" y="325" width="6.5" height="6.5" fill="#ff5151"/>
<rect x="724" y="325" width="6.5" height="6.5" fill="#ff5353"/>
<rect x="730" y="325" width="6.5" height="6.5" fill="#ff5454"/>
<rect x="736" y="325" width="6.5" height="6.5" fill="#ff5353"/>
<rect x="742" y="325" width="6.5" height="6.5" fill="#ff5050"/>
<rect x="748" y="325" width="6.5" height="6.5" fill="#ff4b4b"/>
<rect x="754" y="325" width="6.5" height="6.5" fill="#ff4747"/>
<rect x="760" y="325" width="12.5" height="6.5" fill="#ff4545"/>
<rect x="772" y="325" width="30.5" height="6.5" fill="#ff4444"/>
<rect x="646" y="331" width="12.5" height="6.5" fill="#ffffff"/>
<rect x="658" y="331" width="6.5" height="6.5" fill="#ffe7e7"/>
<rect x="664" y="331" width="6.5" height="6.5" fill="#ffb9b9"/>
<rect x="670" y="331" width="6.5" height="6.5" fill="#ff9292"/>
<rect x="676" y="331" width="6.5" height="6.5" fill="#ff7676"/>
<rect x="682" y="331" width="6.5" height="6.5" fill="#ff6969"/>
<rect x="688" y="331" width="6.5" height="6.5" fill="#ff6262"/>
<rect x="694" y="331" width="6.5" height="6.5" fill="#ff5d5d"/>
<rect x="700" y="331" width="6.5" height="6.5" fill="#ff5a5a"/>
<rect x="706" y="331" width="12.5" height="6.5" fill="#ff5959"/>
<rect x="718" y="331" width="6.5" height="6.5" fill="#ff5b5b"/>
<rect x="724" y="331" width="6.5" height="6.5" fill="#ff5d5d"/>
<rect x="730" y="331" width="6.5" height="6.5" fill="#ff5e5e"/>
<rect x="736" y="331" width="6.5" height="6.5" fill="#ff5d5d"/>
<rect x="742" y="331" width="6.5" height="6.5" fill="#ff5858"/>
<rect x="748" y="331" width="6.5" height="6.5" fill="#ff5252"/>
<rect x="754" y="331" width="6.5" height="6.5" fill="#ff4d4d"/>
<rect x="760" y="331" width="18.5" height="6.5" fill="#ff4c4c"/>
<rect x="778" y="331" width="6.5" height="6.5" fill="#ff4d4d"/>
<rect x="784" y="331" width="18.5" height="6.5" fill="#ff4f4f"/>
<rect x="646" y="337" width="12.5" height="6.5" fill="#ffffff"/>
<rect x="658" y="337" width="6.5" height="6.5" fill="#ffe9e9"/>
<rect x="664" y="337" width="6.5" height="6.5" fill="#ffbfbf"/>
<rect x="670" y="337" width="6.5" height="6.5" fill="#ff9b9b"/>
<rect x="676" y="337" width="6.5" height="6.5" fill="#ff8282"/>
<rect x="682" y="337" width="6.5" height="6.5" fill="#ff7575"/>
<rect x="688" y="337" width="6.5" height="6.5" fill="#ff6e6e"/>
<rect x="694" y="337" width="6.5" height="6.5" fill="#ff6969"/>
<rect x="700" y="337" width="6.5" height="6.5" fill="#ff6565"/>
<rect x="706" y="337" width="12.5" height="6.5" fill="#ff6464"/>
<rect x="718" y="337" width="6.5" height="6.5" fill="#ff6666"/>
<rect x="724" y="337" width="6.5" height="6.5" fill="#ff6868"/>
<rect x="730" y="337" width="6.5" height="6.5" fill="#ff6969"/>
<rect x="736" y="337" width="6.5" height="6.5" fill="#ff6868"/>
<rect x="742" y="337" width="6.5" height="6.5" fill="#ff6262"/>
<rect x="748" y="337" width="6.5" height="6.5" fill="#ff5b5b"/>
<rect x="754" y="337" width="6.5" height="6.5" fill="#ff5555"/>
<rect x="760" y="337" width="12.5" height="6.5" fill="#ff5454"/>
<rect x="772" y="337" width="6.5" height="6.5" fill="#ff5555"/>
<rect x="778" y="337" width="6.5" height="6.5" fill="#ff5757"/>
<rect x="784" y="337" width="18.5" height="6.5" fill="#ff5a5a"/>
<rect x="646" y="343" width="12.5" height="6.5" fill="#ffffff"/>
<rect x="658" y="343" width="6.5" height="6.5" fill="#ffebeb"/>
<rect x="664" y="343" width="6.5" height="6.5" fill="#ffc6c6"/>
<rect x="670" y="343" width="6.5" height="6.5" fill="#ffa7a7"/>
<rect x="676" y="343" width="6.5" height="6.5" fill="#ff9090"/>
<rect x="682" y="343" width="6.5" height="6.5" fill="#ff8383"/>
<rect x="688" y="343" width="6.5" height="6.5" fill="#ff7c7c"/>
<rect x="694" y="343" width="6.5" height="6.5" fill="#ff7676"/>
<rect x="700" y="343" width="6.5" height="6.5" fill="#ff7272"/>
<rect x="706" y="343" width="6.5" height="6.5" fill="#ff7070"/>
<rect x="712" y="343" width="6.5" height="6.5" fill="#ff7171"/>
<rect x="718" y="343" width="6.5" height="6.5" fill="#ff7373"/>
<rect x="724" y="343" width="6.5" height="6.5" fill="#ff7575"/>
<rect x="730" y="343" width="6.5" height="6.5" fill="#ff7777"/>
<rect x="736" y="343" width="6.5" height="6.5" fill="#ff7676"/>
<rect x="742" y="343" width="6.5" height="6.5" fill="#ff6f6f"/>
<rect x="748" y="343" width="6.5" height="6.5" fill="#ff6666"/>
<rect x="754" y="343" width="6.5" height="6.5" fill="#ff5f5f"/>
<rect x="760" y="343" width="12.5" height="6.5" fill="#ff5e5e"/>
<rect x="772" y="343" width="6.5" height="6.5" fill="#ff6060"/>
<rect x="778" y="343" width="6.5" height="6.5" fill="#ff6262"/>
<rect x="784" y="343" width="18.5" height="6.5" fill="#ff6565"/>
<rect x="646" y="349" width="12.5" height="6.5" fill="#ffffff"/>
<rect x="658" y="349" width="6.5" height="6.5" fill="#ffeeee"/>
<rect x="664" y="349" width="6.5" height="6.5" fill="#ffcfcf"/>
<rect x="670" y="349" width="6.5" height="6.5" fill="#ffb4b4"/>
<rect x="676" y="349" width="6.5" height="6.5" fill="#ff9f9f"/>
<rect x="682" y="349" width="6.5" height="6.5" fill="#ff9393"/>
<rect x="688" y="349" width="6.5" height="6.5" fill="#ff8b8b"/>
<rect x="694" y="349" width="6.5" height="6.5" fill="#ff8585"/>
<rect x="700" y="349" width="6.5" height="6.5" fill="#ff8080"/>
<rect x="706" y="349" width="6.5" height="6.5" fill="#ff7e7e"/>
<rect x="712" y="349" width="6.5" height="6.5" fill="#ff7f7f"/>
<rect x="718" y="349" width="6.5" height="6.5" fill="#ff8181"/>
<rect x="724" y="349" width="6.5" height="6.5" fill="#ff8484"/>
<rect x="730" y="349" width="6.5" height="6.5" fill="#ff8686"/>
<rect x="736" y="349" width="6.5" height="6.5" fill="#ff8585"/>
<rect x="742" y="349" width="6.5" height="6.5" fill="#ff7d7d"/>
<rect x="748" y="349" width="6.5" height="6.5" fill="#ff7373"/>
<rect x="754" y="349" width="6.5" height="6.5" fill="#ff6b6b"/>
<rect x="760" y="349" width="12.5" height="6.5" fill="#ff6a6a"/>
<rect x="772" y="349" width="6.5" height="6.5" fill="#ff6b6b"/>
<rect x="778" y="349" width="6.5" height="6.5" fill="#ff6e6e"/>
<rect x="784" y="349" width="18.5" height="6.5" fill="#ff7272"/>
<rect x="646" y="355" width="12.5" height="6.5" fill="#ffffff"/>
<rect x="658" y="355" width="6.5" height="6.5" fill="#fff1f1"/>
<rect x="664" y="355" width="6.5" height="6.5" fill="#ffd7d7"/>
<rect x="670" y="355" width="6.5" height="6.5" fill="#ffc0c0"/>
<rect x="676" y="355" width="6.5" height="6.5" fill="#ffafaf"/>
<rect x="682" y="355" width="6.5" height="6.5" fill="#ffa3a3"/>
<rect x="688" y="355" width="6.5" height="6.5" fill="#ff9b9b"/>
<rect x="694" y="355" width="6.5" height="6.5" fill="#ff9494"/>
<rect x="700" y="355" width="6.5" height="6.5" fill="#ff8f8f"/>
<rect x="706" y="355" width="6.5" height="6.5" fill="#ff8c8c"/>
<rect x="712" y="355" width="6.5" height="6.5" fill="#ff8d8d"/>
<rect x="718" y="355" width="6.5" height="6.5" fill="#ff9090"/>
<rect x="724" y="355" width="6.5" height="6.5" fill="#ff9494"/>
<rect x="730" y="355" width="6.5" height="6.5" fill="#ff9696"/>
<rect x="736" y="355" width="6.5" height="6.5" fill="#ff9494"/>
<rect x="742" y="355" width="6.5" height="6.5" fill="#ff8c8c"/>
<rect x="748" y="355" width="6.5" height="6.5" fill="#ff8181"/>
<rect x="754" y="355" width="6.5" height="6.5" fill="#ff7878"/>
<rect x="760" y="355" width="6.5" height="6.5" fill="#ff7676"/>
<rect x="766" y="355" width="6.5" height="6.5" fill="#ff7777"/>
<rect x="772" y="355" width="6.5" height="6.5" fill="#ff7878"/>
<rect x="778" y="355" width="6.5" height="6.5" fill="#ff7a7a"/>
<rect x="784" y="355" width="18.5" height="6.5" fill="#ff7e7e"/>
<rect x="646" y="361" width="12.5" height="6.5" fill="#ffffff"/>
<rect x="658" y="361" width="6.5" height="6.5" fill="#fff4f4"/>
<rect x="664" y="361" width="6.5" height="6.5" fill="#ffdede"/>
<rect x="670" y="361" width="6.5" height="6.5" fill="#ffcccc"/>
<rect x="676" y="361" width="6.5" height="6.5" fill="#ffbdbd"/>
<rect x="682" y="361" width="6.5" height="6.5" fill="#ffb2b2"/>
<rect x="688" y="361" width="6.5" height="6.5" fill="#ffa9a9"/>
<rect x="694" y="361" width="6.5" height="6.5" fill="#ffa2a2"/>
<rect x="700" y="361" width="6.5" height="6.5" fill="#ff9c9c"/>
<rect x="706" y="361" width="6.5" height="6.5" fill="#ff9a9a"/>
<rect x="712" y="361" width="6.5" height="6.5" fill="#ff9b9b"/>
<rect x="718" y="361" width="6.5" height="6.5" fill="#ff9e9e"/>
<rect x="724" y="361" width="6.5" height="6.5" fill="#ffa2a2"/>
<rect x="730" y="361" width="6.5" height="6.5" fill="#ffa4a4"/>
<rect x="736" y="361" width="6.5" height="6.5" fill="#ffa2a2"/>
<rect x="742" y="361" width="6.5" height="6.5" fill="#ff9a9a"/>
<rect x="748" y="361" width="6.5" height="6.5" fill="#ff8e8e"/>
<rect x="754" y="361" width="6.5" height="6.5" fill="#ff8585"/>
<rect x="760" y="361" width="12.5" height="6.5" fill="#ff8383"/>
<rect x="772" y="361" width="6.5" height="6.5" fill="#ff8484"/>
<rect x="778" y="361" width="6.5" height="6.5" fill="#ff8787"/>
<rect x="784" y="361" width="18.5" height="6.5" fill="#ff8b8b"/>
<rect x="646" y="367" width="12.5" height="6.5" fill="#ffffff"/>
<rect x="658" y="367" width="6.5" height="6.5" fill="#fff6f6"/>
<rect x="664" y="367" width="6.5" height="6.5" fill="#ffe4e4"/>
<rect x="670" y="367" width="6.5" height="6.5" fill="#ffd5d5"/>
<rect x="676" y="367" width="6.5" height="6.5" fill="#ffc8c8"/>
<rect x="682" y="367" width="6.5" height="6.5" fill="#ffbebe"/>
<rect x="688" y="367" width="6.5" height="6.5" fill="#ffb6b6"/>
<rect x="694" y="367" width="6.5" height="6.5" fill="#ffaeae"/>
<rect x="700" y="367" width="6.5" height="6.5" fill="#ffa9a9"/>
<rect x="706" y="367" width="6.5" height="6.5" fill="#ffa6a6"/>
<rect x="712" y="367" width="6.5" height="6.5" fill="#ffa7a7"/>
<rect x="718" y="367" width="6.5" height="6.5" fill="#ffaaaa"/>
<rect x="724" y="367" width="6.5" height="6.5" fill="#ffadad"/>
<rect x="730" y="367" width="6.5" height="6.5" fill="#ffafaf"/>
<rect x="736" y="367" width="6.5" height="6.5" fill="#ffaeae"/>
<rect x="742" y="367" width="6.5" height="6.5" fill="#ffa5a5"/>
<rect x="748" y="367" width="6.5" height="6.5" fill="#ff9a9a"/>
<rect x="754" y="367" width="6.5" height="6.5" fill="#ff9191"/>
<rect x="760" y="367" width="12.5" height="6.5" fill="#ff8f8f"/>
<rect x="772" y="367" width="6.5" height="6.5" fill="#ff9090"/>
<rect x="778" y="367" width="6.5" height="6.5" fill="#ff9393"/>
<rect x="784" y="367" width="18.5" height="6.5" fill="#ff9797"/>
<rect x="646" y="373" width="12.5" height="6.5" fill="#ffffff"/>
<rect x="658" y="373" width="6.5" height="6.5" fill="#fff7f7"/>
<rect x="664" y="373" width="6.5" height="6.5" fill="#ffe9e9"/>
<rect x="670" y="373" width="6.5" height="6.5" fill="#ffdddd"/>
<rect x="676" y="373" width="6.5" height="6.5" fill="#ffd2d2"/>
<rect x="682" y="373" width="6.5" height="6.5" fill="#ffc9c9"/>
<rect x="688" y="373" width="6.5" height="6.5" fill="#ffc2c2"/>
<rect x="694" y="373" width="6.5" height="6.5" fill="#ffbaba"/>
<rect x="700" y="373" width="6.5" height="6.5" fill="#ffb5b5"/>
<rect x="706" y="373" width="6.5" height="6.5" fill="#ffb2b2"/>
<rect x="712" y="373" width="6.5" height="6.5" fill="#ffb3b3"/>
<rect x="718" y="373" width="6.5" height="6.5" fill="#ffb5b5"/>
<rect x="724" y="373" width="6.5" height="6.5" fill="#ffb8b8"/>
<rect x="730" y="373" width="6.5" height="6.5" fill="#ffbaba"/>
<rect x="736" y="373" width="6.5" height="6.5" fill="#ffb8b8"/>
<rect x="742" y="373" width="6.5" height="6.5" fill="#ffb0b0"/>
<rect x="748" y="373" width="6.5" height="6.5" fill="#ffa6a6"/>
<rect x="754" y="373" width="6.5" height="6.5" fill="#ff9e9e"/>
<rect x="760" y="373" width="12.5" height="6.5" fill="#ff9c9c"/>
<rect x="772" y="373" width="6.5" height="6.5" fill="#ff9d9d"/>
<rect x="778" y="373" width="6.5" height="6.5" fill="#ffa0a0"/>
<rect x="784" y="373" width="18.5" height="6.5" fill="#ffa4a4"/>
<rect x="646" y="379" width="12.5" height="6.5" fill="#ffffff"/>
<rect x="658" y="379" width="6.5" height="6.5" fill="#fff9f9"/>
<rect x="664" y="379" width="6.5" height="6.5" fill="#ffeeee"/>
<rect x="670" y="379" width="6.5" height="6.5" fill="#ffe4e4"/>
<rect x="676" y="379" width="6.5" height="6.5" fill="#ffdbdb"/>
<rect x="682" y="379" width="6.5" height="6.5" fill="#ffd4d4"/>
<rect x="688" y="379" width="6.5" height="6.5" fill="#ffcdcd"/>
<rect x="694" y="379" width="6.5" height="6.5" fill="#ffc6c6"/>
<rect x="700" y="379" width="6.5" height="6.5" fill="#ffc1c1"/>
<rect x="706" y="379" width="6.5" height="6.5" fill="#ffbebe"/>
<rect x="712" y="379" width="6.5" height="6.5" fill="#ffbfbf"/>
<rect x="718" y="379" width="6.5" height="6.5" fill="#ffc0c0"/>
<rect x="724" y="379" width="6.5" height="6.5" fill="#ffc2c2"/>
<rect x="730" y="379" width="6.5" height="6.5" fill="#ffc3c3"/>
<rect x="736" y="379" width="6.5" height="6.5" fill="#ffc2c2"/>
<rect x="742" y="379" width="6.5" height="6.5" fill="#ffbbbb"/>
<rect x="748" y="379" width="6.5" height="6.5" fill="#ffb1b1"/>
<rect x="754" y="379" width="6.5" height="6.5" fill="#ffaaaa"/>
<rect x="760" y="379" width="6.5" height="6.5" fill="#ffa8a8"/>
<rect x="766" y="379" width="6.5" height="6.5" fill="#ffa9a9"/>
<rect x="772" y="379" width="6.5" height="6.5" fill="#ffaaaa"/>
<rect x="778" y="379" width="6.5" height="6.5" fill="#ffacac"/>
<rect x="784" y="379" width="18.5" height="6.5" fill="#ffb1b1"/>
<rect x="646" y="385" width="12.5" height="6.5" fill="#ffffff"/>
<rect x="658" y="385" width="6.5" height="6.5" fill="#fffbfb"/>
<rect x="664" y="385" width="6.5" height="6.5" fill="#fff2f2"/>
<rect x="670" y="385" width="6.5" height="6.5" fill="#ffebeb"/>
<rect x="676" y="385" width="6.5" height="6.5" fill="#ffe4e4"/>
<rect x="682" y="385" width="6.5" height="6.5" fill="#ffdddd"/>
<rect x="688" y="385" width="6.5" height="6.5" fill="#ffd7d7"/>
<rect x="694" y="385" width="6.5" height="6.5" fill="#ffd1d1"/>
<rect x="700" y="385" width="6.5" height="6.5" fill="#ffcccc"/>
<rect x="706" y="385" width="12.5" height="6.5" fill="#ffc9c9"/>
<rect x="718" y="385" width="6.5" height="6.5" fill="#ffcaca"/>
<rect x="724" y="385" width="12.5" height="6.5" fill="#ffcbcb"/>
<rect x="736" y="385" width="6.5" height="6.5" fill="#ffcaca"/>
<rect x="742" y="385" width="6.5" height="6.5" fill="#ffc4c4"/>
<rect x="748" y="385" width="6.5" height="6.5" fill="#ffbcbc"/>
<rect x="754" y="385" width="6.5" height="6.5" fill="#ffb6b6"/>
<rect x="760" y="385" width="12.5" height="6.5" fill="#ffb5b5"/>
<rect x="772" y="385" width="6.5" height="6.5" fill="#ffb6b6"/>
<rect x="778" y="385" width="6.5" height="6.5" fill="#ffb9b9"/>
<rect x="784" y="385" width="18.5" height="6.5" fill="#ffbdbd"/>
<rect x="646" y="391" width="12.5" height="6.5" fill="#ffffff"/>
<rect x="658" y="391" width="6.5" height="6.5" fill="#fffcfc"/>
<rect x="664" y="391" width="6.5" height="6.5" fill="#fff6f6"/>
<rect x="670" y="391" width="6.5" height="6.5" fill="#fff0f0"/>
<rect x="676" y="391" width="6.5" height="6.5" fill="#ffeaea"/>
<rect x="682" y="391" width="6.5" height="6.5" fill="#ffe5e5"/>
<rect x="688" y="391" width="6.5" height="6.5" fill="#ffdfdf"/>
<rect x="694" y="391" width="6.5" height="6.5" fill="#ffdada"/>
<rect x="700" y="391" width="6.5" height="6.5" fill="#ffd5d5"/>
<rect x="706" y="391" width="30.5" height="6.5" fill="#ffd3d3"/>
<rect x="736" y="391" width="6.5" height="6.5" fill="#ffd2d2"/>
<rect x="742" y="391" width="6.5" height="6.5" fill="#ffcdcd"/>
<rect x="748" y="391" width="6.5" height="6.5" fill="#ffc7c7"/>
<rect x="754" y="391" width="6.5" height="6.5" fill="#ffc1c1"/>
<rect x="760" y="391" width="6.5" height="6.5" fill="#ffc0c0"/>
<rect x="766" y="391" width="6.5" height="6.5" fill="#ffc1c1"/>
<rect x="772" y="391" width="6.5" height="6.5" fill="#ffc2c2"/>
<rect x="778" y="391" width="6.5" height="6.5" fill="#ffc4c4"/>
<rect x="784" y="391" width="18.5" height="6.5" fill="#ffc8c8"/>
<rect x="646" y="397" width="12.5" height="6.5" fill="#ffffff"/>
<rect x="658" y="397" width="6.5" height="6.5" fill="#fffdfd"/>
<rect x="664" y="397" width="6.5" height="6.5" fill="#fff8f8"/>
<rect x="670" y="397" width="6.5" height="6.5" fill="#fff3f3"/>
<rect x="676" y="397" width="6.5" height="6.5" fill="#ffefef"/>
<rect x="682" y="397" width="6.5" height="6.5" fill="#ffebeb"/>
<rect x="688" y="397" width="6.5" height="6.5" fill="#ffe6e6"/>
<rect x="694" y="397" width="6.5" height="6.5" fill="#ffe1e1"/>
<rect x="700" y="397" width="6.5" height="6.5" fill="#ffdddd"/>
<rect x="706" y="397" width="30.5" height="6.5" fill="#ffdbdb"/>
<rect x="736" y="397" width="6.5" height="6.5" fill="#ffdada"/>
<rect x="742" y="397" width="6.5" height="6.5" fill="#ffd6d6"/>
<rect x="748" y="397" width="6.5" height="6.5" fill="#ffd0d0"/>
<rect x="754" y="397" width="6.5" height="6.5" fill="#ffcccc"/>
<rect x="760" y="397" width="12.5" height="6.5" fill="#ffcbcb"/>
<rect x="772" y="397" width="6.5" height="6.5" fill="#ffcccc"/>
<rect x="778" y="397" width="6.5" height="6.5" fill="#ffcece"/>
<rect x="784" y="397" width="18.5" height="6.5" fill="#ffd1d1"/>
<rect x="646" y="403" width="12.5" height="6.5" fill="#ffffff"/>
<rect x="658" y="403" width="6.5" height="6.5" fill="#fffdfd"/>
<rect x="664" y="403" width="6.5" height="6.5" fill="#fffafa"/>
<rect x="670" y="403" width="6.5" height="6.5" fill="#fff6f6"/>
<rect x="676" y="403" width="6.5" height="6.5" fill="#fff3f3"/>
<rect x="682" y="403" width="6.5" height="6.5" fill="#fff0f0"/>
<rect x="688" y="403" width="6.5" height="6.5" fill="#ffecec"/>
<rect x="694" y="403" width="6.5" height="6.5" fill="#ffe8e8"/>
<rect x="700" y="403" width="6.5" height="6.5" fill="#ffe4e4"/>
<rect x="706" y="403" width="6.5" height="6.5" fill="#ffe3e3"/>
<rect x="712" y="403" width="24.5" height="6.5" fill="#ffe2e2"/>
<rect x="736" y="403" width="6.5" height="6.5" fill="#ffe1e1"/>
<rect x="742" y="403" width="6.5" height="6.5" fill="#ffdddd"/>
<rect x="748" y="403" width="6.5" height="6.5" fill="#ffd9d9"/>
<rect x="754" y="403" width="6.5" height="6.5" fill="#ffd5d5"/>
<rect x="760" y="403" width="6.5" height="6.5" fill="#ffd4d4"/>
<rect x="766" y="403" width="6.5" height="6.5" fill="#ffd5d5"/>
<rect x="772" y="403" width="6.5" height="6.5" fill="#ffd6d6"/>
<rect x="778" y="403" width="6.5" height="6.5" fill="#ffd7d7"/>
<rect x="784" y="403" width="18.5" height="6.5" fill="#ffdada"/>
<rect x="646" y="409" width="12.5" height="6.5" fill="#ffffff"/>
<rect x="658" y="409" width="6.5" height="6.5" fill="#fffefe"/>
<rect x="664" y="409" width="6.5" height="6.5" fill="#fffbfb"/>
<rect x="670" y="409" width="6.5" height="6.5" fill="#fff9f9"/>
<rect x="676" y="409" width="6.5" height="6.5" fill="#fff7f7"/>
<rect x="682" y="409" width="6.5" height="6.5" fill="#fff4f4"/>
<rect x="688" y="409" width="6.5" height="6.5" fill="#fff1f1"/>
<rect x="694" y="409" width="6.5" height="6.5" fill="#ffeded"/>
<rect x="700" y="409" width="6.5" height="6.5" fill="#ffebeb"/>
<rect x="706" y="409" width="24.5" height="6.5" fill="#ffe9e9"/>
<rect x="730" y="409" width="12.5" height="6.5" fill="#ffe8e8"/>
<rect x="742" y="409" width="6.5" height="6.5" fill="#ffe5e5"/>
<rect x="748" y="409" width="6.5" height="6.5" fill="#ffe1e1"/>
<rect x="754" y="409" width="18.5" height="6.5" fill="#ffdede"/>
<rect x="772" y="409" width="6.5" height="6.5" fill="#ffdfdf"/>
<rect x="778" y="409" width="6.5" height="6.5" fill="#ffe0e0"/>
<rect x="784" y="409" width="18.5" height="6.5" fill="#ffe2e2"/>
<rect x="646" y="415" width="12.5" height="6.5" fill="#ffffff"/>
<rect x="658" y="415" width="6.5" height="6.5" fill="#fffefe"/>
<rect x="664" y="415" width="6.5" height="6.5" fill="#fffdfd"/>
<rect x="670" y="415" width="6.5" height="6.5" fill="#fffbfb"/>
<rect x="676" y="415" width="6.5" height="6.5" fill="#fff9f9"/>
<rect x="682" y="415" width="6.5" height="6.5" fill="#fff7f7"/>
<rect x="688" y="415" width="6.5" height="6.5" fill="#fff5f5"/>
<rect x="694" y="415" width="6.5" height="6.5" fill="#fff2f2"/>
<rect x="700" y="415" width="6.5" height="6.5" fill="#fff0f0"/>
<rect x="706" y="415" width="24.5" height="6.5" fill="#ffefef"/>
<rect x="730" y="415" width="12.5" height="6.5" fill="#ffeeee"/>
<rect x="742" y="415" width="6.5" height="6.5" fill="#ffecec"/>
<rect x="748" y="415" width="6.5" height="6.5" fill="#ffe9e9"/>
<rect x="754" y="415" width="6.5" height="6.5" fill="#ffe7e7"/>
<rect x="760" y="415" width="12.5" height="6.5" fill="#ffe6e6"/>
<rect x="772" y="415" width="6.5" height="6.5" fill="#ffe7e7"/>
<rect x="778" y="415" width="6.5" height="6.5" fill="#ffe8e8"/>
<rect x="784" y="415" width="18.5" height="6.5" fill="#ffe9e9"/>
<rect x="646" y="421" width="12.5" height="6.5" fill="#ffffff"/>
<rect x="658" y="421" width="6.5" height="6.5" fill="#fffefe"/>
<rect x="664" y="421" width="6.5" height="6.5" fill="#fffdfd"/>
<rect x="670" y="421" width="6.5" height="6.5" fill="#fffcfc"/>
<rect x="676" y="421" width="6.5" height="6.5" fill="#fffbfb"/>
<rect x="682" y="421" width="6.5" height="6.5" fill="#fffafa"/>
<rect x="688" y="421" width="6.5" height="6.5" fill="#fff8f8"/>
<rect x="694" y="421" width="6.5" height="6.5" fill="#fff6f6"/>
<rect x="700" y="421" width="6.5" height="6.5" fill="#fff5f5"/>
<rect x="706" y="421" width="30.5" height="6.5" fill="#fff4f4"/>
<rect x="736" y="421" width="6.5" height="6.5" fill="#fff3f3"/>
<rect x="742" y="421" width="6.5" height="6.5" fill="#fff2f2"/>
<rect x="748" y="421" width="6.5" height="6.5" fill="#fff0f0"/>
<rect x="754" y="421" width="6.5" height="6.5" fill="#ffefef"/>
<rect x="760" y="421" width="24.5" height="6.5" fill="#ffeeee"/>
<rect x="784" y="421" width="18.5" height="6.5" fill="#ffefef"/>
<rect x="646" y="427" width="12.5" height="6.5" fill="#ffffff"/>
<rect x="658" y="427" width="6.5" height="6.5" fill="#fffefe"/>
<rect x="664" y="427" width="6.5" height="6.5" fill="#fffdfd"/>
<rect x="670" y="427" width="6.5" height="6.5" fill="#fffcfc"/>
<rect x="676" y="427" width="6.5" height="6.5" fill="#fffbfb"/>
<rect x="682" y="427" width="6.5" height="6.5" fill="#fffafa"/>
<rect x="688" y="427" width="6.5" height="6.5" fill="#fff8f8"/>
<rect x="694" y="427" width="6.5" height="6.5" fill="#fff7f7"/>
<rect x="700" y="427" width="42.5" height="6.5" fill="#fff5f5"/>
<rect x="742" y="427" width="6.5" height="6.5" fill="#fff3f3"/>
<rect x="748" y="427" width="6.5" height="6.5" fill="#fff1f1"/>
<rect x="754" y="427" width="48.5" height="6.5" fill="#fff0f0"/>
<rect x="646" y="433" width="12.5" height="6.5" fill="#ffffff"/>
<rect x="658" y="433" width="6.5" height="6.5" fill="#fffefe"/>
<rect x="664" y="433" width="6.5" height="6.5" fill="#fffdfd"/>
<rect x="670" y="433" width="6.5" height="6.5" fill="#fffcfc"/>
<rect x="676" y="433" width="6.5" height="6.5" fill="#fffbfb"/>
<rect x="682" y="433" width="6.5" height="6.5" fill="#fffafa"/>
<rect x="688" y="433" width="6.5" height="6.5" fill="#fff8f8"/>
<rect x="694" y="433" width="6.5" height="6.5" fill="#fff7f7"/>
<rect x="700" y="433" width="42.5" height="6.5" fill="#fff5f5"/>
<rect x="742" y="433" width="6.5" height="6.5" fill="#fff3f3"/>
<rect x="748" y="433" width="6.5" height="6.5" fill="#fff1f1"/>
<rect x="754" y="433" width="48.5" height="6.5" fill="#fff0f0"/>
</g>
<path d="M788.0 415.1 783.5 415.8 779.2 416.6 776.0 417.0 771.5 417.3 767.0 417.5 762.5 417.6 758.0 417.4 754.1 416.6 750.5 415.4 747.5 414.1 744.5 412.6 741.5 411.2 738.5 410.1 734.0 409.6 729.5 409.4 725.0 409.2 722.0 409.1 717.5 408.9 713.0 408.7 708.5 408.7 704.0 407.8 701.0 406.7 698.0 405.1 695.0 403.2 692.8 401.6 690.5 399.8 687.5 397.2 685.7 395.6 683.0 393.4 680.2 391.1 678.5 389.6 675.5 386.7 674.0 385.1 671.7 382.1 669.8 379.1 668.2 376.1 667.0 373.1 666.0 370.1 665.0 366.6 664.0 362.6 663.4 359.6 662.5 355.1 662.0 351.4 661.6 347.6 661.2 343.1 660.9 338.6 660.6 334.1 660.5 330.5 660.4 326.6 660.2 322.1 660.1 317.6 660.0 313.1 659.9 308.6 659.7 304.1 659.5 299.6 659.4 295.1 659.1 290.6 659.0 287.6 658.8 283.1 658.6 278.6" fill="none" stroke="#fff" stroke-opacity="0.4" stroke-width="0.6"/>
<path d="M788.0 396.5 785.0 397.1 781.1 398.6 777.5 399.6 774.5 400.1 770.0 400.7 765.5 400.9 761.0 401.0 756.5 400.4 753.5 399.2 750.5 397.5 747.6 395.6 745.6 394.1 743.0 392.2 740.0 390.2 737.0 388.9 732.5 388.6 728.0 388.8 723.5 389.1 719.0 389.4 716.0 389.6 711.5 389.8 707.2 389.6 704.0 388.9 701.0 387.8 698.0 386.3 695.0 384.6 692.0 382.6 689.0 380.6 686.8 379.1 684.5 377.5 681.5 375.3 679.0 373.1 677.0 370.9 675.2 368.6 673.3 365.6 671.5 362.6 670.0 359.6 668.6 356.6 667.5 353.6 666.5 350.2 665.5 346.1 665.0 343.1 664.4 338.6 663.9 334.1 663.5 329.6 663.3 326.6 663.0 322.1 662.7 317.6 662.5 313.1 662.3 308.6 662.1 304.1 661.9 301.1 661.7 296.6 661.5 292.1 661.2 287.6 661.0 283.1 660.9 278.6" fill="none" stroke="#fff" stroke-opacity="0.4" stroke-width="0.6"/>
<path d="M788.0 382.9 784.5 383.6 780.5 385.0 777.5 385.7 773.0 386.4 770.0 386.7 765.5 387.0 761.0 387.0 757.6 386.6 754.1 385.1 751.7 383.6 749.0 381.5 746.4 379.1 744.5 377.4 741.5 374.7 739.1 373.1 735.5 371.8 731.0 372.1 726.5 373.0 723.5 373.8 720.5 374.6 716.0 375.6 712.0 376.1 708.5 376.2 705.5 375.8 701.6 374.6 698.2 373.1 695.4 371.6 692.9 370.1 690.5 368.5 687.5 366.4 684.5 364.4 681.9 362.6 680.0 361.1 677.0 358.1 675.5 356.3 673.7 353.6 672.0 350.6 670.7 347.6 669.5 344.1 668.5 340.1 667.9 337.1 667.1 332.6 666.5 328.1 666.2 325.1 665.7 320.6 665.4 316.1 665.0 311.6 664.8 308.6 664.5 304.1 664.2 299.6 664.0 295.1 663.7 290.6 663.5 286.4 663.3 283.1 663.2 278.6" fill="none" stroke="#fff" stroke-opacity="0.4" stroke-width="0.6"/>
<path d="M788.0 371.1 785.0 371.6 780.5 373.0 777.5 373.7 773.0 374.4 770.0 374.7 765.5 374.8 761.0 374.9 758.0 374.5 755.0 373.1 752.0 370.8 749.6 368.6 747.5 366.6 744.8 364.1 743.0 362.6 740.0 360.7 737.0 359.5 732.5 359.4 729.5 359.8 725.0 360.7 722.0 361.5 717.6 362.6 714.5 363.3 710.0 363.8 705.5 363.4 702.4 362.6 698.3 361.1 695.0 359.6 692.0 358.1 689.0 356.6 686.2 355.1 683.4 353.6 681.1 352.1 678.5 349.7 676.8 347.6 675.0 344.6 673.6 341.6 672.5 338.6 671.3 334.1 670.6 331.1 669.7 326.6 669.2 323.6 668.6 319.1 668.1 314.6 667.8 311.6 667.4 307.1 667.0 302.6 666.7 298.1 666.5 295.1 666.2 290.6 665.9 286.1 665.7 281.6 665.6 277.1" fill="none" stroke="#fff" stroke-opacity="0.4" stroke-width="0.6"/>
<path d="M788.0 358.8 784.0 359.6 780.5 360.7 777.5 361.3 773.0 362.0 768.5 362.3 764.0 362.4 759.5 362.4 755.9 361.1 753.4 359.6 750.5 357.5 747.5 355.2 745.3 353.6 743.0 352.1 740.0 350.6 735.5 349.5 731.0 349.6 726.5 350.2 723.5 350.7 719.0 351.6 715.9 352.1 711.5 352.6 707.0 352.6 703.9 352.1 699.5 351.0 696.5 349.9 693.5 348.8 690.5 347.4 687.5 346.0 684.5 344.5 681.5 342.6 679.3 340.1 677.5 337.1 676.1 334.1 675.0 331.1 674.0 328.1 672.8 323.6 672.2 320.6 671.4 316.1 671.0 313.1 670.4 308.6 669.9 304.1 669.5 299.6 669.3 296.6 668.9 292.1 668.6 287.6 668.3 283.1 668.2 278.6" fill="none" stroke="#fff" stroke-opacity="0.4" stroke-width="0.6"/>
<path d="M788.0 346.4 783.5 347.4 780.5 348.3 776.6 349.1 773.0 349.6 768.5 350.0 764.0 350.2 759.5 350.2 755.7 349.1 753.0 347.6 750.5 346.0 747.5 343.9 744.5 341.9 741.5 340.3 738.5 339.1 735.5 338.5 732.0 338.6 728.0 339.0 723.5 339.6 720.3 340.1 716.0 340.7 711.5 341.1 707.0 341.0 702.5 340.4 699.5 339.6 696.5 338.6 693.0 337.1 689.8 335.6 686.9 334.1 684.2 332.6 681.5 330.5 679.8 328.1 678.2 325.1 677.0 322.1 675.6 317.6 674.9 314.6 674.1 310.1 673.6 307.1 673.0 302.6 672.5 298.5 672.2 295.1 671.7 290.6 671.4 286.1 671.1 281.6 671.0 278.6" fill="none" stroke="#fff" stroke-opacity="0.4" stroke-width="0.6"/>
<path d="M788.0 332.9 783.5 333.4 779.0 334.1 776.0 334.4 771.5 334.6 767.0 334.7 762.5 334.6 758.3 334.1 755.0 332.6 752.8 331.1 750.5 329.5 747.5 327.4 744.5 325.7 741.5 324.4 738.5 323.6 734.0 323.2 730.1 323.6 726.5 324.2 722.4 325.1 719.0 325.8 714.9 326.6 711.5 327.0 707.0 327.1 703.1 326.6 699.5 325.8 696.5 324.8 693.3 323.6 690.1 322.1 687.2 320.6 684.5 319.1 681.5 316.4 680.0 313.5 678.8 310.1 678.1 307.1 677.1 302.6 676.5 299.6 675.8 295.1 675.4 292.1 674.9 287.6 674.5 283.1 674.3 278.6" fill="none" stroke="#fff" stroke-opacity="0.4" stroke-width="0.6"/>
<path d="M788.0 317.9 785.0 317.6 780.5 316.3 777.5 315.3 774.5 314.2 771.4 313.1 767.2 311.6 764.0 310.6 761.0 309.7 756.5 308.6 753.5 308.0 749.0 307.2 746.0 306.8 741.5 306.4 737.0 306.3 732.5 306.3 728.0 306.7 725.0 307.2 720.5 308.1 717.5 308.6 713.0 309.4 708.5 309.6 704.0 309.0 701.0 308.2 698.0 307.1 694.8 305.6 692.0 304.0 689.0 302.1 686.0 299.8 684.0 298.1 682.0 295.1 681.0 292.1 680.0 288.4 679.4 284.6 678.8 280.1" fill="none" stroke="#fff" stroke-opacity="0.4" stroke-width="0.6"/>
<path d="M788.0 300.6 784.5 299.6 781.8 298.1 779.0 296.5 776.0 294.8 773.0 293.3 770.0 292.0 766.1 290.6 762.5 289.7 758.0 289.2 755.0 289.0 750.5 288.9 746.0 289.0 741.5 289.0 737.0 289.1 732.5 289.0 728.0 288.7 723.5 287.8 720.5 287.0 717.5 285.8 714.5 284.3 711.5 282.1 709.4 280.1" fill="none" stroke="#fff" stroke-opacity="0.4" stroke-width="0.6"/>
<line x1="657.50" y1="277.10" x2="657.50" y2="425.80" stroke="#aaa" stroke-width="0.5" stroke-opacity="0.22"/>
<line x1="683.60" y1="277.10" x2="683.60" y2="425.80" stroke="#aaa" stroke-width="0.5" stroke-opacity="0.22"/>
<line x1="709.40" y1="277.10" x2="709.40" y2="425.80" stroke="#aaa" stroke-width="0.5" stroke-opacity="0.22"/>
<line x1="734.90" y1="277.10" x2="734.90" y2="425.80" stroke="#aaa" stroke-width="0.5" stroke-opacity="0.22"/>
<line x1="760.50" y1="277.10" x2="760.50" y2="425.80" stroke="#aaa" stroke-width="0.5" stroke-opacity="0.22"/>
<line x1="786.20" y1="277.10" x2="786.20" y2="425.80" stroke="#aaa" stroke-width="0.5" stroke-opacity="0.22"/>
<line x1="657.50" y1="280.30" x2="789.00" y2="280.30" stroke="#aaa" stroke-width="0.5" stroke-opacity="0.22"/>
<line x1="657.50" y1="309.60" x2="789.00" y2="309.60" stroke="#aaa" stroke-width="0.5" stroke-opacity="0.22"/>
<line x1="657.50" y1="338.50" x2="789.00" y2="338.50" stroke="#aaa" stroke-width="0.5" stroke-opacity="0.22"/>
<line x1="657.50" y1="367.40" x2="789.00" y2="367.40" stroke="#aaa" stroke-width="0.5" stroke-opacity="0.22"/>
<line x1="657.50" y1="396.50" x2="789.00" y2="396.50" stroke="#aaa" stroke-width="0.5" stroke-opacity="0.22"/>
<line x1="657.50" y1="425.30" x2="789.00" y2="425.30" stroke="#aaa" stroke-width="0.5" stroke-opacity="0.22"/>
</g>
<rect x="683.6" y="280.3" width="51.299999999999955" height="58.19999999999999" fill="#606060" fill-opacity="0.1" stroke="#eadada" stroke-width="0.8"/>
<text x="666.6" y="259.0" font-size="9.75" fill="#111">HSA synergy score: 23.74</text>
<defs><linearGradient id="cb2" x1="0" x2="1"><stop offset="0" stop-color="#0c0"/><stop offset="0.5" stop-color="#fff"/><stop offset="1" stop-color="#f00"/></linearGradient></defs>
<rect x="675.50" y="268.30" width="92.80" height="2.00" fill="url(#cb2)"/>
<text x="677.0" y="268.4" font-size="6.0" text-anchor="middle" fill="#222">−50</text>
<text x="700.0" y="268.4" font-size="6.0" text-anchor="middle" fill="#222">−25</text>
<text x="722.2" y="268.4" font-size="6.0" text-anchor="middle" fill="#222">0</text>
<text x="746.0" y="268.4" font-size="6.0" text-anchor="middle" fill="#222">25</text>
<text x="769.0" y="268.4" font-size="6.0" text-anchor="middle" fill="#222">50</text>
<text x="655.5" y="282.3" font-size="5.6" text-anchor="end" fill="#444">400</text>
<line x1="655.90" y1="280.30" x2="657.50" y2="280.30" stroke="#888" stroke-width="0.4"/>
<text x="655.5" y="311.6" font-size="5.6" text-anchor="end" fill="#444">200</text>
<line x1="655.90" y1="309.60" x2="657.50" y2="309.60" stroke="#888" stroke-width="0.4"/>
<text x="655.5" y="340.5" font-size="5.6" text-anchor="end" fill="#444">100</text>
<line x1="655.90" y1="338.50" x2="657.50" y2="338.50" stroke="#888" stroke-width="0.4"/>
<text x="655.5" y="369.4" font-size="5.6" text-anchor="end" fill="#444">50</text>
<line x1="655.90" y1="367.40" x2="657.50" y2="367.40" stroke="#888" stroke-width="0.4"/>
<text x="655.5" y="398.5" font-size="5.6" text-anchor="end" fill="#444">25</text>
<line x1="655.90" y1="396.50" x2="657.50" y2="396.50" stroke="#888" stroke-width="0.4"/>
<text x="655.5" y="427.3" font-size="5.6" text-anchor="end" fill="#444">0</text>
<line x1="655.90" y1="425.30" x2="657.50" y2="425.30" stroke="#888" stroke-width="0.4"/>
<text x="657.5" y="435.0" font-size="5.6" text-anchor="middle" fill="#444">0</text>
<text x="683.6" y="435.0" font-size="5.6" text-anchor="middle" fill="#444">62.5</text>
<text x="709.4" y="435.0" font-size="5.6" text-anchor="middle" fill="#444">125</text>
<text x="734.9" y="435.0" font-size="5.6" text-anchor="middle" fill="#444">250</text>
<text x="760.5" y="435.0" font-size="5.6" text-anchor="middle" fill="#444">500</text>
<text x="786.2" y="435.0" font-size="5.6" text-anchor="middle" fill="#444">1000</text>
<text x="721.5" y="441.5" font-size="7.4" text-anchor="middle" fill="#111">Selinexor (nM)</text>
<text x="643.5" y="352.0" font-size="7.8" text-anchor="middle" fill="#111" transform="rotate(-90 643.5 352.0)">JQ1 (nM)</text>
<defs><clipPath id="c3"><rect x="659.3" y="531.0" width="133.5" height="152.60000000000002"/></clipPath><filter id="f3" x="-10%" y="-10%" width="120%" height="120%"><feGaussianBlur stdDeviation="3.2"/></filter></defs>
<g clip-path="url(#c3)"><g filter="url(#f3)">
<rect x="647" y="519" width="12.5" height="6.5" fill="#fff2f2"/>
<rect x="659" y="519" width="6.5" height="6.5" fill="#ffdfdf"/>
<rect x="665" y="519" width="6.5" height="6.5" fill="#ffa7a7"/>
<rect x="671" y="519" width="6.5" height="6.5" fill="#ff7979"/>
<rect x="677" y="519" width="6.5" height="6.5" fill="#ff5959"/>
<rect x="683" y="519" width="6.5" height="6.5" fill="#ff4d4d"/>
<rect x="689" y="519" width="6.5" height="6.5" fill="#ff4e4e"/>
<rect x="695" y="519" width="6.5" height="6.5" fill="#ff5151"/>
<rect x="701" y="519" width="6.5" height="6.5" fill="#ff5555"/>
<rect x="707" y="519" width="6.5" height="6.5" fill="#ff5858"/>
<rect x="713" y="519" width="6.5" height="6.5" fill="#ff5b5b"/>
<rect x="719" y="519" width="6.5" height="6.5" fill="#ff5d5d"/>
<rect x="725" y="519" width="6.5" height="6.5" fill="#ff5f5f"/>
<rect x="731" y="519" width="36.5" height="6.5" fill="#ff6161"/>
<rect x="767" y="519" width="6.5" height="6.5" fill="#ff6060"/>
<rect x="773" y="519" width="6.5" height="6.5" fill="#ff5f5f"/>
<rect x="779" y="519" width="6.5" height="6.5" fill="#ff5d5d"/>
<rect x="785" y="519" width="6.5" height="6.5" fill="#ff5a5a"/>
<rect x="791" y="519" width="18.5" height="6.5" fill="#ff5959"/>
<rect x="647" y="525" width="12.5" height="6.5" fill="#fff2f2"/>
<rect x="659" y="525" width="6.5" height="6.5" fill="#ffdfdf"/>
<rect x="665" y="525" width="6.5" height="6.5" fill="#ffa7a7"/>
<rect x="671" y="525" width="6.5" height="6.5" fill="#ff7979"/>
<rect x="677" y="525" width="6.5" height="6.5" fill="#ff5959"/>
<rect x="683" y="525" width="6.5" height="6.5" fill="#ff4d4d"/>
<rect x="689" y="525" width="6.5" height="6.5" fill="#ff4e4e"/>
<rect x="695" y="525" width="6.5" height="6.5" fill="#ff5151"/>
<rect x="701" y="525" width="6.5" height="6.5" fill="#ff5555"/>
<rect x="707" y="525" width="6.5" height="6.5" fill="#ff5858"/>
<rect x="713" y="525" width="6.5" height="6.5" fill="#ff5b5b"/>
<rect x="719" y="525" width="6.5" height="6.5" fill="#ff5d5d"/>
<rect x="725" y="525" width="6.5" height="6.5" fill="#ff5f5f"/>
<rect x="731" y="525" width="36.5" height="6.5" fill="#ff6161"/>
<rect x="767" y="525" width="6.5" height="6.5" fill="#ff6060"/>
<rect x="773" y="525" width="6.5" height="6.5" fill="#ff5f5f"/>
<rect x="779" y="525" width="6.5" height="6.5" fill="#ff5d5d"/>
<rect x="785" y="525" width="6.5" height="6.5" fill="#ff5a5a"/>
<rect x="791" y="525" width="18.5" height="6.5" fill="#ff5959"/>
<rect x="647" y="531" width="12.5" height="6.5" fill="#fff2f2"/>
<rect x="659" y="531" width="6.5" height="6.5" fill="#ffdfdf"/>
<rect x="665" y="531" width="6.5" height="6.5" fill="#ffa7a7"/>
<rect x="671" y="531" width="6.5" height="6.5" fill="#ff7979"/>
<rect x="677" y="531" width="6.5" height="6.5" fill="#ff5959"/>
<rect x="683" y="531" width="6.5" height="6.5" fill="#ff4d4d"/>
<rect x="689" y="531" width="6.5" height="6.5" fill="#ff4e4e"/>
<rect x="695" y="531" width="6.5" height="6.5" fill="#ff5151"/>
<rect x="701" y="531" width="6.5" height="6.5" fill="#ff5555"/>
<rect x="707" y="531" width="6.5" height="6.5" fill="#ff5858"/>
<rect x="713" y="531" width="6.5" height="6.5" fill="#ff5b5b"/>
<rect x="719" y="531" width="6.5" height="6.5" fill="#ff5d5d"/>
<rect x="725" y="531" width="6.5" height="6.5" fill="#ff5f5f"/>
<rect x="731" y="531" width="36.5" height="6.5" fill="#ff6161"/>
<rect x="767" y="531" width="6.5" height="6.5" fill="#ff6060"/>
<rect x="773" y="531" width="6.5" height="6.5" fill="#ff5f5f"/>
<rect x="779" y="531" width="6.5" height="6.5" fill="#ff5d5d"/>
<rect x="785" y="531" width="6.5" height="6.5" fill="#ff5a5a"/>
<rect x="791" y="531" width="18.5" height="6.5" fill="#ff5959"/>
<rect x="647" y="537" width="12.5" height="6.5" fill="#fff6f6"/>
<rect x="659" y="537" width="6.5" height="6.5" fill="#ffe1e1"/>
<rect x="665" y="537" width="6.5" height="6.5" fill="#ffa6a6"/>
<rect x="671" y="537" width="6.5" height="6.5" fill="#ff7474"/>
<rect x="677" y="537" width="6.5" height="6.5" fill="#ff5252"/>
<rect x="683" y="537" width="6.5" height="6.5" fill="#ff4545"/>
<rect x="689" y="537" width="6.5" height="6.5" fill="#ff4646"/>
<rect x="695" y="537" width="6.5" height="6.5" fill="#ff4a4a"/>
<rect x="701" y="537" width="6.5" height="6.5" fill="#ff5050"/>
<rect x="707" y="537" width="6.5" height="6.5" fill="#ff5454"/>
<rect x="713" y="537" width="6.5" height="6.5" fill="#ff5858"/>
<rect x="719" y="537" width="6.5" height="6.5" fill="#ff5d5d"/>
<rect x="725" y="537" width="6.5" height="6.5" fill="#ff6060"/>
<rect x="731" y="537" width="18.5" height="6.5" fill="#ff6161"/>
<rect x="749" y="537" width="6.5" height="6.5" fill="#ff5c5c"/>
<rect x="755" y="537" width="6.5" height="6.5" fill="#ff5a5a"/>
<rect x="761" y="537" width="12.5" height="6.5" fill="#ff5959"/>
<rect x="773" y="537" width="6.5" height="6.5" fill="#ff5858"/>
<rect x="779" y="537" width="6.5" height="6.5" fill="#ff5959"/>
<rect x="785" y="537" width="24.5" height="6.5" fill="#ff5a5a"/>
<rect x="647" y="543" width="12.5" height="6.5" fill="#fff9f9"/>
<rect x="659" y="543" width="6.5" height="6.5" fill="#ffe3e3"/>
<rect x="665" y="543" width="6.5" height="6.5" fill="#ffa4a4"/>
<rect x="671" y="543" width="6.5" height="6.5" fill="#ff7070"/>
<rect x="677" y="543" width="6.5" height="6.5" fill="#ff4c4c"/>
<rect x="683" y="543" width="6.5" height="6.5" fill="#ff3e3e"/>
<rect x="689" y="543" width="6.5" height="6.5" fill="#ff4040"/>
<rect x="695" y="543" width="6.5" height="6.5" fill="#ff4545"/>
<rect x="701" y="543" width="6.5" height="6.5" fill="#ff4c4c"/>
<rect x="707" y="543" width="6.5" height="6.5" fill="#ff5252"/>
<rect x="713" y="543" width="6.5" height="6.5" fill="#ff5757"/>
<rect x="719" y="543" width="6.5" height="6.5" fill="#ff5d5d"/>
<rect x="725" y="543" width="6.5" height="6.5" fill="#ff6060"/>
<rect x="731" y="543" width="12.5" height="6.5" fill="#ff6262"/>
<rect x="743" y="543" width="6.5" height="6.5" fill="#ff6060"/>
<rect x="749" y="543" width="6.5" height="6.5" fill="#ff5a5a"/>
<rect x="755" y="543" width="6.5" height="6.5" fill="#ff5555"/>
<rect x="761" y="543" width="12.5" height="6.5" fill="#ff5353"/>
<rect x="773" y="543" width="6.5" height="6.5" fill="#ff5454"/>
<rect x="779" y="543" width="6.5" height="6.5" fill="#ff5656"/>
<rect x="785" y="543" width="24.5" height="6.5" fill="#ff5a5a"/>
<rect x="647" y="549" width="12.5" height="6.5" fill="#fffcfc"/>
<rect x="659" y="549" width="6.5" height="6.5" fill="#ffe5e5"/>
<rect x="665" y="549" width="6.5" height="6.5" fill="#ffa3a3"/>
<rect x="671" y="549" width="6.5" height="6.5" fill="#ff6c6c"/>
<rect x="677" y="549" width="6.5" height="6.5" fill="#ff4747"/>
<rect x="683" y="549" width="6.5" height="6.5" fill="#ff3838"/>
<rect x="689" y="549" width="6.5" height="6.5" fill="#ff3b3b"/>
<rect x="695" y="549" width="6.5" height="6.5" fill="#ff4141"/>
<rect x="701" y="549" width="6.5" height="6.5" fill="#ff4949"/>
<rect x="707" y="549" width="6.5" height="6.5" fill="#ff5050"/>
<rect x="713" y="549" width="6.5" height="6.5" fill="#ff5656"/>
<rect x="719" y="549" width="6.5" height="6.5" fill="#ff5d5d"/>
<rect x="725" y="549" width="6.5" height="6.5" fill="#ff6161"/>
<rect x="731" y="549" width="12.5" height="6.5" fill="#ff6363"/>
<rect x="743" y="549" width="6.5" height="6.5" fill="#ff6060"/>
<rect x="749" y="549" width="6.5" height="6.5" fill="#ff5858"/>
<rect x="755" y="549" width="6.5" height="6.5" fill="#ff5252"/>
<rect x="761" y="549" width="6.5" height="6.5" fill="#ff4f4f"/>
<rect x="767" y="549" width="6.5" height="6.5" fill="#ff5050"/>
<rect x="773" y="549" width="6.5" height="6.5" fill="#ff5252"/>
<rect x="779" y="549" width="6.5" height="6.5" fill="#ff5555"/>
<rect x="785" y="549" width="24.5" height="6.5" fill="#ff5b5b"/>
<rect x="647" y="555" width="12.5" height="6.5" fill="#fffefe"/>
<rect x="659" y="555" width="6.5" height="6.5" fill="#ffe6e6"/>
<rect x="665" y="555" width="6.5" height="6.5" fill="#ffa2a2"/>
<rect x="671" y="555" width="6.5" height="6.5" fill="#ff6a6a"/>
<rect x="677" y="555" width="6.5" height="6.5" fill="#ff4343"/>
<rect x="683" y="555" width="6.5" height="6.5" fill="#ff3535"/>
<rect x="689" y="555" width="6.5" height="6.5" fill="#ff3737"/>
<rect x="695" y="555" width="6.5" height="6.5" fill="#ff3f3f"/>
<rect x="701" y="555" width="6.5" height="6.5" fill="#ff4848"/>
<rect x="707" y="555" width="6.5" height="6.5" fill="#ff5050"/>
<rect x="713" y="555" width="6.5" height="6.5" fill="#ff5656"/>
<rect x="719" y="555" width="6.5" height="6.5" fill="#ff5d5d"/>
<rect x="725" y="555" width="6.5" height="6.5" fill="#ff6262"/>
<rect x="731" y="555" width="12.5" height="6.5" fill="#ff6565"/>
<rect x="743" y="555" width="6.5" height="6.5" fill="#ff6161"/>
<rect x="749" y="555" width="6.5" height="6.5" fill="#ff5858"/>
<rect x="755" y="555" width="6.5" height="6.5" fill="#ff5050"/>
<rect x="761" y="555" width="6.5" height="6.5" fill="#ff4d4d"/>
<rect x="767" y="555" width="6.5" height="6.5" fill="#ff4e4e"/>
<rect x="773" y="555" width="6.5" height="6.5" fill="#ff5050"/>
<rect x="779" y="555" width="6.5" height="6.5" fill="#ff5555"/>
<rect x="785" y="555" width="6.5" height="6.5" fill="#ff5b5b"/>
<rect x="791" y="555" width="18.5" height="6.5" fill="#ff5d5d"/>
<rect x="647" y="561" width="12.5" height="6.5" fill="#ffffff"/>
<rect x="659" y="561" width="6.5" height="6.5" fill="#ffe7e7"/>
<rect x="665" y="561" width="6.5" height="6.5" fill="#ffa2a2"/>
<rect x="671" y="561" width="6.5" height="6.5" fill="#ff6969"/>
<rect x="677" y="561" width="6.5" height="6.5" fill="#ff4242"/>
<rect x="683" y="561" width="6.5" height="6.5" fill="#ff3333"/>
<rect x="689" y="561" width="6.5" height="6.5" fill="#ff3636"/>
<rect x="695" y="561" width="6.5" height="6.5" fill="#ff3e3e"/>
<rect x="701" y="561" width="6.5" height="6.5" fill="#ff4747"/>
<rect x="707" y="561" width="6.5" height="6.5" fill="#ff5050"/>
<rect x="713" y="561" width="6.5" height="6.5" fill="#ff5757"/>
<rect x="719" y="561" width="6.5" height="6.5" fill="#ff5e5e"/>
<rect x="725" y="561" width="6.5" height="6.5" fill="#ff6464"/>
<rect x="731" y="561" width="12.5" height="6.5" fill="#ff6767"/>
<rect x="743" y="561" width="6.5" height="6.5" fill="#ff6161"/>
<rect x="749" y="561" width="6.5" height="6.5" fill="#ff5858"/>
<rect x="755" y="561" width="6.5" height="6.5" fill="#ff5050"/>
<rect x="761" y="561" width="12.5" height="6.5" fill="#ff4d4d"/>
<rect x="773" y="561" width="6.5" height="6.5" fill="#ff5050"/>
<rect x="779" y="561" width="6.5" height="6.5" fill="#ff5555"/>
<rect x="785" y="561" width="6.5" height="6.5" fill="#ff5b5b"/>
<rect x="791" y="561" width="18.5" height="6.5" fill="#ff5e5e"/>
<rect x="647" y="567" width="12.5" height="6.5" fill="#ffffff"/>
<rect x="659" y="567" width="6.5" height="6.5" fill="#ffe7e7"/>
<rect x="665" y="567" width="6.5" height="6.5" fill="#ffa2a2"/>
<rect x="671" y="567" width="6.5" height="6.5" fill="#ff6969"/>
<rect x="677" y="567" width="6.5" height="6.5" fill="#ff4242"/>
<rect x="683" y="567" width="6.5" height="6.5" fill="#ff3333"/>
<rect x="689" y="567" width="6.5" height="6.5" fill="#ff3636"/>
<rect x="695" y="567" width="6.5" height="6.5" fill="#ff3e3e"/>
<rect x="701" y="567" width="6.5" height="6.5" fill="#ff4848"/>
<rect x="707" y="567" width="6.5" height="6.5" fill="#ff5252"/>
<rect x="713" y="567" width="6.5" height="6.5" fill="#ff5959"/>
<rect x="719" y="567" width="6.5" height="6.5" fill="#ff6161"/>
<rect x="725" y="567" width="6.5" height="6.5" fill="#ff6767"/>
<rect x="731" y="567" width="6.5" height="6.5" fill="#ff6b6b"/>
<rect x="737" y="567" width="6.5" height="6.5" fill="#ff6a6a"/>
<rect x="743" y="567" width="6.5" height="6.5" fill="#ff6363"/>
<rect x="749" y="567" width="6.5" height="6.5" fill="#ff5a5a"/>
<rect x="755" y="567" width="6.5" height="6.5" fill="#ff5353"/>
<rect x="761" y="567" width="6.5" height="6.5" fill="#ff4f4f"/>
<rect x="767" y="567" width="6.5" height="6.5" fill="#ff5050"/>
<rect x="773" y="567" width="6.5" height="6.5" fill="#ff5252"/>
<rect x="779" y="567" width="6.5" height="6.5" fill="#ff5656"/>
<rect x="785" y="567" width="6.5" height="6.5" fill="#ff5d5d"/>
<rect x="791" y="567" width="18.5" height="6.5" fill="#ff6060"/>
<rect x="647" y="573" width="12.5" height="6.5" fill="#ffffff"/>
<rect x="659" y="573" width="6.5" height="6.5" fill="#ffe7e7"/>
<rect x="665" y="573" width="6.5" height="6.5" fill="#ffa2a2"/>
<rect x="671" y="573" width="6.5" height="6.5" fill="#ff6969"/>
<rect x="677" y="573" width="6.5" height="6.5" fill="#ff4343"/>
<rect x="683" y="573" width="6.5" height="6.5" fill="#ff3434"/>
<rect x="689" y="573" width="6.5" height="6.5" fill="#ff3737"/>
<rect x="695" y="573" width="6.5" height="6.5" fill="#ff4040"/>
<rect x="701" y="573" width="6.5" height="6.5" fill="#ff4c4c"/>
<rect x="707" y="573" width="6.5" height="6.5" fill="#ff5757"/>
<rect x="713" y="573" width="6.5" height="6.5" fill="#ff5f5f"/>
<rect x="719" y="573" width="6.5" height="6.5" fill="#ff6767"/>
<rect x="725" y="573" width="6.5" height="6.5" fill="#ff6e6e"/>
<rect x="731" y="573" width="6.5" height="6.5" fill="#ff7272"/>
<rect x="737" y="573" width="6.5" height="6.5" fill="#ff7171"/>
<rect x="743" y="573" width="6.5" height="6.5" fill="#ff6a6a"/>
<rect x="749" y="573" width="6.5" height="6.5" fill="#ff6161"/>
<rect x="755" y="573" width="6.5" height="6.5" fill="#ff5a5a"/>
<rect x="761" y="573" width="6.5" height="6.5" fill="#ff5757"/>
<rect x="767" y="573" width="6.5" height="6.5" fill="#ff5656"/>
<rect x="773" y="573" width="6.5" height="6.5" fill="#ff5858"/>
<rect x="779" y="573" width="6.5" height="6.5" fill="#ff5b5b"/>
<rect x="785" y="573" width="6.5" height="6.5" fill="#ff6060"/>
<rect x="791" y="573" width="18.5" height="6.5" fill="#ff6363"/>
<rect x="647" y="579" width="12.5" height="6.5" fill="#ffffff"/>
<rect x="659" y="579" width="6.5" height="6.5" fill="#ffe7e7"/>
<rect x="665" y="579" width="6.5" height="6.5" fill="#ffa2a2"/>
<rect x="671" y="579" width="6.5" height="6.5" fill="#ff6a6a"/>
<rect x="677" y="579" width="6.5" height="6.5" fill="#ff4343"/>
<rect x="683" y="579" width="6.5" height="6.5" fill="#ff3535"/>
<rect x="689" y="579" width="6.5" height="6.5" fill="#ff3939"/>
<rect x="695" y="579" width="6.5" height="6.5" fill="#ff4444"/>
<rect x="701" y="579" width="6.5" height="6.5" fill="#ff5151"/>
<rect x="707" y="579" width="6.5" height="6.5" fill="#ff5e5e"/>
<rect x="713" y="579" width="6.5" height="6.5" fill="#ff6767"/>
<rect x="719" y="579" width="6.5" height="6.5" fill="#ff7070"/>
<rect x="725" y="579" width="6.5" height="6.5" fill="#ff7777"/>
<rect x="731" y="579" width="6.5" height="6.5" fill="#ff7a7a"/>
<rect x="737" y="579" width="6.5" height="6.5" fill="#ff7979"/>
<rect x="743" y="579" width="6.5" height="6.5" fill="#ff7272"/>
<rect x="749" y="579" width="6.5" height="6.5" fill="#ff6b6b"/>
<rect x="755" y="579" width="6.5" height="6.5" fill="#ff6464"/>
<rect x="761" y="579" width="6.5" height="6.5" fill="#ff6161"/>
<rect x="767" y="579" width="12.5" height="6.5" fill="#ff6060"/>
<rect x="779" y="579" width="6.5" height="6.5" fill="#ff6161"/>
<rect x="785" y="579" width="6.5" height="6.5" fill="#ff6464"/>
<rect x="791" y="579" width="18.5" height="6.5" fill="#ff6666"/>
<rect x="647" y="585" width="12.5" height="6.5" fill="#ffffff"/>
<rect x="659" y="585" width="6.5" height="6.5" fill="#ffe7e7"/>
<rect x="665" y="585" width="6.5" height="6.5" fill="#ffa2a2"/>
<rect x="671" y="585" width="6.5" height="6.5" fill="#ff6b6b"/>
<rect x="677" y="585" width="6.5" height="6.5" fill="#ff4545"/>
<rect x="683" y="585" width="6.5" height="6.5" fill="#ff3636"/>
<rect x="689" y="585" width="6.5" height="6.5" fill="#ff3b3b"/>
<rect x="695" y="585" width="6.5" height="6.5" fill="#ff4848"/>
<rect x="701" y="585" width="6.5" height="6.5" fill="#ff5757"/>
<rect x="707" y="585" width="6.5" height="6.5" fill="#ff6666"/>
<rect x="713" y="585" width="6.5" height="6.5" fill="#ff7070"/>
<rect x="719" y="585" width="6.5" height="6.5" fill="#ff7a7a"/>
<rect x="725" y="585" width="6.5" height="6.5" fill="#ff8181"/>
<rect x="731" y="585" width="6.5" height="6.5" fill="#ff8383"/>
<rect x="737" y="585" width="6.5" height="6.5" fill="#ff8181"/>
<rect x="743" y="585" width="6.5" height="6.5" fill="#ff7b7b"/>
<rect x="749" y="585" width="6.5" height="6.5" fill="#ff7474"/>
<rect x="755" y="585" width="6.5" height="6.5" fill="#ff6e6e"/>
<rect x="761" y="585" width="6.5" height="6.5" fill="#ff6b6b"/>
<rect x="767" y="585" width="12.5" height="6.5" fill="#ff6969"/>
<rect x="779" y="585" width="6.5" height="6.5" fill="#ff6868"/>
<rect x="785" y="585" width="6.5" height="6.5" fill="#ff6969"/>
<rect x="791" y="585" width="18.5" height="6.5" fill="#ff6a6a"/>
<rect x="647" y="591" width="12.5" height="6.5" fill="#ffffff"/>
<rect x="659" y="591" width="6.5" height="6.5" fill="#ffe7e7"/>
<rect x="665" y="591" width="6.5" height="6.5" fill="#ffa3a3"/>
<rect x="671" y="591" width="6.5" height="6.5" fill="#ff6b6b"/>
<rect x="677" y="591" width="6.5" height="6.5" fill="#ff4646"/>
<rect x="683" y="591" width="6.5" height="6.5" fill="#ff3838"/>
<rect x="689" y="591" width="6.5" height="6.5" fill="#ff3e3e"/>
<rect x="695" y="591" width="6.5" height="6.5" fill="#ff4c4c"/>
<rect x="701" y="591" width="6.5" height="6.5" fill="#ff5e5e"/>
<rect x="707" y="591" width="6.5" height="6.5" fill="#ff6e6e"/>
<rect x="713" y="591" width="6.5" height="6.5" fill="#ff7979"/>
<rect x="719" y="591" width="6.5" height="6.5" fill="#ff8383"/>
<rect x="725" y="591" width="6.5" height="6.5" fill="#ff8a8a"/>
<rect x="731" y="591" width="6.5" height="6.5" fill="#ff8c8c"/>
<rect x="737" y="591" width="6.5" height="6.5" fill="#ff8989"/>
<rect x="743" y="591" width="6.5" height="6.5" fill="#ff8282"/>
<rect x="749" y="591" width="6.5" height="6.5" fill="#ff7c7c"/>
<rect x="755" y="591" width="6.5" height="6.5" fill="#ff7777"/>
<rect x="761" y="591" width="6.5" height="6.5" fill="#ff7373"/>
<rect x="767" y="591" width="6.5" height="6.5" fill="#ff7171"/>
<rect x="773" y="591" width="6.5" height="6.5" fill="#ff7070"/>
<rect x="779" y="591" width="6.5" height="6.5" fill="#ff6f6f"/>
<rect x="785" y="591" width="24.5" height="6.5" fill="#ff6e6e"/>
<rect x="647" y="597" width="12.5" height="6.5" fill="#ffffff"/>
<rect x="659" y="597" width="6.5" height="6.5" fill="#ffe7e7"/>
<rect x="665" y="597" width="6.5" height="6.5" fill="#ffa5a5"/>
<rect x="671" y="597" width="6.5" height="6.5" fill="#ff6f6f"/>
<rect x="677" y="597" width="6.5" height="6.5" fill="#ff4b4b"/>
<rect x="683" y="597" width="6.5" height="6.5" fill="#ff3d3d"/>
<rect x="689" y="597" width="6.5" height="6.5" fill="#ff4343"/>
<rect x="695" y="597" width="6.5" height="6.5" fill="#ff5353"/>
<rect x="701" y="597" width="6.5" height="6.5" fill="#ff6565"/>
<rect x="707" y="597" width="6.5" height="6.5" fill="#ff7676"/>
<rect x="713" y="597" width="6.5" height="6.5" fill="#ff8282"/>
<rect x="719" y="597" width="6.5" height="6.5" fill="#ff8c8c"/>
<rect x="725" y="597" width="12.5" height="6.5" fill="#ff9393"/>
<rect x="737" y="597" width="6.5" height="6.5" fill="#ff8e8e"/>
<rect x="743" y="597" width="6.5" height="6.5" fill="#ff8888"/>
<rect x="749" y="597" width="6.5" height="6.5" fill="#ff8181"/>
<rect x="755" y="597" width="6.5" height="6.5" fill="#ff7c7c"/>
<rect x="761" y="597" width="6.5" height="6.5" fill="#ff7979"/>
<rect x="767" y="597" width="6.5" height="6.5" fill="#ff7777"/>
<rect x="773" y="597" width="6.5" height="6.5" fill="#ff7676"/>
<rect x="779" y="597" width="6.5" height="6.5" fill="#ff7474"/>
<rect x="785" y="597" width="24.5" height="6.5" fill="#ff7373"/>
<rect x="647" y="603" width="12.5" height="6.5" fill="#ffffff"/>
<rect x="659" y="603" width="6.5" height="6.5" fill="#ffe8e8"/>
<rect x="665" y="603" width="6.5" height="6.5" fill="#ffa9a9"/>
<rect x="671" y="603" width="6.5" height="6.5" fill="#ff7676"/>
<rect x="677" y="603" width="6.5" height="6.5" fill="#ff5353"/>
<rect x="683" y="603" width="6.5" height="6.5" fill="#ff4747"/>
<rect x="689" y="603" width="6.5" height="6.5" fill="#ff4d4d"/>
<rect x="695" y="603" width="6.5" height="6.5" fill="#ff5b5b"/>
<rect x="701" y="603" width="6.5" height="6.5" fill="#ff6e6e"/>
<rect x="707" y="603" width="6.5" height="6.5" fill="#ff7f7f"/>
<rect x="713" y="603" width="6.5" height="6.5" fill="#ff8b8b"/>
<rect x="719" y="603" width="6.5" height="6.5" fill="#ff9595"/>
<rect x="725" y="603" width="6.5" height="6.5" fill="#ff9b9b"/>
<rect x="731" y="603" width="6.5" height="6.5" fill="#ff9a9a"/>
<rect x="737" y="603" width="6.5" height="6.5" fill="#ff9494"/>
<rect x="743" y="603" width="6.5" height="6.5" fill="#ff8c8c"/>
<rect x="749" y="603" width="6.5" height="6.5" fill="#ff8686"/>
<rect x="755" y="603" width="6.5" height="6.5" fill="#ff8181"/>
<rect x="761" y="603" width="6.5" height="6.5" fill="#ff7e7e"/>
<rect x="767" y="603" width="6.5" height="6.5" fill="#ff7d7d"/>
<rect x="773" y="603" width="6.5" height="6.5" fill="#ff7b7b"/>
<rect x="779" y="603" width="6.5" height="6.5" fill="#ff7a7a"/>
<rect x="785" y="603" width="6.5" height="6.5" fill="#ff7979"/>
<rect x="791" y="603" width="18.5" height="6.5" fill="#ff7878"/>
<rect x="647" y="609" width="12.5" height="6.5" fill="#ffffff"/>
<rect x="659" y="609" width="6.5" height="6.5" fill="#ffeaea"/>
<rect x="665" y="609" width="6.5" height="6.5" fill="#ffafaf"/>
<rect x="671" y="609" width="6.5" height="6.5" fill="#ff7f7f"/>
<rect x="677" y="609" width="6.5" height="6.5" fill="#ff5f5f"/>
<rect x="683" y="609" width="6.5" height="6.5" fill="#ff5353"/>
<rect x="689" y="609" width="6.5" height="6.5" fill="#ff5858"/>
<rect x="695" y="609" width="6.5" height="6.5" fill="#ff6666"/>
<rect x="701" y="609" width="6.5" height="6.5" fill="#ff7878"/>
<rect x="707" y="609" width="6.5" height="6.5" fill="#ff8888"/>
<rect x="713" y="609" width="6.5" height="6.5" fill="#ff9595"/>
<rect x="719" y="609" width="6.5" height="6.5" fill="#ff9f9f"/>
<rect x="725" y="609" width="6.5" height="6.5" fill="#ffa5a5"/>
<rect x="731" y="609" width="6.5" height="6.5" fill="#ffa2a2"/>
<rect x="737" y="609" width="6.5" height="6.5" fill="#ff9a9a"/>
<rect x="743" y="609" width="6.5" height="6.5" fill="#ff9191"/>
<rect x="749" y="609" width="6.5" height="6.5" fill="#ff8a8a"/>
<rect x="755" y="609" width="6.5" height="6.5" fill="#ff8686"/>
<rect x="761" y="609" width="6.5" height="6.5" fill="#ff8383"/>
<rect x="767" y="609" width="6.5" height="6.5" fill="#ff8282"/>
<rect x="773" y="609" width="6.5" height="6.5" fill="#ff8181"/>
<rect x="779" y="609" width="12.5" height="6.5" fill="#ff8080"/>
<rect x="791" y="609" width="18.5" height="6.5" fill="#ff7f7f"/>
<rect x="647" y="615" width="12.5" height="6.5" fill="#ffffff"/>
<rect x="659" y="615" width="6.5" height="6.5" fill="#ffebeb"/>
<rect x="665" y="615" width="6.5" height="6.5" fill="#ffb5b5"/>
<rect x="671" y="615" width="6.5" height="6.5" fill="#ff8989"/>
<rect x="677" y="615" width="6.5" height="6.5" fill="#ff6b6b"/>
<rect x="683" y="615" width="6.5" height="6.5" fill="#ff6060"/>
<rect x="689" y="615" width="6.5" height="6.5" fill="#ff6565"/>
<rect x="695" y="615" width="6.5" height="6.5" fill="#ff7272"/>
<rect x="701" y="615" width="6.5" height="6.5" fill="#ff8383"/>
<rect x="707" y="615" width="6.5" height="6.5" fill="#ff9393"/>
<rect x="713" y="615" width="6.5" height="6.5" fill="#ffa0a0"/>
<rect x="719" y="615" width="6.5" height="6.5" fill="#ffabab"/>
<rect x="725" y="615" width="6.5" height="6.5" fill="#ffafaf"/>
<rect x="731" y="615" width="6.5" height="6.5" fill="#ffabab"/>
<rect x="737" y="615" width="6.5" height="6.5" fill="#ffa2a2"/>
<rect x="743" y="615" width="6.5" height="6.5" fill="#ff9797"/>
<rect x="749" y="615" width="6.5" height="6.5" fill="#ff8f8f"/>
<rect x="755" y="615" width="6.5" height="6.5" fill="#ff8b8b"/>
<rect x="761" y="615" width="6.5" height="6.5" fill="#ff8989"/>
<rect x="767" y="615" width="12.5" height="6.5" fill="#ff8888"/>
<rect x="779" y="615" width="30.5" height="6.5" fill="#ff8787"/>
<rect x="647" y="621" width="12.5" height="6.5" fill="#ffffff"/>
<rect x="659" y="621" width="6.5" height="6.5" fill="#ffeded"/>
<rect x="665" y="621" width="6.5" height="6.5" fill="#ffbbbb"/>
<rect x="671" y="621" width="6.5" height="6.5" fill="#ff9292"/>
<rect x="677" y="621" width="6.5" height="6.5" fill="#ff7777"/>
<rect x="683" y="621" width="6.5" height="6.5" fill="#ff6c6c"/>
<rect x="689" y="621" width="6.5" height="6.5" fill="#ff7171"/>
<rect x="695" y="621" width="6.5" height="6.5" fill="#ff7e7e"/>
<rect x="701" y="621" width="6.5" height="6.5" fill="#ff8e8e"/>
<rect x="707" y="621" width="6.5" height="6.5" fill="#ff9f9f"/>
<rect x="713" y="621" width="6.5" height="6.5" fill="#ffacac"/>
<rect x="719" y="621" width="6.5" height="6.5" fill="#ffb8b8"/>
<rect x="725" y="621" width="6.5" height="6.5" fill="#ffbcbc"/>
<rect x="731" y="621" width="6.5" height="6.5" fill="#ffb6b6"/>
<rect x="737" y="621" width="6.5" height="6.5" fill="#ffaaaa"/>
<rect x="743" y="621" width="6.5" height="6.5" fill="#ff9e9e"/>
<rect x="749" y="621" width="6.5" height="6.5" fill="#ff9696"/>
<rect x="755" y="621" width="6.5" height="6.5" fill="#ff9292"/>
<rect x="761" y="621" width="48.5" height="6.5" fill="#ff9090"/>
<rect x="647" y="627" width="12.5" height="6.5" fill="#ffffff"/>
<rect x="659" y="627" width="6.5" height="6.5" fill="#ffefef"/>
<rect x="665" y="627" width="6.5" height="6.5" fill="#ffc1c1"/>
<rect x="671" y="627" width="6.5" height="6.5" fill="#ff9c9c"/>
<rect x="677" y="627" width="6.5" height="6.5" fill="#ff8383"/>
<rect x="683" y="627" width="6.5" height="6.5" fill="#ff7979"/>
<rect x="689" y="627" width="6.5" height="6.5" fill="#ff7e7e"/>
<rect x="695" y="627" width="6.5" height="6.5" fill="#ff8b8b"/>
<rect x="701" y="627" width="6.5" height="6.5" fill="#ff9b9b"/>
<rect x="707" y="627" width="6.5" height="6.5" fill="#ffadad"/>
<rect x="713" y="627" width="6.5" height="6.5" fill="#ffbcbc"/>
<rect x="719" y="627" width="6.5" height="6.5" fill="#ffc8c8"/>
<rect x="725" y="627" width="6.5" height="6.5" fill="#ffcccc"/>
<rect x="731" y="627" width="6.5" height="6.5" fill="#ffc5c5"/>
<rect x="737" y="627" width="6.5" height="6.5" fill="#ffb7b7"/>
<rect x="743" y="627" width="6.5" height="6.5" fill="#ffaaaa"/>
<rect x="749" y="627" width="6.5" height="6.5" fill="#ffa1a1"/>
<rect x="755" y="627" width="6.5" height="6.5" fill="#ff9d9d"/>
<rect x="761" y="627" width="48.5" height="6.5" fill="#ff9b9b"/>
<rect x="647" y="633" width="12.5" height="6.5" fill="#ffffff"/>
<rect x="659" y="633" width="6.5" height="6.5" fill="#fff0f0"/>
<rect x="665" y="633" width="6.5" height="6.5" fill="#ffc7c7"/>
<rect x="671" y="633" width="6.5" height="6.5" fill="#ffa6a6"/>
<rect x="677" y="633" width="6.5" height="6.5" fill="#ff9090"/>
<rect x="683" y="633" width="6.5" height="6.5" fill="#ff8888"/>
<rect x="689" y="633" width="6.5" height="6.5" fill="#ff8d8d"/>
<rect x="695" y="633" width="6.5" height="6.5" fill="#ff9999"/>
<rect x="701" y="633" width="6.5" height="6.5" fill="#ffaaaa"/>
<rect x="707" y="633" width="6.5" height="6.5" fill="#ffbdbd"/>
<rect x="713" y="633" width="6.5" height="6.5" fill="#ffcece"/>
<rect x="719" y="633" width="6.5" height="6.5" fill="#ffdcdc"/>
<rect x="725" y="633" width="6.5" height="6.5" fill="#ffe0e0"/>
<rect x="731" y="633" width="6.5" height="6.5" fill="#ffd8d8"/>
<rect x="737" y="633" width="6.5" height="6.5" fill="#ffc9c9"/>
<rect x="743" y="633" width="6.5" height="6.5" fill="#ffbaba"/>
<rect x="749" y="633" width="6.5" height="6.5" fill="#ffb0b0"/>
<rect x="755" y="633" width="6.5" height="6.5" fill="#ffabab"/>
<rect x="761" y="633" width="6.5" height="6.5" fill="#ffaaaa"/>
<rect x="767" y="633" width="42.5" height="6.5" fill="#ffa9a9"/>
<rect x="647" y="639" width="12.5" height="6.5" fill="#ffffff"/>
<rect x="659" y="639" width="6.5" height="6.5" fill="#fff2f2"/>
<rect x="665" y="639" width="6.5" height="6.5" fill="#ffcece"/>
<rect x="671" y="639" width="6.5" height="6.5" fill="#ffb1b1"/>
<rect x="677" y="639" width="6.5" height="6.5" fill="#ff9e9e"/>
<rect x="683" y="639" width="6.5" height="6.5" fill="#ff9797"/>
<rect x="689" y="639" width="6.5" height="6.5" fill="#ff9c9c"/>
<rect x="695" y="639" width="6.5" height="6.5" fill="#ffa8a8"/>
<rect x="701" y="639" width="6.5" height="6.5" fill="#ffb9b9"/>
<rect x="707" y="639" width="6.5" height="6.5" fill="#ffcdcd"/>
<rect x="713" y="639" width="6.5" height="6.5" fill="#ffe0e0"/>
<rect x="719" y="639" width="6.5" height="6.5" fill="#fff0f0"/>
<rect x="725" y="639" width="6.5" height="6.5" fill="#fff6f6"/>
<rect x="731" y="639" width="6.5" height="6.5" fill="#ffeded"/>
<rect x="737" y="639" width="6.5" height="6.5" fill="#ffdcdc"/>
<rect x="743" y="639" width="6.5" height="6.5" fill="#ffcbcb"/>
<rect x="749" y="639" width="6.5" height="6.5" fill="#ffc0c0"/>
<rect x="755" y="639" width="6.5" height="6.5" fill="#ffbbbb"/>
<rect x="761" y="639" width="6.5" height="6.5" fill="#ffb9b9"/>
<rect x="767" y="639" width="42.5" height="6.5" fill="#ffb8b8"/>
<rect x="647" y="645" width="12.5" height="6.5" fill="#ffffff"/>
<rect x="659" y="645" width="6.5" height="6.5" fill="#fff4f4"/>
<rect x="665" y="645" width="6.5" height="6.5" fill="#ffd5d5"/>
<rect x="671" y="645" width="6.5" height="6.5" fill="#ffbcbc"/>
<rect x="677" y="645" width="6.5" height="6.5" fill="#ffacac"/>
<rect x="683" y="645" width="6.5" height="6.5" fill="#ffa6a6"/>
<rect x="689" y="645" width="6.5" height="6.5" fill="#ffabab"/>
<rect x="695" y="645" width="6.5" height="6.5" fill="#ffb7b7"/>
<rect x="701" y="645" width="6.5" height="6.5" fill="#ffc8c8"/>
<rect x="707" y="645" width="6.5" height="6.5" fill="#ffdddd"/>
<rect x="713" y="645" width="6.5" height="6.5" fill="#fff1f1"/>
<rect x="719" y="645" width="18.5" height="6.5" fill="#ffffff"/>
<rect x="737" y="645" width="6.5" height="6.5" fill="#ffeeee"/>
<rect x="743" y="645" width="6.5" height="6.5" fill="#ffdcdc"/>
<rect x="749" y="645" width="6.5" height="6.5" fill="#ffd0d0"/>
<rect x="755" y="645" width="6.5" height="6.5" fill="#ffcaca"/>
<rect x="761" y="645" width="6.5" height="6.5" fill="#ffc8c8"/>
<rect x="767" y="645" width="6.5" height="6.5" fill="#ffc7c7"/>
<rect x="773" y="645" width="36.5" height="6.5" fill="#ffc6c6"/>
<rect x="647" y="651" width="12.5" height="6.5" fill="#ffffff"/>
<rect x="659" y="651" width="6.5" height="6.5" fill="#fff6f6"/>
<rect x="665" y="651" width="6.5" height="6.5" fill="#ffdcdc"/>
<rect x="671" y="651" width="6.5" height="6.5" fill="#ffc7c7"/>
<rect x="677" y="651" width="6.5" height="6.5" fill="#ffb9b9"/>
<rect x="683" y="651" width="6.5" height="6.5" fill="#ffb4b4"/>
<rect x="689" y="651" width="6.5" height="6.5" fill="#ffb9b9"/>
<rect x="695" y="651" width="6.5" height="6.5" fill="#ffc4c4"/>
<rect x="701" y="651" width="6.5" height="6.5" fill="#ffd5d5"/>
<rect x="707" y="651" width="6.5" height="6.5" fill="#ffeaea"/>
<rect x="713" y="651" width="24.5" height="6.5" fill="#ffffff"/>
<rect x="737" y="651" width="6.5" height="6.5" fill="#fffdfd"/>
<rect x="743" y="651" width="6.5" height="6.5" fill="#ffeaea"/>
<rect x="749" y="651" width="6.5" height="6.5" fill="#ffdddd"/>
<rect x="755" y="651" width="6.5" height="6.5" fill="#ffd6d6"/>
<rect x="761" y="651" width="6.5" height="6.5" fill="#ffd4d4"/>
<rect x="767" y="651" width="42.5" height="6.5" fill="#ffd2d2"/>
<rect x="647" y="657" width="12.5" height="6.5" fill="#ffffff"/>
<rect x="659" y="657" width="6.5" height="6.5" fill="#fff7f7"/>
<rect x="665" y="657" width="6.5" height="6.5" fill="#ffe2e2"/>
<rect x="671" y="657" width="6.5" height="6.5" fill="#ffd2d2"/>
<rect x="677" y="657" width="6.5" height="6.5" fill="#ffc6c6"/>
<rect x="683" y="657" width="6.5" height="6.5" fill="#ffc3c3"/>
<rect x="689" y="657" width="6.5" height="6.5" fill="#ffc7c7"/>
<rect x="695" y="657" width="6.5" height="6.5" fill="#ffd1d1"/>
<rect x="701" y="657" width="6.5" height="6.5" fill="#ffe1e1"/>
<rect x="707" y="657" width="6.5" height="6.5" fill="#fff5f5"/>
<rect x="713" y="657" width="30.5" height="6.5" fill="#ffffff"/>
<rect x="743" y="657" width="6.5" height="6.5" fill="#fff4f4"/>
<rect x="749" y="657" width="6.5" height="6.5" fill="#ffe7e7"/>
<rect x="755" y="657" width="6.5" height="6.5" fill="#ffe0e0"/>
<rect x="761" y="657" width="6.5" height="6.5" fill="#ffdddd"/>
<rect x="767" y="657" width="42.5" height="6.5" fill="#ffdcdc"/>
<rect x="647" y="663" width="12.5" height="6.5" fill="#ffffff"/>
<rect x="659" y="663" width="6.5" height="6.5" fill="#fff9f9"/>
<rect x="665" y="663" width="6.5" height="6.5" fill="#ffe9e9"/>
<rect x="671" y="663" width="6.5" height="6.5" fill="#ffdcdc"/>
<rect x="677" y="663" width="6.5" height="6.5" fill="#ffd4d4"/>
<rect x="683" y="663" width="6.5" height="6.5" fill="#ffd1d1"/>
<rect x="689" y="663" width="6.5" height="6.5" fill="#ffd5d5"/>
<rect x="695" y="663" width="6.5" height="6.5" fill="#ffdede"/>
<rect x="701" y="663" width="6.5" height="6.5" fill="#ffecec"/>
<rect x="707" y="663" width="36.5" height="6.5" fill="#ffffff"/>
<rect x="743" y="663" width="6.5" height="6.5" fill="#fffefe"/>
<rect x="749" y="663" width="6.5" height="6.5" fill="#fff0f0"/>
<rect x="755" y="663" width="6.5" height="6.5" fill="#ffe9e9"/>
<rect x="761" y="663" width="6.5" height="6.5" fill="#ffe6e6"/>
<rect x="767" y="663" width="42.5" height="6.5" fill="#ffe5e5"/>
<rect x="647" y="669" width="12.5" height="6.5" fill="#ffffff"/>
<rect x="659" y="669" width="6.5" height="6.5" fill="#fffbfb"/>
<rect x="665" y="669" width="6.5" height="6.5" fill="#fff0f0"/>
<rect x="671" y="669" width="6.5" height="6.5" fill="#ffe7e7"/>
<rect x="677" y="669" width="6.5" height="6.5" fill="#ffe1e1"/>
<rect x="683" y="669" width="6.5" height="6.5" fill="#ffdfdf"/>
<rect x="689" y="669" width="6.5" height="6.5" fill="#ffe2e2"/>
<rect x="695" y="669" width="6.5" height="6.5" fill="#ffeaea"/>
<rect x="701" y="669" width="6.5" height="6.5" fill="#fff6f6"/>
<rect x="707" y="669" width="42.5" height="6.5" fill="#ffffff"/>
<rect x="749" y="669" width="6.5" height="6.5" fill="#fff9f9"/>
<rect x="755" y="669" width="6.5" height="6.5" fill="#fff2f2"/>
<rect x="761" y="669" width="6.5" height="6.5" fill="#ffefef"/>
<rect x="767" y="669" width="6.5" height="6.5" fill="#ffeeee"/>
<rect x="773" y="669" width="36.5" height="6.5" fill="#ffeded"/>
<rect x="647" y="675" width="12.5" height="6.5" fill="#ffffff"/>
<rect x="659" y="675" width="6.5" height="6.5" fill="#fffdfd"/>
<rect x="665" y="675" width="6.5" height="6.5" fill="#fff7f7"/>
<rect x="671" y="675" width="6.5" height="6.5" fill="#fff2f2"/>
<rect x="677" y="675" width="6.5" height="6.5" fill="#ffefef"/>
<rect x="683" y="675" width="6.5" height="6.5" fill="#ffeeee"/>
<rect x="689" y="675" width="6.5" height="6.5" fill="#fff0f0"/>
<rect x="695" y="675" width="6.5" height="6.5" fill="#fff5f5"/>
<rect x="701" y="675" width="54.5" height="6.5" fill="#ffffff"/>
<rect x="755" y="675" width="6.5" height="6.5" fill="#fff9f9"/>
<rect x="761" y="675" width="6.5" height="6.5" fill="#fff6f6"/>
<rect x="767" y="675" width="12.5" height="6.5" fill="#fff5f5"/>
<rect x="779" y="675" width="30.5" height="6.5" fill="#fff4f4"/>
<rect x="647" y="681" width="12.5" height="6.5" fill="#ffffff"/>
<rect x="659" y="681" width="6.5" height="6.5" fill="#fffefe"/>
<rect x="665" y="681" width="6.5" height="6.5" fill="#fffdfd"/>
<rect x="671" y="681" width="6.5" height="6.5" fill="#fffbfb"/>
<rect x="677" y="681" width="12.5" height="6.5" fill="#fffafa"/>
<rect x="689" y="681" width="6.5" height="6.5" fill="#fffcfc"/>
<rect x="695" y="681" width="60.5" height="6.5" fill="#ffffff"/>
<rect x="755" y="681" width="6.5" height="6.5" fill="#fffefe"/>
<rect x="761" y="681" width="6.5" height="6.5" fill="#fffbfb"/>
<rect x="767" y="681" width="42.5" height="6.5" fill="#fffafa"/>
<rect x="647" y="687" width="12.5" height="6.5" fill="#ffffff"/>
<rect x="659" y="687" width="6.5" height="6.5" fill="#fffefe"/>
<rect x="665" y="687" width="6.5" height="6.5" fill="#fffdfd"/>
<rect x="671" y="687" width="6.5" height="6.5" fill="#fffbfb"/>
<rect x="677" y="687" width="12.5" height="6.5" fill="#fffafa"/>
<rect x="689" y="687" width="6.5" height="6.5" fill="#fffcfc"/>
<rect x="695" y="687" width="60.5" height="6.5" fill="#ffffff"/>
<rect x="755" y="687" width="6.5" height="6.5" fill="#fffefe"/>
<rect x="761" y="687" width="6.5" height="6.5" fill="#fffbfb"/>
<rect x="767" y="687" width="42.5" height="6.5" fill="#fffafa"/>
<rect x="647" y="693" width="12.5" height="6.5" fill="#ffffff"/>
<rect x="659" y="693" width="6.5" height="6.5" fill="#fffefe"/>
<rect x="665" y="693" width="6.5" height="6.5" fill="#fffdfd"/>
<rect x="671" y="693" width="6.5" height="6.5" fill="#fffbfb"/>
<rect x="677" y="693" width="12.5" height="6.5" fill="#fffafa"/>
<rect x="689" y="693" width="6.5" height="6.5" fill="#fffcfc"/>
<rect x="695" y="693" width="60.5" height="6.5" fill="#ffffff"/>
<rect x="755" y="693" width="6.5" height="6.5" fill="#fffefe"/>
<rect x="761" y="693" width="6.5" height="6.5" fill="#fffbfb"/>
<rect x="767" y="693" width="42.5" height="6.5" fill="#fffafa"/>
</g>
<path d="M791.3 666.4 786.8 666.4 782.3 666.4 777.8 666.3 773.3 666.3 768.8 666.0 765.8 665.6 761.3 664.6 758.3 663.4 755.3 661.6 753.3 660.0 750.8 657.5 749.1 655.5 746.7 652.5 744.8 650.2 743.0 648.0 740.3 645.1 738.7 643.5 735.8 640.9 733.0 639.0 729.8 637.7 726.8 637.4 723.8 638.2 720.8 639.8 718.1 642.0 716.3 643.8 714.0 646.5 711.8 649.4 710.3 651.7 708.8 654.3 707.3 657.0 705.6 660.0 703.8 663.0 701.8 666.0 699.8 668.4 697.5 670.5 695.3 672.0 692.1 673.5 687.8 674.5 683.3 674.5 678.8 673.5 675.8 672.2 673.4 670.5 671.3 668.3 669.8 666.0 668.3 662.8 666.9 658.5 666.2 655.5 665.4 651.0 665.0 648.0 664.5 643.5 664.0 639.0 663.8 635.9 663.5 631.5 663.3 627.0 663.1 622.5 662.9 618.0 662.8 613.5 662.6 609.0 662.5 604.5 662.4 600.0 662.4 595.5 662.4 591.0 662.4 586.5 662.4 582.0 662.4 577.5 662.4 573.0 662.4 568.5 662.4 564.0 662.4 559.5 662.3 555.0 662.2 552.0 662.1 547.5 662.0 543.0 661.8 538.5 661.6 534.0" fill="none" stroke="#fff" stroke-opacity="0.4" stroke-width="0.6"/>
<path d="M791.3 650.6 786.8 650.6 782.3 650.6 777.8 650.6 773.3 650.6 768.8 650.4 764.3 650.0 761.3 649.5 756.8 648.4 753.8 647.2 750.8 645.5 747.9 643.5 746.0 642.0 743.3 639.7 740.8 637.5 738.8 635.8 735.8 633.3 733.0 631.5 729.8 630.2 726.8 629.9 723.8 630.6 720.8 632.1 717.8 634.2 715.8 636.0 713.3 638.3 711.2 640.5 708.8 643.4 707.3 645.4 705.4 648.0 703.3 651.0 701.3 653.9 699.8 655.8 697.3 658.5 695.3 660.3 692.3 662.2 689.3 663.4 684.8 663.8 681.5 663.0 678.7 661.5 675.8 658.8 674.3 656.9 672.7 654.0 671.3 650.9 669.8 646.5 669.1 643.5 668.3 640.1 667.6 636.0 667.0 631.5 666.6 628.5 666.2 624.0 665.8 619.5 665.4 615.0 665.2 612.0 664.9 607.5 664.7 603.0 664.6 598.5 664.6 594.0 664.5 589.5 664.5 585.0 664.5 580.5 664.5 576.0 664.5 571.5 664.5 567.0 664.5 562.5 664.5 558.0 664.5 553.5 664.5 549.0 664.4 544.5 664.4 540.0 664.3 535.5 664.3 531.0" fill="none" stroke="#fff" stroke-opacity="0.4" stroke-width="0.6"/>
<path d="M791.3 639.8 786.8 639.8 782.3 639.8 777.8 639.8 773.3 639.8 768.8 639.7 764.3 639.5 759.9 639.0 756.8 638.5 753.6 637.5 750.3 636.0 747.8 634.5 744.8 632.3 742.2 630.0 740.3 628.1 737.7 625.5 735.8 623.5 732.8 621.0 729.8 619.8 725.3 620.2 722.3 621.7 719.3 624.0 717.6 625.5 714.8 628.0 712.6 630.0 710.3 632.2 708.2 634.5 705.8 637.4 704.3 639.3 702.1 642.0 699.8 644.7 698.1 646.5 695.3 649.1 692.7 651.0 689.7 652.5 686.3 653.2 682.8 652.5 680.3 651.0 677.4 648.0 675.8 645.7 674.3 642.7 672.8 639.0 671.9 636.0 671.1 633.0 670.2 628.5 669.7 625.5 669.0 621.0 668.4 616.5 668.1 613.5 667.6 609.0 667.2 604.5 667.0 600.0 666.8 595.5 666.8 591.0 666.8 587.9 666.8 583.5 666.8 579.0 666.8 574.5 666.8 570.0 666.8 565.5 666.8 561.0 666.8 556.5 666.8 553.5 666.8 549.0 666.9 544.5 667.0 540.0 667.0 535.5 667.1 531.0" fill="none" stroke="#fff" stroke-opacity="0.4" stroke-width="0.6"/>
<path d="M791.3 629.1 786.8 629.1 782.3 629.2 777.8 629.2 773.3 629.2 768.8 629.2 764.3 628.9 760.6 628.5 756.8 627.7 753.8 626.7 750.8 624.8 748.4 622.5 746.3 619.8 744.8 617.5 743.2 615.0 741.2 612.0 739.0 609.0 737.3 607.1 734.3 604.9 731.3 604.1 728.3 604.6 725.3 606.0 722.3 608.3 720.0 610.5 717.8 612.8 715.8 615.0 713.3 617.7 711.7 619.5 709.2 622.5 707.3 625.1 705.8 627.1 703.5 630.0 701.3 632.7 699.7 634.5 696.8 637.5 695.0 639.0 692.3 641.0 689.3 642.4 684.8 642.8 681.8 641.4 679.4 639.0 677.4 636.0 676.0 633.0 674.9 630.0 673.9 627.0 672.9 622.5 672.2 619.5 671.3 615.0 670.8 612.0 670.2 607.5 669.8 604.0 669.5 600.0 669.3 595.5 669.2 591.0 669.2 586.5 669.2 582.0 669.2 577.5 669.2 573.0 669.2 568.5 669.2 564.0 669.2 559.5 669.2 555.0 669.3 550.5 669.5 546.0 669.7 541.5 669.8 538.2 670.0 534.0" fill="none" stroke="#fff" stroke-opacity="0.4" stroke-width="0.6"/>
<path d="M791.3 612.2 788.3 611.9 783.8 611.4 779.3 610.7 776.3 610.3 771.8 609.5 768.8 608.8 764.3 607.5 761.3 606.2 758.8 604.5 756.8 602.8 754.1 600.0 752.3 598.0 750.2 595.5 747.8 592.7 746.0 591.0 743.3 588.7 740.3 586.7 737.3 585.6 732.8 585.6 729.8 586.5 726.8 588.0 723.8 590.2 721.2 592.5 719.3 594.6 717.3 597.0 715.1 600.0 713.3 602.4 711.7 604.5 709.7 607.5 707.9 610.5 706.1 613.5 704.3 616.3 702.8 618.6 701.2 621.0 698.9 624.0 696.8 626.5 694.8 628.5 692.3 630.5 689.3 632.0 684.8 632.4 681.8 630.4 680.3 628.5 678.6 625.5 677.3 622.3 675.9 618.0 675.0 615.0 674.2 612.0 673.3 607.5 672.8 604.5 672.3 600.0 672.0 595.5 671.9 591.0 671.8 586.5 671.8 582.0 671.8 577.5 671.8 573.0 671.7 568.5 671.7 564.0 671.8 559.5 671.9 555.0 672.1 550.5 672.3 546.0 672.7 541.5 672.9 538.5 673.4 534.0" fill="none" stroke="#fff" stroke-opacity="0.4" stroke-width="0.6"/>
<path d="M791.3 582.1 788.3 584.3 785.3 585.6 780.8 586.2 776.3 586.2 771.8 586.0 767.3 585.5 764.1 585.0 759.8 583.7 756.8 582.2 754.2 580.5 752.3 579.0 749.3 576.2 747.7 574.5 745.3 571.5 743.5 568.5 742.0 565.5 740.5 562.5 738.8 560.6 735.1 561.0 732.8 563.0 731.0 565.5 728.5 568.5 726.8 570.4 724.5 573.0 722.3 575.2 720.0 577.5 717.8 579.7 715.5 582.0 713.3 584.4 711.4 586.5 709.4 589.5 707.8 592.5 706.5 595.5 705.3 598.5 703.9 601.5 702.5 604.5 701.0 607.5 699.2 610.5 697.1 613.5 695.3 615.7 692.8 618.0 690.7 619.5 686.3 620.9 683.2 619.5 680.8 616.5 679.2 613.5 678.0 610.5 677.1 607.5 676.0 603.0 675.5 600.0 675.1 595.5 675.0 591.0 674.9 586.5 674.8 582.0 674.7 577.5 674.7 573.0 674.7 568.5 674.7 564.0 674.7 559.5 674.9 555.0 675.2 550.5 675.7 546.0 676.0 543.0 676.7 538.5 677.3 534.7 677.4 531.0" fill="none" stroke="#fff" stroke-opacity="0.4" stroke-width="0.6"/>
<path d="M686.3 609.1 683.4 607.5 681.8 605.2 680.3 601.5 679.6 598.5 679.0 594.0 678.8 589.8 678.7 586.5 678.5 582.0 678.4 577.5 678.4 573.0 678.3 568.5 678.3 564.0 678.4 559.5 678.8 555.0 679.1 552.0 679.8 547.5 680.5 544.5 681.8 540.0 683.1 537.0 684.8 534.7 689.3 534.3 693.6 535.5 696.7 537.0 699.0 538.5 701.3 540.6 703.3 543.0 705.1 546.0 706.2 549.0 707.2 553.5 707.6 556.5 707.7 561.0 707.6 565.5 707.1 568.5 705.8 572.6 704.5 576.0 703.4 579.0 702.2 582.0 701.2 585.0 699.8 589.2 698.8 592.5 697.9 595.5 696.8 598.6 695.3 601.7 693.5 604.5 690.8 607.3 687.8 608.9" fill="none" stroke="#fff" stroke-opacity="0.4" stroke-width="0.6"/>
<line x1="660.30" y1="531.00" x2="660.30" y2="683.60" stroke="#aaa" stroke-width="0.5" stroke-opacity="0.22"/>
<line x1="686.40" y1="531.00" x2="686.40" y2="683.60" stroke="#aaa" stroke-width="0.5" stroke-opacity="0.22"/>
<line x1="712.50" y1="531.00" x2="712.50" y2="683.60" stroke="#aaa" stroke-width="0.5" stroke-opacity="0.22"/>
<line x1="738.10" y1="531.00" x2="738.10" y2="683.60" stroke="#aaa" stroke-width="0.5" stroke-opacity="0.22"/>
<line x1="764.20" y1="531.00" x2="764.20" y2="683.60" stroke="#aaa" stroke-width="0.5" stroke-opacity="0.22"/>
<line x1="790.30" y1="531.00" x2="790.30" y2="683.60" stroke="#aaa" stroke-width="0.5" stroke-opacity="0.22"/>
<line x1="659.30" y1="534.00" x2="792.80" y2="534.00" stroke="#aaa" stroke-width="0.5" stroke-opacity="0.22"/>
<line x1="659.30" y1="564.60" x2="792.80" y2="564.60" stroke="#aaa" stroke-width="0.5" stroke-opacity="0.22"/>
<line x1="659.30" y1="593.70" x2="792.80" y2="593.70" stroke="#aaa" stroke-width="0.5" stroke-opacity="0.22"/>
<line x1="659.30" y1="623.50" x2="792.80" y2="623.50" stroke="#aaa" stroke-width="0.5" stroke-opacity="0.22"/>
<line x1="659.30" y1="653.40" x2="792.80" y2="653.40" stroke="#aaa" stroke-width="0.5" stroke-opacity="0.22"/>
<line x1="659.30" y1="683.30" x2="792.80" y2="683.30" stroke="#aaa" stroke-width="0.5" stroke-opacity="0.22"/>
</g>
<rect x="686.4" y="534.0" width="51.700000000000045" height="59.700000000000045" fill="#606060" fill-opacity="0.1" stroke="#eadada" stroke-width="0.8"/>
<text x="664.7" y="513.3" font-size="9.75" fill="#111">HSA synergy score: 22.609</text>
<defs><linearGradient id="cb3" x1="0" x2="1"><stop offset="0" stop-color="#0c0"/><stop offset="0.5" stop-color="#fff"/><stop offset="1" stop-color="#f00"/></linearGradient></defs>
<rect x="678.00" y="521.80" width="92.50" height="2.00" fill="url(#cb3)"/>
<text x="679.0" y="521.9" font-size="6.0" text-anchor="middle" fill="#222">−50</text>
<text x="702.0" y="521.9" font-size="6.0" text-anchor="middle" fill="#222">−25</text>
<text x="724.5" y="521.9" font-size="6.0" text-anchor="middle" fill="#222">0</text>
<text x="748.5" y="521.9" font-size="6.0" text-anchor="middle" fill="#222">25</text>
<text x="771.5" y="521.9" font-size="6.0" text-anchor="middle" fill="#222">50</text>
<text x="657.5" y="536.0" font-size="5.6" text-anchor="end" fill="#444">200</text>
<line x1="657.90" y1="534.00" x2="659.50" y2="534.00" stroke="#888" stroke-width="0.4"/>
<text x="657.5" y="566.6" font-size="5.6" text-anchor="end" fill="#444">100</text>
<line x1="657.90" y1="564.60" x2="659.50" y2="564.60" stroke="#888" stroke-width="0.4"/>
<text x="657.5" y="595.7" font-size="5.6" text-anchor="end" fill="#444">50</text>
<line x1="657.90" y1="593.70" x2="659.50" y2="593.70" stroke="#888" stroke-width="0.4"/>
<text x="657.5" y="625.5" font-size="5.6" text-anchor="end" fill="#444">25</text>
<line x1="657.90" y1="623.50" x2="659.50" y2="623.50" stroke="#888" stroke-width="0.4"/>
<text x="657.5" y="655.4" font-size="5.6" text-anchor="end" fill="#444">12.5</text>
<line x1="657.90" y1="653.40" x2="659.50" y2="653.40" stroke="#888" stroke-width="0.4"/>
<text x="657.5" y="685.3" font-size="5.6" text-anchor="end" fill="#444">0</text>
<line x1="657.90" y1="683.30" x2="659.50" y2="683.30" stroke="#888" stroke-width="0.4"/>
<text x="660.3" y="692.0" font-size="5.6" text-anchor="middle" fill="#444">0</text>
<text x="686.4" y="692.0" font-size="5.6" text-anchor="middle" fill="#444">125</text>
<text x="712.5" y="692.0" font-size="5.6" text-anchor="middle" fill="#444">250</text>
<text x="738.1" y="692.0" font-size="5.6" text-anchor="middle" fill="#444">500</text>
<text x="764.2" y="692.0" font-size="5.6" text-anchor="middle" fill="#444">1000</text>
<text x="790.3" y="692.0" font-size="5.6" text-anchor="middle" fill="#444">2000</text>
<text x="725.5" y="699.3" font-size="7.4" text-anchor="middle" fill="#111">Selinexor (nM)</text>
<text x="643.8" y="605.0" font-size="7.8" text-anchor="middle" fill="#111" transform="rotate(-90 643.8 605.0)">JQ1 (nM)</text>
<line x1="636.60" y1="502.50" x2="636.60" y2="700.00" stroke="#d8d8d8" stroke-width="0.8"/>
<defs><filter id="bl" x="-30%" y="-60%" width="160%" height="220%"><feGaussianBlur stdDeviation="1.3"/></filter><filter id="bl2" x="-30%" y="-60%" width="160%" height="220%"><feGaussianBlur stdDeviation="2.2"/></filter></defs>
<text x="133.0" y="746.6" font-size="15.0" fill="#111">Patient #1</text>
<line x1="110.70" y1="762.80" x2="224.00" y2="762.80" stroke="#555" stroke-width="1.2"/>
<text x="9.6" y="775.1" font-size="11.5" fill="#111">Selinexor 10nM</text>
<text x="9.6" y="804.6" font-size="11.5" fill="#111">JQ1</text>
<text x="61.7" y="804.6" font-size="11.5" fill="#111">50nM</text>
<text x="119.7" y="775.3" font-size="12.5" font-weight="bold" text-anchor="middle" fill="#111">-</text>
<text x="147.4" y="775.3" font-size="12.5" font-weight="bold" text-anchor="middle" fill="#111">+</text>
<text x="177.4" y="775.3" font-size="12.5" font-weight="bold" text-anchor="middle" fill="#111">-</text>
<text x="209.0" y="775.3" font-size="12.5" font-weight="bold" text-anchor="middle" fill="#111">+</text>
<text x="119.7" y="803.8" font-size="12.5" font-weight="bold" text-anchor="middle" fill="#111">-</text>
<text x="146.8" y="803.8" font-size="12.5" font-weight="bold" text-anchor="middle" fill="#111">-</text>
<text x="174.4" y="803.8" font-size="12.5" font-weight="bold" text-anchor="middle" fill="#111">+</text>
<text x="209.0" y="803.8" font-size="12.5" font-weight="bold" text-anchor="middle" fill="#111">+</text>
<rect x="100.30" y="808.80" width="133.90" height="47.60" fill="#e4e4e4" stroke="#222" stroke-width="1.3"/>
<rect x="111.5" y="823.5" width="24.5" height="14.0" rx="5.4" fill="#000" fill-opacity="1" filter="url(#bl)"/>
<rect x="139.5" y="824.0" width="24.5" height="14.5" rx="5.6" fill="#000" fill-opacity="1" filter="url(#bl)"/>
<rect x="166.0" y="830.5" width="19.0" height="7.5" rx="2.9" fill="#000" fill-opacity="0.65" filter="url(#bl)"/>
<rect x="193.0" y="832.0" width="18.0" height="6.0" rx="2.3" fill="#000" fill-opacity="0.35" filter="url(#bl)"/>
<rect x="100.30" y="860.60" width="133.90" height="49.20" fill="#e6e6e6" stroke="#222" stroke-width="1.3"/>
<rect x="112.8" y="875.0" width="23.1" height="10.4" rx="4.0" fill="#000" fill-opacity="1" filter="url(#bl)"/>
<rect x="141.3" y="875.5" width="21.3" height="9.7" rx="3.7" fill="#000" fill-opacity="1" filter="url(#bl)"/>
<rect x="168.0" y="876.0" width="21.9" height="10.0" rx="3.8" fill="#000" fill-opacity="1" filter="url(#bl)"/>
<rect x="195.0" y="878.5" width="24.5" height="11.0" rx="4.2" fill="#000" fill-opacity="1" filter="url(#bl)"/>
<text x="39.6" y="838.6" font-size="15" fill="#111">C-MYC</text>
<text x="39.6" y="881.2" font-size="15" fill="#111">GAPDH</text>
<text x="403.0" y="746.6" font-size="15.0" fill="#111">Patient #4</text>
<line x1="381.00" y1="762.80" x2="495.00" y2="762.80" stroke="#555" stroke-width="1.2"/>
<text x="282.0" y="775.1" font-size="11.5" fill="#111">Selinexor 10nM</text>
<text x="282.0" y="804.6" font-size="11.5" fill="#111">JQ1</text>
<text x="333.7" y="804.6" font-size="11.5" fill="#111">50nM</text>
<text x="392.0" y="775.3" font-size="12.5" font-weight="bold" text-anchor="middle" fill="#111">-</text>
<text x="420.0" y="775.3" font-size="12.5" font-weight="bold" text-anchor="middle" fill="#111">+</text>
<text x="448.8" y="775.3" font-size="12.5" font-weight="bold" text-anchor="middle" fill="#111">-</text>
<text x="481.6" y="775.3" font-size="12.5" font-weight="bold" text-anchor="middle" fill="#111">+</text>
<text x="392.0" y="803.8" font-size="12.5" font-weight="bold" text-anchor="middle" fill="#111">-</text>
<text x="420.0" y="803.8" font-size="12.5" font-weight="bold" text-anchor="middle" fill="#111">-</text>
<text x="448.8" y="803.8" font-size="12.5" font-weight="bold" text-anchor="middle" fill="#111">+</text>
<text x="481.6" y="803.8" font-size="12.5" font-weight="bold" text-anchor="middle" fill="#111">+</text>
<rect x="373.90" y="809.60" width="133.60" height="45.40" fill="#e8e8e8" stroke="#222" stroke-width="1.3"/>
<rect x="385.5" y="823.8" width="19.8" height="14.2" rx="5.5" fill="#000" fill-opacity="1" filter="url(#bl)"/>
<rect x="413.0" y="829.0" width="15.0" height="7.0" rx="2.7" fill="#000" fill-opacity="0.15" filter="url(#bl2)"/>
<rect x="441.0" y="829.0" width="17.0" height="7.0" rx="2.7" fill="#000" fill-opacity="0.15" filter="url(#bl2)"/>
<rect x="373.90" y="860.60" width="133.60" height="49.20" fill="#e8e8e8" stroke="#222" stroke-width="1.3"/>
<rect x="384.9" y="877.4" width="22.1" height="9.8" rx="3.8" fill="#000" fill-opacity="1" filter="url(#bl)"/>
<rect x="413.6" y="878.0" width="23.4" height="11.0" rx="4.2" fill="#000" fill-opacity="1" filter="url(#bl)"/>
<rect x="444.5" y="880.5" width="18.9" height="8.0" rx="3.1" fill="#000" fill-opacity="0.9" filter="url(#bl)"/>
<rect x="471.8" y="880.0" width="21.6" height="11.0" rx="4.2" fill="#000" fill-opacity="1" filter="url(#bl)"/>
<text x="312.0" y="839.0" font-size="15" fill="#111">C-MYC</text>
<text x="312.0" y="881.2" font-size="15" fill="#111">GAPDH</text>
<text x="657.4" y="746.6" font-size="15.0" fill="#111">Patient #5</text>
<line x1="632.20" y1="762.80" x2="746.20" y2="762.80" stroke="#555" stroke-width="1.2"/>
<text x="534.8" y="775.1" font-size="11.5" fill="#111">Selinexor 10nM</text>
<text x="534.8" y="797.0" font-size="11.5" fill="#111">JQ1</text>
<text x="585.5" y="797.0" font-size="11.5" fill="#111">50nM</text>
<text x="643.7" y="775.3" font-size="12.5" font-weight="bold" text-anchor="middle" fill="#111">-</text>
<text x="671.8" y="775.3" font-size="12.5" font-weight="bold" text-anchor="middle" fill="#111">+</text>
<text x="701.2" y="775.3" font-size="12.5" font-weight="bold" text-anchor="middle" fill="#111">-</text>
<text x="732.7" y="775.3" font-size="12.5" font-weight="bold" text-anchor="middle" fill="#111">+</text>
<text x="643.7" y="796.2" font-size="12.5" font-weight="bold" text-anchor="middle" fill="#111">-</text>
<text x="671.8" y="796.2" font-size="12.5" font-weight="bold" text-anchor="middle" fill="#111">-</text>
<text x="701.2" y="796.2" font-size="12.5" font-weight="bold" text-anchor="middle" fill="#111">+</text>
<text x="732.7" y="796.2" font-size="12.5" font-weight="bold" text-anchor="middle" fill="#111">+</text>
<rect x="627.00" y="809.60" width="133.40" height="42.80" fill="#b9b9b9" stroke="#222" stroke-width="1.3"/>
<rect x="634.7" y="821.0" width="23.1" height="11.0" rx="4.2" fill="#000" fill-opacity="1" filter="url(#bl)"/>
<rect x="663.0" y="826.0" width="21.0" height="5.0" rx="1.9" fill="#000" fill-opacity="0.12" filter="url(#bl2)"/>
<rect x="692.0" y="826.0" width="21.0" height="5.0" rx="1.9" fill="#000" fill-opacity="0.12" filter="url(#bl2)"/>
<rect x="720.0" y="826.0" width="13.0" height="5.0" rx="1.9" fill="#000" fill-opacity="0.08" filter="url(#bl2)"/>
<rect x="627.00" y="855.80" width="133.40" height="48.80" fill="#dedede" stroke="#222" stroke-width="1.3"/>
<rect x="636.6" y="876.3" width="23.7" height="10.0" rx="3.8" fill="#000" fill-opacity="1" filter="url(#bl)"/>
<rect x="665.8" y="876.3" width="23.2" height="9.7" rx="3.7" fill="#000" fill-opacity="1" filter="url(#bl)"/>
<rect x="694.1" y="876.5" width="24.0" height="11.5" rx="4.4" fill="#000" fill-opacity="1" filter="url(#bl)"/>
<rect x="724.0" y="877.5" width="24.1" height="9.0" rx="3.5" fill="#000" fill-opacity="1" filter="url(#bl)"/>
<text x="564.8" y="834.0" font-size="15" fill="#111">C-MYC</text>
<text x="564.8" y="877.0" font-size="15" fill="#111">GAPDH</text>
</svg></body></html>
